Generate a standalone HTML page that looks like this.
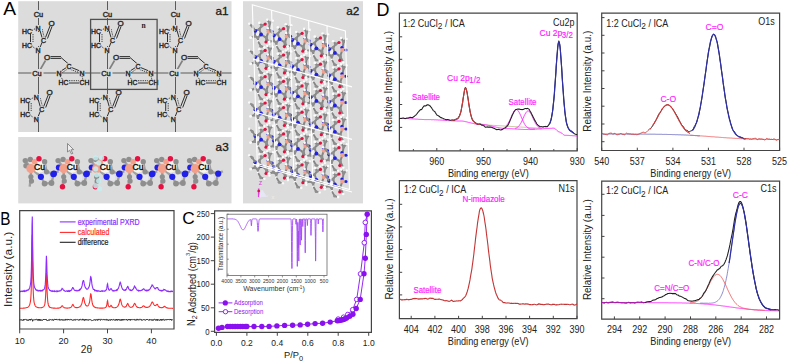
<!DOCTYPE html>
<html><head><meta charset="utf-8"><style>
html,body{margin:0;padding:0;background:#fff;width:788px;height:362px;overflow:hidden}
svg{display:block;font-family:"Liberation Sans",sans-serif}
</style></head><body>
<svg width="788" height="362" viewBox="0 0 788 362">
<defs><clipPath id="cpa3"><rect x="18.2" y="137" width="213.3" height="66.4"/></clipPath><clipPath id="cpa2"><rect x="243" y="1.2" width="120" height="202.2"/></clipPath></defs>
<rect width="788" height="362" fill="#fff"/>
<text x="3.3" y="14.6" font-size="19.2" fill="#000" text-anchor="start" >A</text>
<text transform="translate(0.2,224.9) scale(0.85,1)" font-size="18" fill="#000" text-anchor="start" >B</text>
<text x="182.2" y="224.3" font-size="17.3" fill="#000" text-anchor="start" >C</text>
<text transform="translate(376.4,15.5) scale(0.97,1)" font-size="18.5" fill="#000" text-anchor="start" >D</text>
<rect x="18.2" y="1.2" width="213.3" height="130.8" fill="#dcdcdc"/>
<rect x="18.2" y="137" width="213.3" height="66.4" fill="#dcdcdc"/>
<rect x="243" y="1.2" width="120" height="202.2" fill="#dcdcdc"/>
<g><line x1="18.2" y1="73" x2="231.5" y2="73" stroke="#5a5a5a" stroke-width="1.0"/><line x1="38.5" y1="1.2" x2="38.5" y2="132" stroke="#5a5a5a" stroke-width="1.0"/><line x1="107.5" y1="1.2" x2="107.5" y2="132" stroke="#5a5a5a" stroke-width="1.0"/><line x1="175.5" y1="1.2" x2="175.5" y2="132" stroke="#5a5a5a" stroke-width="1.0"/><rect x="33" y="10" width="11" height="8" fill="#dcdcdc"/><text x="38.5" y="14" font-size="7.4" fill="#2e2e2e" text-anchor="middle" dominant-baseline="central" stroke="#2e2e2e" stroke-width="0.45">Cu</text><rect x="34.5" y="32" width="8" height="14" fill="#dcdcdc"/><line x1="30.5" y1="34" x2="30.5" y2="42" stroke="#2e2e2e" stroke-width="1.0"/><line x1="33" y1="34" x2="33" y2="42" stroke="#2e2e2e" stroke-width="0.9" stroke-dasharray="1.3,1"/><line x1="32" y1="30.5" x2="35.5" y2="28.5" stroke="#2e2e2e" stroke-width="0.9" stroke-dasharray="1.3,1"/><line x1="32" y1="45.5" x2="35.5" y2="49.5" stroke="#2e2e2e" stroke-width="0.9" stroke-dasharray="1.3,1"/><line x1="40" y1="30.5" x2="42" y2="37.5" stroke="#2e2e2e" stroke-width="1.0"/><line x1="42" y1="29" x2="44" y2="36.5" stroke="#2e2e2e" stroke-width="0.9" stroke-dasharray="1.3,1"/><line x1="40" y1="47.5" x2="42" y2="42.5" stroke="#2e2e2e" stroke-width="1.0"/><line x1="45.5" y1="37.5" x2="50" y2="26" stroke="#2e2e2e" stroke-width="1.0"/><line x1="47.5" y1="38.5" x2="52" y2="26.5" stroke="#2e2e2e" stroke-width="1.0"/><rect x="35" y="25" width="7" height="6" fill="#dcdcdc"/><rect x="35" y="47" width="7" height="6" fill="#dcdcdc"/><text x="38" y="28" font-size="7.0" fill="#2e2e2e" text-anchor="middle" dominant-baseline="central" stroke="#2e2e2e" stroke-width="0.45">N</text><text x="27" y="31" font-size="6.8" fill="#2e2e2e" text-anchor="middle" dominant-baseline="central" stroke="#2e2e2e" stroke-width="0.45">HC</text><text x="43.5" y="40" font-size="7.0" fill="#2e2e2e" text-anchor="middle" dominant-baseline="central" stroke="#2e2e2e" stroke-width="0.45">C</text><text x="27" y="45" font-size="6.8" fill="#2e2e2e" text-anchor="middle" dominant-baseline="central" stroke="#2e2e2e" stroke-width="0.45">HC</text><text x="38" y="50" font-size="7.0" fill="#2e2e2e" text-anchor="middle" dominant-baseline="central" stroke="#2e2e2e" stroke-width="0.45">N</text><text x="51.5" y="23" font-size="8" fill="#2e2e2e" text-anchor="middle" dominant-baseline="central" stroke="#2e2e2e" stroke-width="0.45">O</text><rect x="32.7" y="101" width="8" height="14" fill="#dcdcdc"/><line x1="28.7" y1="103" x2="28.7" y2="111" stroke="#2e2e2e" stroke-width="1.0"/><line x1="31.2" y1="103" x2="31.2" y2="111" stroke="#2e2e2e" stroke-width="0.9" stroke-dasharray="1.3,1"/><line x1="30.2" y1="99.5" x2="33.7" y2="97.5" stroke="#2e2e2e" stroke-width="0.9" stroke-dasharray="1.3,1"/><line x1="30.2" y1="114.5" x2="33.7" y2="118.5" stroke="#2e2e2e" stroke-width="0.9" stroke-dasharray="1.3,1"/><line x1="38.2" y1="99.5" x2="40.2" y2="106.5" stroke="#2e2e2e" stroke-width="1.0"/><line x1="40.2" y1="98" x2="42.2" y2="105.5" stroke="#2e2e2e" stroke-width="0.9" stroke-dasharray="1.3,1"/><line x1="38.2" y1="116.5" x2="40.2" y2="111.5" stroke="#2e2e2e" stroke-width="1.0"/><line x1="43.7" y1="106.5" x2="48.2" y2="95" stroke="#2e2e2e" stroke-width="1.0"/><line x1="45.7" y1="107.5" x2="50.2" y2="95.5" stroke="#2e2e2e" stroke-width="1.0"/><rect x="33.2" y="94" width="7" height="6" fill="#dcdcdc"/><rect x="33.2" y="116" width="7" height="6" fill="#dcdcdc"/><text x="36.2" y="97" font-size="7.0" fill="#2e2e2e" text-anchor="middle" dominant-baseline="central" stroke="#2e2e2e" stroke-width="0.45">N</text><text x="25.2" y="100" font-size="6.8" fill="#2e2e2e" text-anchor="middle" dominant-baseline="central" stroke="#2e2e2e" stroke-width="0.45">HC</text><text x="41.7" y="109" font-size="7.0" fill="#2e2e2e" text-anchor="middle" dominant-baseline="central" stroke="#2e2e2e" stroke-width="0.45">C</text><text x="25.2" y="114" font-size="6.8" fill="#2e2e2e" text-anchor="middle" dominant-baseline="central" stroke="#2e2e2e" stroke-width="0.45">HC</text><text x="36.2" y="119" font-size="7.0" fill="#2e2e2e" text-anchor="middle" dominant-baseline="central" stroke="#2e2e2e" stroke-width="0.45">N</text><text x="49.7" y="92" font-size="8" fill="#2e2e2e" text-anchor="middle" dominant-baseline="central" stroke="#2e2e2e" stroke-width="0.45">O</text><line x1="40" y1="70" x2="45.5" y2="60.5" stroke="#808080" stroke-width="1.6"/><line x1="61" y1="71" x2="66.5" y2="67.5" stroke="#2e2e2e" stroke-width="1.0"/><line x1="62.5" y1="72.5" x2="67.5" y2="69" stroke="#2e2e2e" stroke-width="0.9" stroke-dasharray="1.3,1"/><line x1="71.5" y1="67.5" x2="80" y2="71" stroke="#2e2e2e" stroke-width="1.0"/><line x1="70.5" y1="69.5" x2="79" y2="72.5" stroke="#2e2e2e" stroke-width="0.9" stroke-dasharray="1.3,1"/><line x1="60" y1="76" x2="63" y2="80" stroke="#2e2e2e" stroke-width="0.9" stroke-dasharray="1.3,1"/><line x1="69" y1="83" x2="79" y2="83" stroke="#2e2e2e" stroke-width="1.0"/><line x1="69" y1="80.7" x2="79" y2="80.7" stroke="#2e2e2e" stroke-width="0.9" stroke-dasharray="1.3,1"/><line x1="82" y1="76" x2="83" y2="80" stroke="#2e2e2e" stroke-width="0.9" stroke-dasharray="1.3,1"/><line x1="68.5" y1="64" x2="61" y2="57.5" stroke="#2e2e2e" stroke-width="1.0"/><line x1="50.5" y1="56.6" x2="61" y2="56.6" stroke="#2e2e2e" stroke-width="1.0"/><line x1="50.5" y1="58.4" x2="61" y2="58.4" stroke="#2e2e2e" stroke-width="1.0"/><rect x="56.2" y="70" width="5.6" height="6" fill="#dcdcdc"/><text x="59" y="73" font-size="7.0" fill="#2e2e2e" text-anchor="middle" dominant-baseline="central" stroke="#2e2e2e" stroke-width="0.45">N</text><rect x="66.2" y="63.5" width="5.6" height="6" fill="#dcdcdc"/><text x="69" y="66.5" font-size="7.0" fill="#2e2e2e" text-anchor="middle" dominant-baseline="central" stroke="#2e2e2e" stroke-width="0.45">C</text><rect x="79.2" y="70" width="5.6" height="6" fill="#dcdcdc"/><text x="82" y="73" font-size="7.0" fill="#2e2e2e" text-anchor="middle" dominant-baseline="central" stroke="#2e2e2e" stroke-width="0.45">N</text><text x="63.5" y="82.5" font-size="6.8" fill="#2e2e2e" text-anchor="middle" dominant-baseline="central" stroke="#2e2e2e" stroke-width="0.45">HC</text><text x="84.5" y="82.5" font-size="6.8" fill="#2e2e2e" text-anchor="middle" dominant-baseline="central" stroke="#2e2e2e" stroke-width="0.45">CH</text><text x="47" y="57.5" font-size="8" fill="#2e2e2e" text-anchor="middle" dominant-baseline="central" stroke="#2e2e2e" stroke-width="0.45">O</text><rect x="102" y="10" width="11" height="8" fill="#dcdcdc"/><text x="107.5" y="14" font-size="7.4" fill="#2e2e2e" text-anchor="middle" dominant-baseline="central" stroke="#2e2e2e" stroke-width="0.45">Cu</text><rect x="103.5" y="32" width="8" height="14" fill="#dcdcdc"/><line x1="99.5" y1="34" x2="99.5" y2="42" stroke="#2e2e2e" stroke-width="1.0"/><line x1="102" y1="34" x2="102" y2="42" stroke="#2e2e2e" stroke-width="0.9" stroke-dasharray="1.3,1"/><line x1="101" y1="30.5" x2="104.5" y2="28.5" stroke="#2e2e2e" stroke-width="0.9" stroke-dasharray="1.3,1"/><line x1="101" y1="45.5" x2="104.5" y2="49.5" stroke="#2e2e2e" stroke-width="0.9" stroke-dasharray="1.3,1"/><line x1="109" y1="30.5" x2="111" y2="37.5" stroke="#2e2e2e" stroke-width="1.0"/><line x1="111" y1="29" x2="113" y2="36.5" stroke="#2e2e2e" stroke-width="0.9" stroke-dasharray="1.3,1"/><line x1="109" y1="47.5" x2="111" y2="42.5" stroke="#2e2e2e" stroke-width="1.0"/><line x1="114.5" y1="37.5" x2="119" y2="26" stroke="#2e2e2e" stroke-width="1.0"/><line x1="116.5" y1="38.5" x2="121" y2="26.5" stroke="#2e2e2e" stroke-width="1.0"/><rect x="104" y="25" width="7" height="6" fill="#dcdcdc"/><rect x="104" y="47" width="7" height="6" fill="#dcdcdc"/><text x="107" y="28" font-size="7.0" fill="#2e2e2e" text-anchor="middle" dominant-baseline="central" stroke="#2e2e2e" stroke-width="0.45">N</text><text x="96" y="31" font-size="6.8" fill="#2e2e2e" text-anchor="middle" dominant-baseline="central" stroke="#2e2e2e" stroke-width="0.45">HC</text><text x="112.5" y="40" font-size="7.0" fill="#2e2e2e" text-anchor="middle" dominant-baseline="central" stroke="#2e2e2e" stroke-width="0.45">C</text><text x="96" y="45" font-size="6.8" fill="#2e2e2e" text-anchor="middle" dominant-baseline="central" stroke="#2e2e2e" stroke-width="0.45">HC</text><text x="107" y="50" font-size="7.0" fill="#2e2e2e" text-anchor="middle" dominant-baseline="central" stroke="#2e2e2e" stroke-width="0.45">N</text><text x="120.5" y="23" font-size="8" fill="#2e2e2e" text-anchor="middle" dominant-baseline="central" stroke="#2e2e2e" stroke-width="0.45">O</text><rect x="101.7" y="101" width="8" height="14" fill="#dcdcdc"/><line x1="97.7" y1="103" x2="97.7" y2="111" stroke="#2e2e2e" stroke-width="1.0"/><line x1="100.2" y1="103" x2="100.2" y2="111" stroke="#2e2e2e" stroke-width="0.9" stroke-dasharray="1.3,1"/><line x1="99.2" y1="99.5" x2="102.7" y2="97.5" stroke="#2e2e2e" stroke-width="0.9" stroke-dasharray="1.3,1"/><line x1="99.2" y1="114.5" x2="102.7" y2="118.5" stroke="#2e2e2e" stroke-width="0.9" stroke-dasharray="1.3,1"/><line x1="107.2" y1="99.5" x2="109.2" y2="106.5" stroke="#2e2e2e" stroke-width="1.0"/><line x1="109.2" y1="98" x2="111.2" y2="105.5" stroke="#2e2e2e" stroke-width="0.9" stroke-dasharray="1.3,1"/><line x1="107.2" y1="116.5" x2="109.2" y2="111.5" stroke="#2e2e2e" stroke-width="1.0"/><line x1="112.7" y1="106.5" x2="117.2" y2="95" stroke="#2e2e2e" stroke-width="1.0"/><line x1="114.7" y1="107.5" x2="119.2" y2="95.5" stroke="#2e2e2e" stroke-width="1.0"/><rect x="102.2" y="94" width="7" height="6" fill="#dcdcdc"/><rect x="102.2" y="116" width="7" height="6" fill="#dcdcdc"/><text x="105.2" y="97" font-size="7.0" fill="#2e2e2e" text-anchor="middle" dominant-baseline="central" stroke="#2e2e2e" stroke-width="0.45">N</text><text x="94.2" y="100" font-size="6.8" fill="#2e2e2e" text-anchor="middle" dominant-baseline="central" stroke="#2e2e2e" stroke-width="0.45">HC</text><text x="110.7" y="109" font-size="7.0" fill="#2e2e2e" text-anchor="middle" dominant-baseline="central" stroke="#2e2e2e" stroke-width="0.45">C</text><text x="94.2" y="114" font-size="6.8" fill="#2e2e2e" text-anchor="middle" dominant-baseline="central" stroke="#2e2e2e" stroke-width="0.45">HC</text><text x="105.2" y="119" font-size="7.0" fill="#2e2e2e" text-anchor="middle" dominant-baseline="central" stroke="#2e2e2e" stroke-width="0.45">N</text><text x="118.7" y="92" font-size="8" fill="#2e2e2e" text-anchor="middle" dominant-baseline="central" stroke="#2e2e2e" stroke-width="0.45">O</text><line x1="109" y1="70" x2="114.5" y2="60.5" stroke="#808080" stroke-width="1.6"/><line x1="130" y1="71" x2="135.5" y2="67.5" stroke="#2e2e2e" stroke-width="1.0"/><line x1="131.5" y1="72.5" x2="136.5" y2="69" stroke="#2e2e2e" stroke-width="0.9" stroke-dasharray="1.3,1"/><line x1="140.5" y1="67.5" x2="149" y2="71" stroke="#2e2e2e" stroke-width="1.0"/><line x1="139.5" y1="69.5" x2="148" y2="72.5" stroke="#2e2e2e" stroke-width="0.9" stroke-dasharray="1.3,1"/><line x1="129" y1="76" x2="132" y2="80" stroke="#2e2e2e" stroke-width="0.9" stroke-dasharray="1.3,1"/><line x1="138" y1="83" x2="148" y2="83" stroke="#2e2e2e" stroke-width="1.0"/><line x1="138" y1="80.7" x2="148" y2="80.7" stroke="#2e2e2e" stroke-width="0.9" stroke-dasharray="1.3,1"/><line x1="151" y1="76" x2="152" y2="80" stroke="#2e2e2e" stroke-width="0.9" stroke-dasharray="1.3,1"/><line x1="137.5" y1="64" x2="130" y2="57.5" stroke="#2e2e2e" stroke-width="1.0"/><line x1="119.5" y1="56.6" x2="130" y2="56.6" stroke="#2e2e2e" stroke-width="1.0"/><line x1="119.5" y1="58.4" x2="130" y2="58.4" stroke="#2e2e2e" stroke-width="1.0"/><rect x="125.2" y="70" width="5.6" height="6" fill="#dcdcdc"/><text x="128" y="73" font-size="7.0" fill="#2e2e2e" text-anchor="middle" dominant-baseline="central" stroke="#2e2e2e" stroke-width="0.45">N</text><rect x="135.2" y="63.5" width="5.6" height="6" fill="#dcdcdc"/><text x="138" y="66.5" font-size="7.0" fill="#2e2e2e" text-anchor="middle" dominant-baseline="central" stroke="#2e2e2e" stroke-width="0.45">C</text><rect x="148.2" y="70" width="5.6" height="6" fill="#dcdcdc"/><text x="151" y="73" font-size="7.0" fill="#2e2e2e" text-anchor="middle" dominant-baseline="central" stroke="#2e2e2e" stroke-width="0.45">N</text><text x="132.5" y="82.5" font-size="6.8" fill="#2e2e2e" text-anchor="middle" dominant-baseline="central" stroke="#2e2e2e" stroke-width="0.45">HC</text><text x="153.5" y="82.5" font-size="6.8" fill="#2e2e2e" text-anchor="middle" dominant-baseline="central" stroke="#2e2e2e" stroke-width="0.45">CH</text><text x="116" y="57.5" font-size="8" fill="#2e2e2e" text-anchor="middle" dominant-baseline="central" stroke="#2e2e2e" stroke-width="0.45">O</text><rect x="170" y="10" width="11" height="8" fill="#dcdcdc"/><text x="175.5" y="14" font-size="7.4" fill="#2e2e2e" text-anchor="middle" dominant-baseline="central" stroke="#2e2e2e" stroke-width="0.45">Cu</text><rect x="171.5" y="32" width="8" height="14" fill="#dcdcdc"/><line x1="167.5" y1="34" x2="167.5" y2="42" stroke="#2e2e2e" stroke-width="1.0"/><line x1="170" y1="34" x2="170" y2="42" stroke="#2e2e2e" stroke-width="0.9" stroke-dasharray="1.3,1"/><line x1="169" y1="30.5" x2="172.5" y2="28.5" stroke="#2e2e2e" stroke-width="0.9" stroke-dasharray="1.3,1"/><line x1="169" y1="45.5" x2="172.5" y2="49.5" stroke="#2e2e2e" stroke-width="0.9" stroke-dasharray="1.3,1"/><line x1="177" y1="30.5" x2="179" y2="37.5" stroke="#2e2e2e" stroke-width="1.0"/><line x1="179" y1="29" x2="181" y2="36.5" stroke="#2e2e2e" stroke-width="0.9" stroke-dasharray="1.3,1"/><line x1="177" y1="47.5" x2="179" y2="42.5" stroke="#2e2e2e" stroke-width="1.0"/><line x1="182.5" y1="37.5" x2="187" y2="26" stroke="#2e2e2e" stroke-width="1.0"/><line x1="184.5" y1="38.5" x2="189" y2="26.5" stroke="#2e2e2e" stroke-width="1.0"/><rect x="172" y="25" width="7" height="6" fill="#dcdcdc"/><rect x="172" y="47" width="7" height="6" fill="#dcdcdc"/><text x="175" y="28" font-size="7.0" fill="#2e2e2e" text-anchor="middle" dominant-baseline="central" stroke="#2e2e2e" stroke-width="0.45">N</text><text x="164" y="31" font-size="6.8" fill="#2e2e2e" text-anchor="middle" dominant-baseline="central" stroke="#2e2e2e" stroke-width="0.45">HC</text><text x="180.5" y="40" font-size="7.0" fill="#2e2e2e" text-anchor="middle" dominant-baseline="central" stroke="#2e2e2e" stroke-width="0.45">C</text><text x="164" y="45" font-size="6.8" fill="#2e2e2e" text-anchor="middle" dominant-baseline="central" stroke="#2e2e2e" stroke-width="0.45">HC</text><text x="175" y="50" font-size="7.0" fill="#2e2e2e" text-anchor="middle" dominant-baseline="central" stroke="#2e2e2e" stroke-width="0.45">N</text><text x="188.5" y="23" font-size="8" fill="#2e2e2e" text-anchor="middle" dominant-baseline="central" stroke="#2e2e2e" stroke-width="0.45">O</text><rect x="169.7" y="101" width="8" height="14" fill="#dcdcdc"/><line x1="165.7" y1="103" x2="165.7" y2="111" stroke="#2e2e2e" stroke-width="1.0"/><line x1="168.2" y1="103" x2="168.2" y2="111" stroke="#2e2e2e" stroke-width="0.9" stroke-dasharray="1.3,1"/><line x1="167.2" y1="99.5" x2="170.7" y2="97.5" stroke="#2e2e2e" stroke-width="0.9" stroke-dasharray="1.3,1"/><line x1="167.2" y1="114.5" x2="170.7" y2="118.5" stroke="#2e2e2e" stroke-width="0.9" stroke-dasharray="1.3,1"/><line x1="175.2" y1="99.5" x2="177.2" y2="106.5" stroke="#2e2e2e" stroke-width="1.0"/><line x1="177.2" y1="98" x2="179.2" y2="105.5" stroke="#2e2e2e" stroke-width="0.9" stroke-dasharray="1.3,1"/><line x1="175.2" y1="116.5" x2="177.2" y2="111.5" stroke="#2e2e2e" stroke-width="1.0"/><line x1="180.7" y1="106.5" x2="185.2" y2="95" stroke="#2e2e2e" stroke-width="1.0"/><line x1="182.7" y1="107.5" x2="187.2" y2="95.5" stroke="#2e2e2e" stroke-width="1.0"/><rect x="170.2" y="94" width="7" height="6" fill="#dcdcdc"/><rect x="170.2" y="116" width="7" height="6" fill="#dcdcdc"/><text x="173.2" y="97" font-size="7.0" fill="#2e2e2e" text-anchor="middle" dominant-baseline="central" stroke="#2e2e2e" stroke-width="0.45">N</text><text x="162.2" y="100" font-size="6.8" fill="#2e2e2e" text-anchor="middle" dominant-baseline="central" stroke="#2e2e2e" stroke-width="0.45">HC</text><text x="178.7" y="109" font-size="7.0" fill="#2e2e2e" text-anchor="middle" dominant-baseline="central" stroke="#2e2e2e" stroke-width="0.45">C</text><text x="162.2" y="114" font-size="6.8" fill="#2e2e2e" text-anchor="middle" dominant-baseline="central" stroke="#2e2e2e" stroke-width="0.45">HC</text><text x="173.2" y="119" font-size="7.0" fill="#2e2e2e" text-anchor="middle" dominant-baseline="central" stroke="#2e2e2e" stroke-width="0.45">N</text><text x="186.7" y="92" font-size="8" fill="#2e2e2e" text-anchor="middle" dominant-baseline="central" stroke="#2e2e2e" stroke-width="0.45">O</text><line x1="177" y1="70" x2="182.5" y2="60.5" stroke="#808080" stroke-width="1.6"/><line x1="198" y1="71" x2="203.5" y2="67.5" stroke="#2e2e2e" stroke-width="1.0"/><line x1="199.5" y1="72.5" x2="204.5" y2="69" stroke="#2e2e2e" stroke-width="0.9" stroke-dasharray="1.3,1"/><line x1="208.5" y1="67.5" x2="217" y2="71" stroke="#2e2e2e" stroke-width="1.0"/><line x1="207.5" y1="69.5" x2="216" y2="72.5" stroke="#2e2e2e" stroke-width="0.9" stroke-dasharray="1.3,1"/><line x1="197" y1="76" x2="200" y2="80" stroke="#2e2e2e" stroke-width="0.9" stroke-dasharray="1.3,1"/><line x1="206" y1="83" x2="216" y2="83" stroke="#2e2e2e" stroke-width="1.0"/><line x1="206" y1="80.7" x2="216" y2="80.7" stroke="#2e2e2e" stroke-width="0.9" stroke-dasharray="1.3,1"/><line x1="219" y1="76" x2="220" y2="80" stroke="#2e2e2e" stroke-width="0.9" stroke-dasharray="1.3,1"/><line x1="205.5" y1="64" x2="198" y2="57.5" stroke="#2e2e2e" stroke-width="1.0"/><line x1="187.5" y1="56.6" x2="198" y2="56.6" stroke="#2e2e2e" stroke-width="1.0"/><line x1="187.5" y1="58.4" x2="198" y2="58.4" stroke="#2e2e2e" stroke-width="1.0"/><rect x="193.2" y="70" width="5.6" height="6" fill="#dcdcdc"/><text x="196" y="73" font-size="7.0" fill="#2e2e2e" text-anchor="middle" dominant-baseline="central" stroke="#2e2e2e" stroke-width="0.45">N</text><rect x="203.2" y="63.5" width="5.6" height="6" fill="#dcdcdc"/><text x="206" y="66.5" font-size="7.0" fill="#2e2e2e" text-anchor="middle" dominant-baseline="central" stroke="#2e2e2e" stroke-width="0.45">C</text><rect x="216.2" y="70" width="5.6" height="6" fill="#dcdcdc"/><text x="219" y="73" font-size="7.0" fill="#2e2e2e" text-anchor="middle" dominant-baseline="central" stroke="#2e2e2e" stroke-width="0.45">N</text><text x="200.5" y="82.5" font-size="6.8" fill="#2e2e2e" text-anchor="middle" dominant-baseline="central" stroke="#2e2e2e" stroke-width="0.45">HC</text><text x="221.5" y="82.5" font-size="6.8" fill="#2e2e2e" text-anchor="middle" dominant-baseline="central" stroke="#2e2e2e" stroke-width="0.45">CH</text><text x="184" y="57.5" font-size="8" fill="#2e2e2e" text-anchor="middle" dominant-baseline="central" stroke="#2e2e2e" stroke-width="0.45">O</text><rect x="31.5" y="69" width="12" height="8" fill="#dcdcdc"/><text x="37" y="73" font-size="7.4" fill="#2e2e2e" text-anchor="middle" dominant-baseline="central" stroke="#2e2e2e" stroke-width="0.45">Cu</text><rect x="100.5" y="69" width="12" height="8" fill="#dcdcdc"/><text x="106" y="73" font-size="7.4" fill="#2e2e2e" text-anchor="middle" dominant-baseline="central" stroke="#2e2e2e" stroke-width="0.45">Cu</text><rect x="168.5" y="69" width="12" height="8" fill="#dcdcdc"/><text x="174" y="73" font-size="7.4" fill="#2e2e2e" text-anchor="middle" dominant-baseline="central" stroke="#2e2e2e" stroke-width="0.45">Cu</text></g>
<rect x="90.6" y="19.4" width="66.5" height="70" fill="none" stroke="#505050" stroke-width="1.3"/>
<text x="143.6" y="27.8" font-size="7.5" fill="#222" text-anchor="middle" font-family="Liberation Serif" font-weight="bold">n</text>
<text transform="translate(215.4,14.5) scale(1.05,1)" font-size="11.2" fill="#1a1a1a" text-anchor="start" stroke="#1a1a1a" stroke-width="0.3">a1</text>
<text transform="translate(215.6,151) scale(1.05,1)" font-size="11.2" fill="#1a1a1a" text-anchor="start" stroke="#1a1a1a" stroke-width="0.3">a3</text>
<text transform="translate(346.2,15) scale(1.05,1)" font-size="11.2" fill="#1a1a1a" text-anchor="start" stroke="#1a1a1a" stroke-width="0.3">a2</text>
<g clip-path="url(#cpa3)"><path d="M25.3,160.6 L30.9,168.1 L30.9,176.8 L29.7,186.7 M30.9,168.1 L40.9,176.8 L44.6,183.6 L51.5,183 L53.9,173.7 L46.5,171.8 L44.6,161.8 M53.9,173.7 L58.5,171.3" stroke="#a0a0a0" stroke-width="2.4" fill="none"/><circle cx="46.5" cy="177.4" r="3.2" fill="#e6e6ee"/><circle cx="39.3" cy="166.5" r="6.2" fill="#f8f4ea"/><circle cx="25.3" cy="160.6" r="2.7" fill="#8e8e8e"/><circle cx="30.3" cy="159.4" r="2.7" fill="#8e8e8e"/><circle cx="44.6" cy="161.8" r="2.7" fill="#8e8e8e"/><circle cx="46.5" cy="171.8" r="2.6" fill="#8e8e8e"/><circle cx="26" cy="165.8" r="2.7" fill="#8e8e8e"/><circle cx="30.9" cy="168.6" r="4.6" fill="#f2a08c"/><circle cx="34.7" cy="161.8" r="2.8" fill="#f2a08c"/><circle cx="30.9" cy="176.8" r="2.6" fill="#8e8e8e"/><circle cx="31.5" cy="181.1" r="2.6" fill="#8e8e8e"/><circle cx="40.9" cy="176.8" r="3.1" fill="#2020e8"/><circle cx="53.9" cy="173.7" r="3.1" fill="#2020e8"/><circle cx="44.6" cy="183.6" r="2.9" fill="#8e8e8e"/><circle cx="51.5" cy="183" r="2.9" fill="#8e8e8e"/><circle cx="39" cy="158.7" r="2.7" fill="#e81040"/><text x="39.5" y="166.8" font-size="8.6" fill="#111" text-anchor="middle" dominant-baseline="central" stroke="#111" stroke-width="0.4">Cu</text><path d="M58.1,160.6 L63.7,168.1 L63.7,176.8 L62.5,186.7 M63.7,168.1 L73.8,176.8 L77.4,183.6 L84.3,183 L86.8,173.7 L79.3,171.8 L77.4,161.8 M86.8,173.7 L91.3,171.3" stroke="#a0a0a0" stroke-width="2.4" fill="none"/><circle cx="79.3" cy="177.4" r="3.2" fill="#e6e6ee"/><circle cx="72.1" cy="166.5" r="6.2" fill="#f8f4ea"/><circle cx="58.1" cy="160.6" r="2.7" fill="#8e8e8e"/><circle cx="63.1" cy="159.4" r="2.7" fill="#8e8e8e"/><circle cx="77.4" cy="161.8" r="2.7" fill="#8e8e8e"/><circle cx="79.3" cy="171.8" r="2.6" fill="#8e8e8e"/><circle cx="58.8" cy="167.4" r="3" fill="#2020e8"/><circle cx="53.3" cy="174.3" r="3" fill="#2020e8"/><circle cx="63.7" cy="168.6" r="4.6" fill="#f2a08c"/><circle cx="67.5" cy="161.8" r="2.8" fill="#f2a08c"/><circle cx="63.7" cy="176.8" r="2.6" fill="#8e8e8e"/><circle cx="64.3" cy="181.1" r="2.6" fill="#8e8e8e"/><circle cx="62.5" cy="186.7" r="2.7" fill="#e81040"/><circle cx="73.8" cy="176.8" r="3.1" fill="#2020e8"/><circle cx="86.8" cy="173.7" r="3.1" fill="#2020e8"/><circle cx="77.4" cy="183.6" r="2.9" fill="#8e8e8e"/><circle cx="84.3" cy="183" r="2.9" fill="#8e8e8e"/><circle cx="71.8" cy="158.7" r="2.7" fill="#e81040"/><text x="72.3" y="166.8" font-size="8.6" fill="#111" text-anchor="middle" dominant-baseline="central" stroke="#111" stroke-width="0.4">Cu</text><path d="M91,160.6 L96.6,168.1 L96.6,176.8 L95.4,186.7 M96.6,168.1 L106.6,176.8 L110.3,183.6 L117.2,183 L119.6,173.7 L112.2,171.8 L110.3,161.8 M119.6,173.7 L124.2,171.3" stroke="#a0a0a0" stroke-width="2.4" fill="none"/><circle cx="112.2" cy="177.4" r="3.2" fill="#e6e6ee"/><circle cx="105" cy="166.5" r="6.2" fill="#f8f4ea"/><circle cx="91" cy="160.6" r="2.7" fill="#8e8e8e"/><circle cx="96" cy="159.4" r="2.7" fill="#8e8e8e"/><circle cx="110.3" cy="161.8" r="2.7" fill="#8e8e8e"/><circle cx="112.2" cy="171.8" r="2.6" fill="#8e8e8e"/><circle cx="91.7" cy="167.4" r="3" fill="#2020e8"/><circle cx="86.2" cy="174.3" r="3" fill="#2020e8"/><circle cx="96.6" cy="168.6" r="4.6" fill="#f2a08c"/><circle cx="100.4" cy="161.8" r="2.8" fill="#f2a08c"/><circle cx="96.6" cy="176.8" r="2.6" fill="#8e8e8e"/><circle cx="97.2" cy="181.1" r="2.6" fill="#8e8e8e"/><circle cx="95.4" cy="186.7" r="2.7" fill="#e81040"/><circle cx="106.6" cy="176.8" r="3.1" fill="#2020e8"/><circle cx="119.6" cy="173.7" r="3.1" fill="#2020e8"/><circle cx="110.3" cy="183.6" r="2.9" fill="#8e8e8e"/><circle cx="117.2" cy="183" r="2.9" fill="#8e8e8e"/><circle cx="104.7" cy="158.7" r="2.7" fill="#e81040"/><text x="105.2" y="166.8" font-size="8.6" fill="#111" text-anchor="middle" dominant-baseline="central" stroke="#111" stroke-width="0.4">Cu</text><circle cx="95.7" cy="157.8" r="2.6" fill="#c4eef0" opacity="0.85"/><circle cx="98.7" cy="162.8" r="2.6" fill="#c4eef0" opacity="0.85"/><circle cx="95.7" cy="168.8" r="2.6" fill="#c4eef0" opacity="0.85"/><circle cx="96.7" cy="174.8" r="2.6" fill="#c4eef0" opacity="0.85"/><circle cx="98.7" cy="180.8" r="2.6" fill="#c4eef0" opacity="0.85"/><circle cx="95.7" cy="185.8" r="2.6" fill="#c4eef0" opacity="0.85"/><circle cx="99.7" cy="188.8" r="2.6" fill="#c4eef0" opacity="0.85"/><circle cx="101.7" cy="157.8" r="2.6" fill="#c4eef0" opacity="0.85"/><path d="M123.9,160.6 L129.5,168.1 L129.5,176.8 L128.2,186.7 M129.5,168.1 L139.5,176.8 L143.2,183.6 L150.1,183 L152.5,173.7 L145.1,171.8 L143.2,161.8 M152.5,173.7 L157.1,171.3" stroke="#a0a0a0" stroke-width="2.4" fill="none"/><circle cx="145.1" cy="177.4" r="3.2" fill="#e6e6ee"/><circle cx="137.9" cy="166.5" r="6.2" fill="#f8f4ea"/><circle cx="123.9" cy="160.6" r="2.7" fill="#8e8e8e"/><circle cx="128.9" cy="159.4" r="2.7" fill="#8e8e8e"/><circle cx="143.2" cy="161.8" r="2.7" fill="#8e8e8e"/><circle cx="145.1" cy="171.8" r="2.6" fill="#8e8e8e"/><circle cx="124.6" cy="167.4" r="3" fill="#2020e8"/><circle cx="119.1" cy="174.3" r="3" fill="#2020e8"/><circle cx="129.5" cy="168.6" r="4.6" fill="#f2a08c"/><circle cx="133.2" cy="161.8" r="2.8" fill="#f2a08c"/><circle cx="129.5" cy="176.8" r="2.6" fill="#8e8e8e"/><circle cx="130.1" cy="181.1" r="2.6" fill="#8e8e8e"/><circle cx="128.2" cy="186.7" r="2.7" fill="#e81040"/><circle cx="139.5" cy="176.8" r="3.1" fill="#2020e8"/><circle cx="152.5" cy="173.7" r="3.1" fill="#2020e8"/><circle cx="143.2" cy="183.6" r="2.9" fill="#8e8e8e"/><circle cx="150.1" cy="183" r="2.9" fill="#8e8e8e"/><circle cx="137.6" cy="158.7" r="2.7" fill="#e81040"/><text x="138.1" y="166.8" font-size="8.6" fill="#111" text-anchor="middle" dominant-baseline="central" stroke="#111" stroke-width="0.4">Cu</text><path d="M156.7,160.6 L162.3,168.1 L162.3,176.8 L161.1,186.7 M162.3,168.1 L172.3,176.8 L176,183.6 L182.9,183 L185.3,173.7 L177.9,171.8 L176,161.8 M185.3,173.7 L189.9,171.3" stroke="#a0a0a0" stroke-width="2.4" fill="none"/><circle cx="177.9" cy="177.4" r="3.2" fill="#e6e6ee"/><circle cx="170.7" cy="166.5" r="6.2" fill="#f8f4ea"/><circle cx="156.7" cy="160.6" r="2.7" fill="#8e8e8e"/><circle cx="161.7" cy="159.4" r="2.7" fill="#8e8e8e"/><circle cx="176" cy="161.8" r="2.7" fill="#8e8e8e"/><circle cx="177.9" cy="171.8" r="2.6" fill="#8e8e8e"/><circle cx="157.4" cy="167.4" r="3" fill="#2020e8"/><circle cx="151.9" cy="174.3" r="3" fill="#2020e8"/><circle cx="162.3" cy="168.6" r="4.6" fill="#f2a08c"/><circle cx="166.1" cy="161.8" r="2.8" fill="#f2a08c"/><circle cx="162.3" cy="176.8" r="2.6" fill="#8e8e8e"/><circle cx="162.9" cy="181.1" r="2.6" fill="#8e8e8e"/><circle cx="161.1" cy="186.7" r="2.7" fill="#e81040"/><circle cx="172.3" cy="176.8" r="3.1" fill="#2020e8"/><circle cx="185.3" cy="173.7" r="3.1" fill="#2020e8"/><circle cx="176" cy="183.6" r="2.9" fill="#8e8e8e"/><circle cx="182.9" cy="183" r="2.9" fill="#8e8e8e"/><circle cx="170.4" cy="158.7" r="2.7" fill="#e81040"/><text x="170.9" y="166.8" font-size="8.6" fill="#111" text-anchor="middle" dominant-baseline="central" stroke="#111" stroke-width="0.4">Cu</text><path d="M189.6,160.6 L195.2,168.1 L195.2,176.8 L193.9,186.7 M195.2,168.1 L205.2,176.8 L208.8,183.6 L215.8,183 L218.2,173.7 L210.8,171.8 L208.8,161.8 M218.2,173.7 L222.8,171.3" stroke="#a0a0a0" stroke-width="2.4" fill="none"/><circle cx="210.8" cy="177.4" r="3.2" fill="#e6e6ee"/><circle cx="203.6" cy="166.5" r="6.2" fill="#f8f4ea"/><circle cx="189.6" cy="160.6" r="2.7" fill="#8e8e8e"/><circle cx="194.6" cy="159.4" r="2.7" fill="#8e8e8e"/><circle cx="208.8" cy="161.8" r="2.7" fill="#8e8e8e"/><circle cx="210.8" cy="171.8" r="2.6" fill="#8e8e8e"/><circle cx="190.2" cy="167.4" r="3" fill="#2020e8"/><circle cx="184.8" cy="174.3" r="3" fill="#2020e8"/><circle cx="195.2" cy="168.6" r="4.6" fill="#f2a08c"/><circle cx="198.9" cy="161.8" r="2.8" fill="#f2a08c"/><circle cx="195.2" cy="176.8" r="2.6" fill="#8e8e8e"/><circle cx="195.8" cy="181.1" r="2.6" fill="#8e8e8e"/><circle cx="193.9" cy="186.7" r="2.7" fill="#e81040"/><circle cx="205.2" cy="176.8" r="3.1" fill="#2020e8"/><circle cx="218.2" cy="173.7" r="3.1" fill="#2020e8"/><circle cx="208.8" cy="183.6" r="2.9" fill="#8e8e8e"/><circle cx="215.8" cy="183" r="2.9" fill="#8e8e8e"/><circle cx="203.2" cy="158.7" r="2.7" fill="#e81040"/><text x="203.8" y="166.8" font-size="8.6" fill="#111" text-anchor="middle" dominant-baseline="central" stroke="#111" stroke-width="0.4">Cu</text></g>
<path d="M67.5,143.5 L67.5,152 L69.5,150.3 L71.5,154 L72.8,153.4 L70.9,149.8 L73.6,149.6 Z" fill="#eee" stroke="#666" stroke-width="0.7"/>
<g clip-path="url(#cpa2)"><path d="M255.3,30.8 L259.3,29.2 L261.1,34.5 L257.8,37.8 L254.9,36.1 Z" stroke="#858585" stroke-width="2" fill="#f2f2f6"/><path d="M259.3,29.2 L261.9,25.8 L265.2,24.1 M261.9,25.8 L259.4,22.9 M261.1,34.5 L266.4,37.8 L266,42 M266.4,37.8 L268.5,31.6 L269.8,23.3 M268.5,31.6 L272.2,31.6 M254.9,36.1 L250.7,37.4 M257.8,37.8 L258.2,41.5 M266.4,37.8 L269.4,44 M269.8,23.3 L272.8,20.7 M269.8,23.3 L267.3,19.7" stroke="#858585" stroke-width="2" fill="none"/><circle cx="255.3" cy="30.8" r="1.9" fill="#2020e8"/><circle cx="261.1" cy="34.5" r="1.9" fill="#2020e8"/><circle cx="254.9" cy="36.1" r="1.6" fill="#8e8e8e"/><circle cx="257.8" cy="37.8" r="1.6" fill="#8e8e8e"/><circle cx="259.3" cy="29.2" r="1.5" fill="#8e8e8e"/><circle cx="261.9" cy="25.8" r="1.6" fill="#8e8e8e"/><circle cx="266.4" cy="37.8" r="1.6" fill="#8e8e8e"/><circle cx="265.2" cy="24.1" r="1.6" fill="#e81040"/><circle cx="266" cy="42" r="1.6" fill="#e81040"/><circle cx="259.4" cy="22.9" r="1.4" fill="#fafafa"/><circle cx="250.7" cy="37.4" r="1.5" fill="#fafafa"/><circle cx="258.2" cy="41.5" r="1.4" fill="#fafafa"/><circle cx="269.4" cy="44" r="1.3" fill="#fafafa"/><circle cx="272.8" cy="20.7" r="1.3" fill="#fafafa"/><circle cx="267.3" cy="19.7" r="1.3" fill="#fafafa"/><circle cx="269.8" cy="23.3" r="1.5" fill="#8e8e8e"/><circle cx="268.1" cy="29.1" r="1.6" fill="#2020e8"/><circle cx="272.2" cy="31.6" r="1.5" fill="#2020e8"/><circle cx="268.5" cy="31.6" r="2.1" fill="#f2a08c"/><path d="M258.2,41.5 L260.8,46.2 L264.3,47.2 M255.3,30.8 L252.3,26.2 L249.3,23.7" stroke="#858585" stroke-width="1.8" fill="none"/><circle cx="260.8" cy="46.2" r="1.5" fill="#8e8e8e"/><circle cx="264.3" cy="47.2" r="1.3" fill="#fafafa"/><circle cx="252.3" cy="26.2" r="1.5" fill="#8e8e8e"/><circle cx="249.3" cy="23.7" r="1.3" fill="#fafafa"/><path d="M273.8,35.4 L277.8,33.8 L279.6,39.1 L276.2,42.4 L273.4,40.7 Z" stroke="#858585" stroke-width="2" fill="#f2f2f6"/><path d="M277.8,33.8 L280.4,30.4 L283.6,28.7 M280.4,30.4 L277.9,27.5 M279.6,39.1 L284.9,42.4 L284.4,46.6 M284.9,42.4 L286.9,36.2 L288.2,27.9 M286.9,36.2 L290.6,36.2 M273.4,40.7 L269.1,42 M276.2,42.4 L276.6,46.1 M284.9,42.4 L287.9,48.6 M288.2,27.9 L291.2,25.3 M288.2,27.9 L285.8,24.3" stroke="#858585" stroke-width="2" fill="none"/><circle cx="273.8" cy="35.4" r="1.9" fill="#2020e8"/><circle cx="279.6" cy="39.1" r="1.9" fill="#2020e8"/><circle cx="273.4" cy="40.7" r="1.6" fill="#8e8e8e"/><circle cx="276.2" cy="42.4" r="1.6" fill="#8e8e8e"/><circle cx="277.8" cy="33.8" r="1.5" fill="#8e8e8e"/><circle cx="280.4" cy="30.4" r="1.6" fill="#8e8e8e"/><circle cx="284.9" cy="42.4" r="1.6" fill="#8e8e8e"/><circle cx="283.6" cy="28.7" r="1.6" fill="#e81040"/><circle cx="284.4" cy="46.6" r="1.6" fill="#e81040"/><circle cx="277.9" cy="27.5" r="1.4" fill="#fafafa"/><circle cx="269.1" cy="42" r="1.5" fill="#fafafa"/><circle cx="276.6" cy="46.1" r="1.4" fill="#fafafa"/><circle cx="287.9" cy="48.6" r="1.3" fill="#fafafa"/><circle cx="291.2" cy="25.3" r="1.3" fill="#fafafa"/><circle cx="285.8" cy="24.3" r="1.3" fill="#fafafa"/><circle cx="288.2" cy="27.9" r="1.5" fill="#8e8e8e"/><circle cx="286.6" cy="33.7" r="1.6" fill="#2020e8"/><circle cx="290.6" cy="36.2" r="1.5" fill="#2020e8"/><circle cx="286.9" cy="36.2" r="2.1" fill="#f2a08c"/><path d="M276.6,46.1 L279.2,50.8 L282.8,51.8 M273.8,35.4 L270.8,30.8 L267.8,28.3" stroke="#858585" stroke-width="1.8" fill="none"/><circle cx="279.2" cy="50.8" r="1.5" fill="#8e8e8e"/><circle cx="282.8" cy="51.8" r="1.3" fill="#fafafa"/><circle cx="270.8" cy="30.8" r="1.5" fill="#8e8e8e"/><circle cx="267.8" cy="28.3" r="1.3" fill="#fafafa"/><path d="M292.2,40 L296.2,38.4 L298,43.7 L294.7,47 L291.8,45.3 Z" stroke="#858585" stroke-width="2" fill="#f2f2f6"/><path d="M296.2,38.4 L298.8,35 L302.1,33.3 M298.8,35 L296.3,32.1 M298,43.7 L303.3,47 L302.9,51.2 M303.3,47 L305.4,40.8 L306.7,32.5 M305.4,40.8 L309.1,40.8 M291.8,45.3 L287.6,46.6 M294.7,47 L295.1,50.7 M303.3,47 L306.3,53.2 M306.7,32.5 L309.7,29.9 M306.7,32.5 L304.2,28.9" stroke="#858585" stroke-width="2" fill="none"/><circle cx="292.2" cy="40" r="1.9" fill="#2020e8"/><circle cx="298" cy="43.7" r="1.9" fill="#2020e8"/><circle cx="291.8" cy="45.3" r="1.6" fill="#8e8e8e"/><circle cx="294.7" cy="47" r="1.6" fill="#8e8e8e"/><circle cx="296.2" cy="38.4" r="1.5" fill="#8e8e8e"/><circle cx="298.8" cy="35" r="1.6" fill="#8e8e8e"/><circle cx="303.3" cy="47" r="1.6" fill="#8e8e8e"/><circle cx="302.1" cy="33.3" r="1.6" fill="#e81040"/><circle cx="302.9" cy="51.2" r="1.6" fill="#e81040"/><circle cx="296.3" cy="32.1" r="1.4" fill="#fafafa"/><circle cx="287.6" cy="46.6" r="1.5" fill="#fafafa"/><circle cx="295.1" cy="50.7" r="1.4" fill="#fafafa"/><circle cx="306.3" cy="53.2" r="1.3" fill="#fafafa"/><circle cx="309.7" cy="29.9" r="1.3" fill="#fafafa"/><circle cx="304.2" cy="28.9" r="1.3" fill="#fafafa"/><circle cx="306.7" cy="32.5" r="1.5" fill="#8e8e8e"/><circle cx="305" cy="38.3" r="1.6" fill="#2020e8"/><circle cx="309.1" cy="40.8" r="1.5" fill="#2020e8"/><circle cx="305.4" cy="40.8" r="2.1" fill="#f2a08c"/><path d="M295.1,50.7 L297.7,55.4 L301.2,56.4 M292.2,40 L289.2,35.4 L286.2,32.9" stroke="#858585" stroke-width="1.8" fill="none"/><circle cx="297.7" cy="55.4" r="1.5" fill="#8e8e8e"/><circle cx="301.2" cy="56.4" r="1.3" fill="#fafafa"/><circle cx="289.2" cy="35.4" r="1.5" fill="#8e8e8e"/><circle cx="286.2" cy="32.9" r="1.3" fill="#fafafa"/><path d="M310.6,44.6 L314.6,43 L316.4,48.3 L313.1,51.6 L310.2,49.9 Z" stroke="#858585" stroke-width="2" fill="#f2f2f6"/><path d="M314.6,43 L317.2,39.6 L320.5,37.9 M317.2,39.6 L314.8,36.7 M316.4,48.3 L321.8,51.6 L321.3,55.8 M321.8,51.6 L323.8,45.4 L325.1,37.1 M323.8,45.4 L327.5,45.4 M310.2,49.9 L306,51.2 M313.1,51.6 L313.5,55.3 M321.8,51.6 L324.8,57.8 M325.1,37.1 L328.1,34.5 M325.1,37.1 L322.6,33.5" stroke="#858585" stroke-width="2" fill="none"/><circle cx="310.6" cy="44.6" r="1.9" fill="#2020e8"/><circle cx="316.4" cy="48.3" r="1.9" fill="#2020e8"/><circle cx="310.2" cy="49.9" r="1.6" fill="#8e8e8e"/><circle cx="313.1" cy="51.6" r="1.6" fill="#8e8e8e"/><circle cx="314.6" cy="43" r="1.5" fill="#8e8e8e"/><circle cx="317.2" cy="39.6" r="1.6" fill="#8e8e8e"/><circle cx="321.8" cy="51.6" r="1.6" fill="#8e8e8e"/><circle cx="320.5" cy="37.9" r="1.6" fill="#e81040"/><circle cx="321.3" cy="55.8" r="1.6" fill="#e81040"/><circle cx="314.8" cy="36.7" r="1.4" fill="#fafafa"/><circle cx="306" cy="51.2" r="1.5" fill="#fafafa"/><circle cx="313.5" cy="55.3" r="1.4" fill="#fafafa"/><circle cx="324.8" cy="57.8" r="1.3" fill="#fafafa"/><circle cx="328.1" cy="34.5" r="1.3" fill="#fafafa"/><circle cx="322.6" cy="33.5" r="1.3" fill="#fafafa"/><circle cx="325.1" cy="37.1" r="1.5" fill="#8e8e8e"/><circle cx="323.4" cy="42.9" r="1.6" fill="#2020e8"/><circle cx="327.5" cy="45.4" r="1.5" fill="#2020e8"/><circle cx="323.8" cy="45.4" r="2.1" fill="#f2a08c"/><path d="M313.5,55.3 L316.1,60 L319.6,61 M310.6,44.6 L307.6,40 L304.6,37.5" stroke="#858585" stroke-width="1.8" fill="none"/><circle cx="316.1" cy="60" r="1.5" fill="#8e8e8e"/><circle cx="319.6" cy="61" r="1.3" fill="#fafafa"/><circle cx="307.6" cy="40" r="1.5" fill="#8e8e8e"/><circle cx="304.6" cy="37.5" r="1.3" fill="#fafafa"/><path d="M329.1,49.2 L333.1,47.6 L334.9,52.9 L331.6,56.2 L328.7,54.5 Z" stroke="#858585" stroke-width="2" fill="#f2f2f6"/><path d="M333.1,47.6 L335.7,44.2 L339,42.5 M335.7,44.2 L333.2,41.3 M334.9,52.9 L340.2,56.2 L339.8,60.4 M340.2,56.2 L342.3,50 L343.6,41.7 M342.3,50 L346,50 M328.7,54.5 L324.5,55.8 M331.6,56.2 L332,59.9 M340.2,56.2 L343.2,62.4 M343.6,41.7 L346.6,39.1 M343.6,41.7 L341.1,38.1" stroke="#858585" stroke-width="2" fill="none"/><circle cx="329.1" cy="49.2" r="1.9" fill="#2020e8"/><circle cx="334.9" cy="52.9" r="1.9" fill="#2020e8"/><circle cx="328.7" cy="54.5" r="1.6" fill="#8e8e8e"/><circle cx="331.6" cy="56.2" r="1.6" fill="#8e8e8e"/><circle cx="333.1" cy="47.6" r="1.5" fill="#8e8e8e"/><circle cx="335.7" cy="44.2" r="1.6" fill="#8e8e8e"/><circle cx="340.2" cy="56.2" r="1.6" fill="#8e8e8e"/><circle cx="339" cy="42.5" r="1.6" fill="#e81040"/><circle cx="339.8" cy="60.4" r="1.6" fill="#e81040"/><circle cx="333.2" cy="41.3" r="1.4" fill="#fafafa"/><circle cx="324.5" cy="55.8" r="1.5" fill="#fafafa"/><circle cx="332" cy="59.9" r="1.4" fill="#fafafa"/><circle cx="343.2" cy="62.4" r="1.3" fill="#fafafa"/><circle cx="346.6" cy="39.1" r="1.3" fill="#fafafa"/><circle cx="341.1" cy="38.1" r="1.3" fill="#fafafa"/><circle cx="343.6" cy="41.7" r="1.5" fill="#8e8e8e"/><circle cx="341.9" cy="47.5" r="1.6" fill="#2020e8"/><circle cx="346" cy="50" r="1.5" fill="#2020e8"/><circle cx="342.3" cy="50" r="2.1" fill="#f2a08c"/><path d="M332,59.9 L334.6,64.6 L338.1,65.6 M329.1,49.2 L326.1,44.6 L323.1,42.1" stroke="#858585" stroke-width="1.8" fill="none"/><circle cx="334.6" cy="64.6" r="1.5" fill="#8e8e8e"/><circle cx="338.1" cy="65.6" r="1.3" fill="#fafafa"/><circle cx="326.1" cy="44.6" r="1.5" fill="#8e8e8e"/><circle cx="323.1" cy="42.1" r="1.3" fill="#fafafa"/><path d="M255.3,57.1 L259.3,55.5 L261.1,60.8 L257.8,64.1 L254.9,62.4 Z" stroke="#858585" stroke-width="2" fill="#f2f2f6"/><path d="M259.3,55.5 L261.9,52.1 L265.2,50.4 M261.9,52.1 L259.4,49.2 M261.1,60.8 L266.4,64.1 L266,68.3 M266.4,64.1 L268.5,57.9 L269.8,49.6 M268.5,57.9 L272.2,57.9 M254.9,62.4 L250.7,63.7 M257.8,64.1 L258.2,67.8 M266.4,64.1 L269.4,70.3 M269.8,49.6 L272.8,47 M269.8,49.6 L267.3,46" stroke="#858585" stroke-width="2" fill="none"/><circle cx="255.3" cy="57.1" r="1.9" fill="#2020e8"/><circle cx="261.1" cy="60.8" r="1.9" fill="#2020e8"/><circle cx="254.9" cy="62.4" r="1.6" fill="#8e8e8e"/><circle cx="257.8" cy="64.1" r="1.6" fill="#8e8e8e"/><circle cx="259.3" cy="55.5" r="1.5" fill="#8e8e8e"/><circle cx="261.9" cy="52.1" r="1.6" fill="#8e8e8e"/><circle cx="266.4" cy="64.1" r="1.6" fill="#8e8e8e"/><circle cx="265.2" cy="50.4" r="1.6" fill="#e81040"/><circle cx="266" cy="68.3" r="1.6" fill="#e81040"/><circle cx="259.4" cy="49.2" r="1.4" fill="#fafafa"/><circle cx="250.7" cy="63.7" r="1.5" fill="#fafafa"/><circle cx="258.2" cy="67.8" r="1.4" fill="#fafafa"/><circle cx="269.4" cy="70.3" r="1.3" fill="#fafafa"/><circle cx="272.8" cy="47" r="1.3" fill="#fafafa"/><circle cx="267.3" cy="46" r="1.3" fill="#fafafa"/><circle cx="269.8" cy="49.6" r="1.5" fill="#8e8e8e"/><circle cx="268.1" cy="55.4" r="1.6" fill="#2020e8"/><circle cx="272.2" cy="57.9" r="1.5" fill="#2020e8"/><circle cx="268.5" cy="57.9" r="2.1" fill="#f2a08c"/><path d="M258.2,67.8 L260.8,72.5 L264.3,73.5 M255.3,57.1 L252.3,52.5 L249.3,50" stroke="#858585" stroke-width="1.8" fill="none"/><circle cx="260.8" cy="72.5" r="1.5" fill="#8e8e8e"/><circle cx="264.3" cy="73.5" r="1.3" fill="#fafafa"/><circle cx="252.3" cy="52.5" r="1.5" fill="#8e8e8e"/><circle cx="249.3" cy="50" r="1.3" fill="#fafafa"/><path d="M273.8,61.7 L277.8,60.1 L279.6,65.4 L276.2,68.7 L273.4,67 Z" stroke="#858585" stroke-width="2" fill="#f2f2f6"/><path d="M277.8,60.1 L280.4,56.7 L283.6,55 M280.4,56.7 L277.9,53.8 M279.6,65.4 L284.9,68.7 L284.4,72.9 M284.9,68.7 L286.9,62.5 L288.2,54.2 M286.9,62.5 L290.6,62.5 M273.4,67 L269.1,68.3 M276.2,68.7 L276.6,72.4 M284.9,68.7 L287.9,74.9 M288.2,54.2 L291.2,51.6 M288.2,54.2 L285.8,50.6" stroke="#858585" stroke-width="2" fill="none"/><circle cx="273.8" cy="61.7" r="1.9" fill="#2020e8"/><circle cx="279.6" cy="65.4" r="1.9" fill="#2020e8"/><circle cx="273.4" cy="67" r="1.6" fill="#8e8e8e"/><circle cx="276.2" cy="68.7" r="1.6" fill="#8e8e8e"/><circle cx="277.8" cy="60.1" r="1.5" fill="#8e8e8e"/><circle cx="280.4" cy="56.7" r="1.6" fill="#8e8e8e"/><circle cx="284.9" cy="68.7" r="1.6" fill="#8e8e8e"/><circle cx="283.6" cy="55" r="1.6" fill="#e81040"/><circle cx="284.4" cy="72.9" r="1.6" fill="#e81040"/><circle cx="277.9" cy="53.8" r="1.4" fill="#fafafa"/><circle cx="269.1" cy="68.3" r="1.5" fill="#fafafa"/><circle cx="276.6" cy="72.4" r="1.4" fill="#fafafa"/><circle cx="287.9" cy="74.9" r="1.3" fill="#fafafa"/><circle cx="291.2" cy="51.6" r="1.3" fill="#fafafa"/><circle cx="285.8" cy="50.6" r="1.3" fill="#fafafa"/><circle cx="288.2" cy="54.2" r="1.5" fill="#8e8e8e"/><circle cx="286.6" cy="60" r="1.6" fill="#2020e8"/><circle cx="290.6" cy="62.5" r="1.5" fill="#2020e8"/><circle cx="286.9" cy="62.5" r="2.1" fill="#f2a08c"/><path d="M276.6,72.4 L279.2,77.1 L282.8,78.1 M273.8,61.7 L270.8,57.1 L267.8,54.6" stroke="#858585" stroke-width="1.8" fill="none"/><circle cx="279.2" cy="77.1" r="1.5" fill="#8e8e8e"/><circle cx="282.8" cy="78.1" r="1.3" fill="#fafafa"/><circle cx="270.8" cy="57.1" r="1.5" fill="#8e8e8e"/><circle cx="267.8" cy="54.6" r="1.3" fill="#fafafa"/><path d="M292.2,66.3 L296.2,64.7 L298,70 L294.7,73.3 L291.8,71.6 Z" stroke="#858585" stroke-width="2" fill="#f2f2f6"/><path d="M296.2,64.7 L298.8,61.3 L302.1,59.6 M298.8,61.3 L296.3,58.4 M298,70 L303.3,73.3 L302.9,77.5 M303.3,73.3 L305.4,67.1 L306.7,58.8 M305.4,67.1 L309.1,67.1 M291.8,71.6 L287.6,72.9 M294.7,73.3 L295.1,77 M303.3,73.3 L306.3,79.5 M306.7,58.8 L309.7,56.2 M306.7,58.8 L304.2,55.2" stroke="#858585" stroke-width="2" fill="none"/><circle cx="292.2" cy="66.3" r="1.9" fill="#2020e8"/><circle cx="298" cy="70" r="1.9" fill="#2020e8"/><circle cx="291.8" cy="71.6" r="1.6" fill="#8e8e8e"/><circle cx="294.7" cy="73.3" r="1.6" fill="#8e8e8e"/><circle cx="296.2" cy="64.7" r="1.5" fill="#8e8e8e"/><circle cx="298.8" cy="61.3" r="1.6" fill="#8e8e8e"/><circle cx="303.3" cy="73.3" r="1.6" fill="#8e8e8e"/><circle cx="302.1" cy="59.6" r="1.6" fill="#e81040"/><circle cx="302.9" cy="77.5" r="1.6" fill="#e81040"/><circle cx="296.3" cy="58.4" r="1.4" fill="#fafafa"/><circle cx="287.6" cy="72.9" r="1.5" fill="#fafafa"/><circle cx="295.1" cy="77" r="1.4" fill="#fafafa"/><circle cx="306.3" cy="79.5" r="1.3" fill="#fafafa"/><circle cx="309.7" cy="56.2" r="1.3" fill="#fafafa"/><circle cx="304.2" cy="55.2" r="1.3" fill="#fafafa"/><circle cx="306.7" cy="58.8" r="1.5" fill="#8e8e8e"/><circle cx="305" cy="64.6" r="1.6" fill="#2020e8"/><circle cx="309.1" cy="67.1" r="1.5" fill="#2020e8"/><circle cx="305.4" cy="67.1" r="2.1" fill="#f2a08c"/><path d="M295.1,77 L297.7,81.7 L301.2,82.7 M292.2,66.3 L289.2,61.7 L286.2,59.2" stroke="#858585" stroke-width="1.8" fill="none"/><circle cx="297.7" cy="81.7" r="1.5" fill="#8e8e8e"/><circle cx="301.2" cy="82.7" r="1.3" fill="#fafafa"/><circle cx="289.2" cy="61.7" r="1.5" fill="#8e8e8e"/><circle cx="286.2" cy="59.2" r="1.3" fill="#fafafa"/><path d="M310.6,70.9 L314.6,69.3 L316.4,74.6 L313.1,77.9 L310.2,76.2 Z" stroke="#858585" stroke-width="2" fill="#f2f2f6"/><path d="M314.6,69.3 L317.2,65.9 L320.5,64.2 M317.2,65.9 L314.8,63 M316.4,74.6 L321.8,77.9 L321.3,82.1 M321.8,77.9 L323.8,71.7 L325.1,63.4 M323.8,71.7 L327.5,71.7 M310.2,76.2 L306,77.5 M313.1,77.9 L313.5,81.6 M321.8,77.9 L324.8,84.1 M325.1,63.4 L328.1,60.8 M325.1,63.4 L322.6,59.8" stroke="#858585" stroke-width="2" fill="none"/><circle cx="310.6" cy="70.9" r="1.9" fill="#2020e8"/><circle cx="316.4" cy="74.6" r="1.9" fill="#2020e8"/><circle cx="310.2" cy="76.2" r="1.6" fill="#8e8e8e"/><circle cx="313.1" cy="77.9" r="1.6" fill="#8e8e8e"/><circle cx="314.6" cy="69.3" r="1.5" fill="#8e8e8e"/><circle cx="317.2" cy="65.9" r="1.6" fill="#8e8e8e"/><circle cx="321.8" cy="77.9" r="1.6" fill="#8e8e8e"/><circle cx="320.5" cy="64.2" r="1.6" fill="#e81040"/><circle cx="321.3" cy="82.1" r="1.6" fill="#e81040"/><circle cx="314.8" cy="63" r="1.4" fill="#fafafa"/><circle cx="306" cy="77.5" r="1.5" fill="#fafafa"/><circle cx="313.5" cy="81.6" r="1.4" fill="#fafafa"/><circle cx="324.8" cy="84.1" r="1.3" fill="#fafafa"/><circle cx="328.1" cy="60.8" r="1.3" fill="#fafafa"/><circle cx="322.6" cy="59.8" r="1.3" fill="#fafafa"/><circle cx="325.1" cy="63.4" r="1.5" fill="#8e8e8e"/><circle cx="323.4" cy="69.2" r="1.6" fill="#2020e8"/><circle cx="327.5" cy="71.7" r="1.5" fill="#2020e8"/><circle cx="323.8" cy="71.7" r="2.1" fill="#f2a08c"/><path d="M313.5,81.6 L316.1,86.3 L319.6,87.3 M310.6,70.9 L307.6,66.3 L304.6,63.8" stroke="#858585" stroke-width="1.8" fill="none"/><circle cx="316.1" cy="86.3" r="1.5" fill="#8e8e8e"/><circle cx="319.6" cy="87.3" r="1.3" fill="#fafafa"/><circle cx="307.6" cy="66.3" r="1.5" fill="#8e8e8e"/><circle cx="304.6" cy="63.8" r="1.3" fill="#fafafa"/><path d="M329.1,75.5 L333.1,73.9 L334.9,79.2 L331.6,82.5 L328.7,80.8 Z" stroke="#858585" stroke-width="2" fill="#f2f2f6"/><path d="M333.1,73.9 L335.7,70.5 L339,68.8 M335.7,70.5 L333.2,67.6 M334.9,79.2 L340.2,82.5 L339.8,86.7 M340.2,82.5 L342.3,76.3 L343.6,68 M342.3,76.3 L346,76.3 M328.7,80.8 L324.5,82.1 M331.6,82.5 L332,86.2 M340.2,82.5 L343.2,88.7 M343.6,68 L346.6,65.4 M343.6,68 L341.1,64.4" stroke="#858585" stroke-width="2" fill="none"/><circle cx="329.1" cy="75.5" r="1.9" fill="#2020e8"/><circle cx="334.9" cy="79.2" r="1.9" fill="#2020e8"/><circle cx="328.7" cy="80.8" r="1.6" fill="#8e8e8e"/><circle cx="331.6" cy="82.5" r="1.6" fill="#8e8e8e"/><circle cx="333.1" cy="73.9" r="1.5" fill="#8e8e8e"/><circle cx="335.7" cy="70.5" r="1.6" fill="#8e8e8e"/><circle cx="340.2" cy="82.5" r="1.6" fill="#8e8e8e"/><circle cx="339" cy="68.8" r="1.6" fill="#e81040"/><circle cx="339.8" cy="86.7" r="1.6" fill="#e81040"/><circle cx="333.2" cy="67.6" r="1.4" fill="#fafafa"/><circle cx="324.5" cy="82.1" r="1.5" fill="#fafafa"/><circle cx="332" cy="86.2" r="1.4" fill="#fafafa"/><circle cx="343.2" cy="88.7" r="1.3" fill="#fafafa"/><circle cx="346.6" cy="65.4" r="1.3" fill="#fafafa"/><circle cx="341.1" cy="64.4" r="1.3" fill="#fafafa"/><circle cx="343.6" cy="68" r="1.5" fill="#8e8e8e"/><circle cx="341.9" cy="73.8" r="1.6" fill="#2020e8"/><circle cx="346" cy="76.3" r="1.5" fill="#2020e8"/><circle cx="342.3" cy="76.3" r="2.1" fill="#f2a08c"/><path d="M332,86.2 L334.6,90.9 L338.1,91.9 M329.1,75.5 L326.1,70.9 L323.1,68.4" stroke="#858585" stroke-width="1.8" fill="none"/><circle cx="334.6" cy="90.9" r="1.5" fill="#8e8e8e"/><circle cx="338.1" cy="91.9" r="1.3" fill="#fafafa"/><circle cx="326.1" cy="70.9" r="1.5" fill="#8e8e8e"/><circle cx="323.1" cy="68.4" r="1.3" fill="#fafafa"/><path d="M255.3,83.4 L259.3,81.8 L261.1,87.1 L257.8,90.4 L254.9,88.7 Z" stroke="#858585" stroke-width="2" fill="#f2f2f6"/><path d="M259.3,81.8 L261.9,78.4 L265.2,76.7 M261.9,78.4 L259.4,75.5 M261.1,87.1 L266.4,90.4 L266,94.6 M266.4,90.4 L268.5,84.2 L269.8,75.9 M268.5,84.2 L272.2,84.2 M254.9,88.7 L250.7,90 M257.8,90.4 L258.2,94.1 M266.4,90.4 L269.4,96.6 M269.8,75.9 L272.8,73.3 M269.8,75.9 L267.3,72.3" stroke="#858585" stroke-width="2" fill="none"/><circle cx="255.3" cy="83.4" r="1.9" fill="#2020e8"/><circle cx="261.1" cy="87.1" r="1.9" fill="#2020e8"/><circle cx="254.9" cy="88.7" r="1.6" fill="#8e8e8e"/><circle cx="257.8" cy="90.4" r="1.6" fill="#8e8e8e"/><circle cx="259.3" cy="81.8" r="1.5" fill="#8e8e8e"/><circle cx="261.9" cy="78.4" r="1.6" fill="#8e8e8e"/><circle cx="266.4" cy="90.4" r="1.6" fill="#8e8e8e"/><circle cx="265.2" cy="76.7" r="1.6" fill="#e81040"/><circle cx="266" cy="94.6" r="1.6" fill="#e81040"/><circle cx="259.4" cy="75.5" r="1.4" fill="#fafafa"/><circle cx="250.7" cy="90" r="1.5" fill="#fafafa"/><circle cx="258.2" cy="94.1" r="1.4" fill="#fafafa"/><circle cx="269.4" cy="96.6" r="1.3" fill="#fafafa"/><circle cx="272.8" cy="73.3" r="1.3" fill="#fafafa"/><circle cx="267.3" cy="72.3" r="1.3" fill="#fafafa"/><circle cx="269.8" cy="75.9" r="1.5" fill="#8e8e8e"/><circle cx="268.1" cy="81.7" r="1.6" fill="#2020e8"/><circle cx="272.2" cy="84.2" r="1.5" fill="#2020e8"/><circle cx="268.5" cy="84.2" r="2.1" fill="#f2a08c"/><path d="M258.2,94.1 L260.8,98.8 L264.3,99.8 M255.3,83.4 L252.3,78.8 L249.3,76.3" stroke="#858585" stroke-width="1.8" fill="none"/><circle cx="260.8" cy="98.8" r="1.5" fill="#8e8e8e"/><circle cx="264.3" cy="99.8" r="1.3" fill="#fafafa"/><circle cx="252.3" cy="78.8" r="1.5" fill="#8e8e8e"/><circle cx="249.3" cy="76.3" r="1.3" fill="#fafafa"/><path d="M273.8,88 L277.8,86.4 L279.6,91.7 L276.2,95 L273.4,93.3 Z" stroke="#858585" stroke-width="2" fill="#f2f2f6"/><path d="M277.8,86.4 L280.4,83 L283.6,81.3 M280.4,83 L277.9,80.1 M279.6,91.7 L284.9,95 L284.4,99.2 M284.9,95 L286.9,88.8 L288.2,80.5 M286.9,88.8 L290.6,88.8 M273.4,93.3 L269.1,94.6 M276.2,95 L276.6,98.7 M284.9,95 L287.9,101.2 M288.2,80.5 L291.2,77.9 M288.2,80.5 L285.8,76.9" stroke="#858585" stroke-width="2" fill="none"/><circle cx="273.8" cy="88" r="1.9" fill="#2020e8"/><circle cx="279.6" cy="91.7" r="1.9" fill="#2020e8"/><circle cx="273.4" cy="93.3" r="1.6" fill="#8e8e8e"/><circle cx="276.2" cy="95" r="1.6" fill="#8e8e8e"/><circle cx="277.8" cy="86.4" r="1.5" fill="#8e8e8e"/><circle cx="280.4" cy="83" r="1.6" fill="#8e8e8e"/><circle cx="284.9" cy="95" r="1.6" fill="#8e8e8e"/><circle cx="283.6" cy="81.3" r="1.6" fill="#e81040"/><circle cx="284.4" cy="99.2" r="1.6" fill="#e81040"/><circle cx="277.9" cy="80.1" r="1.4" fill="#fafafa"/><circle cx="269.1" cy="94.6" r="1.5" fill="#fafafa"/><circle cx="276.6" cy="98.7" r="1.4" fill="#fafafa"/><circle cx="287.9" cy="101.2" r="1.3" fill="#fafafa"/><circle cx="291.2" cy="77.9" r="1.3" fill="#fafafa"/><circle cx="285.8" cy="76.9" r="1.3" fill="#fafafa"/><circle cx="288.2" cy="80.5" r="1.5" fill="#8e8e8e"/><circle cx="286.6" cy="86.3" r="1.6" fill="#2020e8"/><circle cx="290.6" cy="88.8" r="1.5" fill="#2020e8"/><circle cx="286.9" cy="88.8" r="2.1" fill="#f2a08c"/><path d="M276.6,98.7 L279.2,103.4 L282.8,104.4 M273.8,88 L270.8,83.4 L267.8,80.9" stroke="#858585" stroke-width="1.8" fill="none"/><circle cx="279.2" cy="103.4" r="1.5" fill="#8e8e8e"/><circle cx="282.8" cy="104.4" r="1.3" fill="#fafafa"/><circle cx="270.8" cy="83.4" r="1.5" fill="#8e8e8e"/><circle cx="267.8" cy="80.9" r="1.3" fill="#fafafa"/><path d="M292.2,92.6 L296.2,91 L298,96.3 L294.7,99.6 L291.8,97.9 Z" stroke="#858585" stroke-width="2" fill="#f2f2f6"/><path d="M296.2,91 L298.8,87.6 L302.1,85.9 M298.8,87.6 L296.3,84.7 M298,96.3 L303.3,99.6 L302.9,103.8 M303.3,99.6 L305.4,93.4 L306.7,85.1 M305.4,93.4 L309.1,93.4 M291.8,97.9 L287.6,99.2 M294.7,99.6 L295.1,103.3 M303.3,99.6 L306.3,105.8 M306.7,85.1 L309.7,82.5 M306.7,85.1 L304.2,81.5" stroke="#858585" stroke-width="2" fill="none"/><circle cx="292.2" cy="92.6" r="1.9" fill="#2020e8"/><circle cx="298" cy="96.3" r="1.9" fill="#2020e8"/><circle cx="291.8" cy="97.9" r="1.6" fill="#8e8e8e"/><circle cx="294.7" cy="99.6" r="1.6" fill="#8e8e8e"/><circle cx="296.2" cy="91" r="1.5" fill="#8e8e8e"/><circle cx="298.8" cy="87.6" r="1.6" fill="#8e8e8e"/><circle cx="303.3" cy="99.6" r="1.6" fill="#8e8e8e"/><circle cx="302.1" cy="85.9" r="1.6" fill="#e81040"/><circle cx="302.9" cy="103.8" r="1.6" fill="#e81040"/><circle cx="296.3" cy="84.7" r="1.4" fill="#fafafa"/><circle cx="287.6" cy="99.2" r="1.5" fill="#fafafa"/><circle cx="295.1" cy="103.3" r="1.4" fill="#fafafa"/><circle cx="306.3" cy="105.8" r="1.3" fill="#fafafa"/><circle cx="309.7" cy="82.5" r="1.3" fill="#fafafa"/><circle cx="304.2" cy="81.5" r="1.3" fill="#fafafa"/><circle cx="306.7" cy="85.1" r="1.5" fill="#8e8e8e"/><circle cx="305" cy="90.9" r="1.6" fill="#2020e8"/><circle cx="309.1" cy="93.4" r="1.5" fill="#2020e8"/><circle cx="305.4" cy="93.4" r="2.1" fill="#f2a08c"/><path d="M295.1,103.3 L297.7,108 L301.2,109 M292.2,92.6 L289.2,88 L286.2,85.5" stroke="#858585" stroke-width="1.8" fill="none"/><circle cx="297.7" cy="108" r="1.5" fill="#8e8e8e"/><circle cx="301.2" cy="109" r="1.3" fill="#fafafa"/><circle cx="289.2" cy="88" r="1.5" fill="#8e8e8e"/><circle cx="286.2" cy="85.5" r="1.3" fill="#fafafa"/><path d="M310.6,97.2 L314.6,95.6 L316.4,100.9 L313.1,104.2 L310.2,102.5 Z" stroke="#858585" stroke-width="2" fill="#f2f2f6"/><path d="M314.6,95.6 L317.2,92.2 L320.5,90.5 M317.2,92.2 L314.8,89.3 M316.4,100.9 L321.8,104.2 L321.3,108.4 M321.8,104.2 L323.8,98 L325.1,89.7 M323.8,98 L327.5,98 M310.2,102.5 L306,103.8 M313.1,104.2 L313.5,107.9 M321.8,104.2 L324.8,110.4 M325.1,89.7 L328.1,87.1 M325.1,89.7 L322.6,86.1" stroke="#858585" stroke-width="2" fill="none"/><circle cx="310.6" cy="97.2" r="1.9" fill="#2020e8"/><circle cx="316.4" cy="100.9" r="1.9" fill="#2020e8"/><circle cx="310.2" cy="102.5" r="1.6" fill="#8e8e8e"/><circle cx="313.1" cy="104.2" r="1.6" fill="#8e8e8e"/><circle cx="314.6" cy="95.6" r="1.5" fill="#8e8e8e"/><circle cx="317.2" cy="92.2" r="1.6" fill="#8e8e8e"/><circle cx="321.8" cy="104.2" r="1.6" fill="#8e8e8e"/><circle cx="320.5" cy="90.5" r="1.6" fill="#e81040"/><circle cx="321.3" cy="108.4" r="1.6" fill="#e81040"/><circle cx="314.8" cy="89.3" r="1.4" fill="#fafafa"/><circle cx="306" cy="103.8" r="1.5" fill="#fafafa"/><circle cx="313.5" cy="107.9" r="1.4" fill="#fafafa"/><circle cx="324.8" cy="110.4" r="1.3" fill="#fafafa"/><circle cx="328.1" cy="87.1" r="1.3" fill="#fafafa"/><circle cx="322.6" cy="86.1" r="1.3" fill="#fafafa"/><circle cx="325.1" cy="89.7" r="1.5" fill="#8e8e8e"/><circle cx="323.4" cy="95.5" r="1.6" fill="#2020e8"/><circle cx="327.5" cy="98" r="1.5" fill="#2020e8"/><circle cx="323.8" cy="98" r="2.1" fill="#f2a08c"/><path d="M313.5,107.9 L316.1,112.6 L319.6,113.6 M310.6,97.2 L307.6,92.6 L304.6,90.1" stroke="#858585" stroke-width="1.8" fill="none"/><circle cx="316.1" cy="112.6" r="1.5" fill="#8e8e8e"/><circle cx="319.6" cy="113.6" r="1.3" fill="#fafafa"/><circle cx="307.6" cy="92.6" r="1.5" fill="#8e8e8e"/><circle cx="304.6" cy="90.1" r="1.3" fill="#fafafa"/><path d="M329.1,101.8 L333.1,100.2 L334.9,105.5 L331.6,108.8 L328.7,107.1 Z" stroke="#858585" stroke-width="2" fill="#f2f2f6"/><path d="M333.1,100.2 L335.7,96.8 L339,95.1 M335.7,96.8 L333.2,93.9 M334.9,105.5 L340.2,108.8 L339.8,113 M340.2,108.8 L342.3,102.6 L343.6,94.3 M342.3,102.6 L346,102.6 M328.7,107.1 L324.5,108.4 M331.6,108.8 L332,112.5 M340.2,108.8 L343.2,115 M343.6,94.3 L346.6,91.7 M343.6,94.3 L341.1,90.7" stroke="#858585" stroke-width="2" fill="none"/><circle cx="329.1" cy="101.8" r="1.9" fill="#2020e8"/><circle cx="334.9" cy="105.5" r="1.9" fill="#2020e8"/><circle cx="328.7" cy="107.1" r="1.6" fill="#8e8e8e"/><circle cx="331.6" cy="108.8" r="1.6" fill="#8e8e8e"/><circle cx="333.1" cy="100.2" r="1.5" fill="#8e8e8e"/><circle cx="335.7" cy="96.8" r="1.6" fill="#8e8e8e"/><circle cx="340.2" cy="108.8" r="1.6" fill="#8e8e8e"/><circle cx="339" cy="95.1" r="1.6" fill="#e81040"/><circle cx="339.8" cy="113" r="1.6" fill="#e81040"/><circle cx="333.2" cy="93.9" r="1.4" fill="#fafafa"/><circle cx="324.5" cy="108.4" r="1.5" fill="#fafafa"/><circle cx="332" cy="112.5" r="1.4" fill="#fafafa"/><circle cx="343.2" cy="115" r="1.3" fill="#fafafa"/><circle cx="346.6" cy="91.7" r="1.3" fill="#fafafa"/><circle cx="341.1" cy="90.7" r="1.3" fill="#fafafa"/><circle cx="343.6" cy="94.3" r="1.5" fill="#8e8e8e"/><circle cx="341.9" cy="100.1" r="1.6" fill="#2020e8"/><circle cx="346" cy="102.6" r="1.5" fill="#2020e8"/><circle cx="342.3" cy="102.6" r="2.1" fill="#f2a08c"/><path d="M332,112.5 L334.6,117.2 L338.1,118.2 M329.1,101.8 L326.1,97.2 L323.1,94.7" stroke="#858585" stroke-width="1.8" fill="none"/><circle cx="334.6" cy="117.2" r="1.5" fill="#8e8e8e"/><circle cx="338.1" cy="118.2" r="1.3" fill="#fafafa"/><circle cx="326.1" cy="97.2" r="1.5" fill="#8e8e8e"/><circle cx="323.1" cy="94.7" r="1.3" fill="#fafafa"/><path d="M255.3,109.7 L259.3,108.1 L261.1,113.4 L257.8,116.7 L254.9,115 Z" stroke="#858585" stroke-width="2" fill="#f2f2f6"/><path d="M259.3,108.1 L261.9,104.7 L265.2,103 M261.9,104.7 L259.4,101.8 M261.1,113.4 L266.4,116.7 L266,120.9 M266.4,116.7 L268.5,110.5 L269.8,102.2 M268.5,110.5 L272.2,110.5 M254.9,115 L250.7,116.3 M257.8,116.7 L258.2,120.4 M266.4,116.7 L269.4,122.9 M269.8,102.2 L272.8,99.6 M269.8,102.2 L267.3,98.6" stroke="#858585" stroke-width="2" fill="none"/><circle cx="255.3" cy="109.7" r="1.9" fill="#2020e8"/><circle cx="261.1" cy="113.4" r="1.9" fill="#2020e8"/><circle cx="254.9" cy="115" r="1.6" fill="#8e8e8e"/><circle cx="257.8" cy="116.7" r="1.6" fill="#8e8e8e"/><circle cx="259.3" cy="108.1" r="1.5" fill="#8e8e8e"/><circle cx="261.9" cy="104.7" r="1.6" fill="#8e8e8e"/><circle cx="266.4" cy="116.7" r="1.6" fill="#8e8e8e"/><circle cx="265.2" cy="103" r="1.6" fill="#e81040"/><circle cx="266" cy="120.9" r="1.6" fill="#e81040"/><circle cx="259.4" cy="101.8" r="1.4" fill="#fafafa"/><circle cx="250.7" cy="116.3" r="1.5" fill="#fafafa"/><circle cx="258.2" cy="120.4" r="1.4" fill="#fafafa"/><circle cx="269.4" cy="122.9" r="1.3" fill="#fafafa"/><circle cx="272.8" cy="99.6" r="1.3" fill="#fafafa"/><circle cx="267.3" cy="98.6" r="1.3" fill="#fafafa"/><circle cx="269.8" cy="102.2" r="1.5" fill="#8e8e8e"/><circle cx="268.1" cy="108" r="1.6" fill="#2020e8"/><circle cx="272.2" cy="110.5" r="1.5" fill="#2020e8"/><circle cx="268.5" cy="110.5" r="2.1" fill="#f2a08c"/><path d="M258.2,120.4 L260.8,125.1 L264.3,126.1 M255.3,109.7 L252.3,105.1 L249.3,102.6" stroke="#858585" stroke-width="1.8" fill="none"/><circle cx="260.8" cy="125.1" r="1.5" fill="#8e8e8e"/><circle cx="264.3" cy="126.1" r="1.3" fill="#fafafa"/><circle cx="252.3" cy="105.1" r="1.5" fill="#8e8e8e"/><circle cx="249.3" cy="102.6" r="1.3" fill="#fafafa"/><path d="M273.8,114.3 L277.8,112.7 L279.6,118 L276.2,121.3 L273.4,119.6 Z" stroke="#858585" stroke-width="2" fill="#f2f2f6"/><path d="M277.8,112.7 L280.4,109.3 L283.6,107.6 M280.4,109.3 L277.9,106.4 M279.6,118 L284.9,121.3 L284.4,125.5 M284.9,121.3 L286.9,115.1 L288.2,106.8 M286.9,115.1 L290.6,115.1 M273.4,119.6 L269.1,120.9 M276.2,121.3 L276.6,125 M284.9,121.3 L287.9,127.5 M288.2,106.8 L291.2,104.2 M288.2,106.8 L285.8,103.2" stroke="#858585" stroke-width="2" fill="none"/><circle cx="273.8" cy="114.3" r="1.9" fill="#2020e8"/><circle cx="279.6" cy="118" r="1.9" fill="#2020e8"/><circle cx="273.4" cy="119.6" r="1.6" fill="#8e8e8e"/><circle cx="276.2" cy="121.3" r="1.6" fill="#8e8e8e"/><circle cx="277.8" cy="112.7" r="1.5" fill="#8e8e8e"/><circle cx="280.4" cy="109.3" r="1.6" fill="#8e8e8e"/><circle cx="284.9" cy="121.3" r="1.6" fill="#8e8e8e"/><circle cx="283.6" cy="107.6" r="1.6" fill="#e81040"/><circle cx="284.4" cy="125.5" r="1.6" fill="#e81040"/><circle cx="277.9" cy="106.4" r="1.4" fill="#fafafa"/><circle cx="269.1" cy="120.9" r="1.5" fill="#fafafa"/><circle cx="276.6" cy="125" r="1.4" fill="#fafafa"/><circle cx="287.9" cy="127.5" r="1.3" fill="#fafafa"/><circle cx="291.2" cy="104.2" r="1.3" fill="#fafafa"/><circle cx="285.8" cy="103.2" r="1.3" fill="#fafafa"/><circle cx="288.2" cy="106.8" r="1.5" fill="#8e8e8e"/><circle cx="286.6" cy="112.6" r="1.6" fill="#2020e8"/><circle cx="290.6" cy="115.1" r="1.5" fill="#2020e8"/><circle cx="286.9" cy="115.1" r="2.1" fill="#f2a08c"/><path d="M276.6,125 L279.2,129.7 L282.8,130.7 M273.8,114.3 L270.8,109.7 L267.8,107.2" stroke="#858585" stroke-width="1.8" fill="none"/><circle cx="279.2" cy="129.7" r="1.5" fill="#8e8e8e"/><circle cx="282.8" cy="130.7" r="1.3" fill="#fafafa"/><circle cx="270.8" cy="109.7" r="1.5" fill="#8e8e8e"/><circle cx="267.8" cy="107.2" r="1.3" fill="#fafafa"/><path d="M292.2,118.9 L296.2,117.3 L298,122.6 L294.7,125.9 L291.8,124.2 Z" stroke="#858585" stroke-width="2" fill="#f2f2f6"/><path d="M296.2,117.3 L298.8,113.9 L302.1,112.2 M298.8,113.9 L296.3,111 M298,122.6 L303.3,125.9 L302.9,130.1 M303.3,125.9 L305.4,119.7 L306.7,111.4 M305.4,119.7 L309.1,119.7 M291.8,124.2 L287.6,125.5 M294.7,125.9 L295.1,129.6 M303.3,125.9 L306.3,132.1 M306.7,111.4 L309.7,108.8 M306.7,111.4 L304.2,107.8" stroke="#858585" stroke-width="2" fill="none"/><circle cx="292.2" cy="118.9" r="1.9" fill="#2020e8"/><circle cx="298" cy="122.6" r="1.9" fill="#2020e8"/><circle cx="291.8" cy="124.2" r="1.6" fill="#8e8e8e"/><circle cx="294.7" cy="125.9" r="1.6" fill="#8e8e8e"/><circle cx="296.2" cy="117.3" r="1.5" fill="#8e8e8e"/><circle cx="298.8" cy="113.9" r="1.6" fill="#8e8e8e"/><circle cx="303.3" cy="125.9" r="1.6" fill="#8e8e8e"/><circle cx="302.1" cy="112.2" r="1.6" fill="#e81040"/><circle cx="302.9" cy="130.1" r="1.6" fill="#e81040"/><circle cx="296.3" cy="111" r="1.4" fill="#fafafa"/><circle cx="287.6" cy="125.5" r="1.5" fill="#fafafa"/><circle cx="295.1" cy="129.6" r="1.4" fill="#fafafa"/><circle cx="306.3" cy="132.1" r="1.3" fill="#fafafa"/><circle cx="309.7" cy="108.8" r="1.3" fill="#fafafa"/><circle cx="304.2" cy="107.8" r="1.3" fill="#fafafa"/><circle cx="306.7" cy="111.4" r="1.5" fill="#8e8e8e"/><circle cx="305" cy="117.2" r="1.6" fill="#2020e8"/><circle cx="309.1" cy="119.7" r="1.5" fill="#2020e8"/><circle cx="305.4" cy="119.7" r="2.1" fill="#f2a08c"/><path d="M295.1,129.6 L297.7,134.3 L301.2,135.3 M292.2,118.9 L289.2,114.3 L286.2,111.8" stroke="#858585" stroke-width="1.8" fill="none"/><circle cx="297.7" cy="134.3" r="1.5" fill="#8e8e8e"/><circle cx="301.2" cy="135.3" r="1.3" fill="#fafafa"/><circle cx="289.2" cy="114.3" r="1.5" fill="#8e8e8e"/><circle cx="286.2" cy="111.8" r="1.3" fill="#fafafa"/><path d="M310.6,123.5 L314.6,121.9 L316.4,127.2 L313.1,130.5 L310.2,128.8 Z" stroke="#858585" stroke-width="2" fill="#f2f2f6"/><path d="M314.6,121.9 L317.2,118.5 L320.5,116.8 M317.2,118.5 L314.8,115.6 M316.4,127.2 L321.8,130.5 L321.3,134.7 M321.8,130.5 L323.8,124.3 L325.1,116 M323.8,124.3 L327.5,124.3 M310.2,128.8 L306,130.1 M313.1,130.5 L313.5,134.2 M321.8,130.5 L324.8,136.7 M325.1,116 L328.1,113.4 M325.1,116 L322.6,112.4" stroke="#858585" stroke-width="2" fill="none"/><circle cx="310.6" cy="123.5" r="1.9" fill="#2020e8"/><circle cx="316.4" cy="127.2" r="1.9" fill="#2020e8"/><circle cx="310.2" cy="128.8" r="1.6" fill="#8e8e8e"/><circle cx="313.1" cy="130.5" r="1.6" fill="#8e8e8e"/><circle cx="314.6" cy="121.9" r="1.5" fill="#8e8e8e"/><circle cx="317.2" cy="118.5" r="1.6" fill="#8e8e8e"/><circle cx="321.8" cy="130.5" r="1.6" fill="#8e8e8e"/><circle cx="320.5" cy="116.8" r="1.6" fill="#e81040"/><circle cx="321.3" cy="134.7" r="1.6" fill="#e81040"/><circle cx="314.8" cy="115.6" r="1.4" fill="#fafafa"/><circle cx="306" cy="130.1" r="1.5" fill="#fafafa"/><circle cx="313.5" cy="134.2" r="1.4" fill="#fafafa"/><circle cx="324.8" cy="136.7" r="1.3" fill="#fafafa"/><circle cx="328.1" cy="113.4" r="1.3" fill="#fafafa"/><circle cx="322.6" cy="112.4" r="1.3" fill="#fafafa"/><circle cx="325.1" cy="116" r="1.5" fill="#8e8e8e"/><circle cx="323.4" cy="121.8" r="1.6" fill="#2020e8"/><circle cx="327.5" cy="124.3" r="1.5" fill="#2020e8"/><circle cx="323.8" cy="124.3" r="2.1" fill="#f2a08c"/><path d="M313.5,134.2 L316.1,138.9 L319.6,139.9 M310.6,123.5 L307.6,118.9 L304.6,116.4" stroke="#858585" stroke-width="1.8" fill="none"/><circle cx="316.1" cy="138.9" r="1.5" fill="#8e8e8e"/><circle cx="319.6" cy="139.9" r="1.3" fill="#fafafa"/><circle cx="307.6" cy="118.9" r="1.5" fill="#8e8e8e"/><circle cx="304.6" cy="116.4" r="1.3" fill="#fafafa"/><path d="M329.1,128.1 L333.1,126.5 L334.9,131.8 L331.6,135.1 L328.7,133.4 Z" stroke="#858585" stroke-width="2" fill="#f2f2f6"/><path d="M333.1,126.5 L335.7,123.1 L339,121.4 M335.7,123.1 L333.2,120.2 M334.9,131.8 L340.2,135.1 L339.8,139.3 M340.2,135.1 L342.3,128.9 L343.6,120.6 M342.3,128.9 L346,128.9 M328.7,133.4 L324.5,134.7 M331.6,135.1 L332,138.8 M340.2,135.1 L343.2,141.3 M343.6,120.6 L346.6,118 M343.6,120.6 L341.1,117" stroke="#858585" stroke-width="2" fill="none"/><circle cx="329.1" cy="128.1" r="1.9" fill="#2020e8"/><circle cx="334.9" cy="131.8" r="1.9" fill="#2020e8"/><circle cx="328.7" cy="133.4" r="1.6" fill="#8e8e8e"/><circle cx="331.6" cy="135.1" r="1.6" fill="#8e8e8e"/><circle cx="333.1" cy="126.5" r="1.5" fill="#8e8e8e"/><circle cx="335.7" cy="123.1" r="1.6" fill="#8e8e8e"/><circle cx="340.2" cy="135.1" r="1.6" fill="#8e8e8e"/><circle cx="339" cy="121.4" r="1.6" fill="#e81040"/><circle cx="339.8" cy="139.3" r="1.6" fill="#e81040"/><circle cx="333.2" cy="120.2" r="1.4" fill="#fafafa"/><circle cx="324.5" cy="134.7" r="1.5" fill="#fafafa"/><circle cx="332" cy="138.8" r="1.4" fill="#fafafa"/><circle cx="343.2" cy="141.3" r="1.3" fill="#fafafa"/><circle cx="346.6" cy="118" r="1.3" fill="#fafafa"/><circle cx="341.1" cy="117" r="1.3" fill="#fafafa"/><circle cx="343.6" cy="120.6" r="1.5" fill="#8e8e8e"/><circle cx="341.9" cy="126.4" r="1.6" fill="#2020e8"/><circle cx="346" cy="128.9" r="1.5" fill="#2020e8"/><circle cx="342.3" cy="128.9" r="2.1" fill="#f2a08c"/><path d="M332,138.8 L334.6,143.5 L338.1,144.5 M329.1,128.1 L326.1,123.5 L323.1,121" stroke="#858585" stroke-width="1.8" fill="none"/><circle cx="334.6" cy="143.5" r="1.5" fill="#8e8e8e"/><circle cx="338.1" cy="144.5" r="1.3" fill="#fafafa"/><circle cx="326.1" cy="123.5" r="1.5" fill="#8e8e8e"/><circle cx="323.1" cy="121" r="1.3" fill="#fafafa"/><path d="M255.3,136 L259.3,134.4 L261.1,139.7 L257.8,143 L254.9,141.3 Z" stroke="#858585" stroke-width="2" fill="#f2f2f6"/><path d="M259.3,134.4 L261.9,131 L265.2,129.3 M261.9,131 L259.4,128.1 M261.1,139.7 L266.4,143 L266,147.2 M266.4,143 L268.5,136.8 L269.8,128.5 M268.5,136.8 L272.2,136.8 M254.9,141.3 L250.7,142.6 M257.8,143 L258.2,146.7 M266.4,143 L269.4,149.2 M269.8,128.5 L272.8,125.9 M269.8,128.5 L267.3,124.9" stroke="#858585" stroke-width="2" fill="none"/><circle cx="255.3" cy="136" r="1.9" fill="#2020e8"/><circle cx="261.1" cy="139.7" r="1.9" fill="#2020e8"/><circle cx="254.9" cy="141.3" r="1.6" fill="#8e8e8e"/><circle cx="257.8" cy="143" r="1.6" fill="#8e8e8e"/><circle cx="259.3" cy="134.4" r="1.5" fill="#8e8e8e"/><circle cx="261.9" cy="131" r="1.6" fill="#8e8e8e"/><circle cx="266.4" cy="143" r="1.6" fill="#8e8e8e"/><circle cx="265.2" cy="129.3" r="1.6" fill="#e81040"/><circle cx="266" cy="147.2" r="1.6" fill="#e81040"/><circle cx="259.4" cy="128.1" r="1.4" fill="#fafafa"/><circle cx="250.7" cy="142.6" r="1.5" fill="#fafafa"/><circle cx="258.2" cy="146.7" r="1.4" fill="#fafafa"/><circle cx="269.4" cy="149.2" r="1.3" fill="#fafafa"/><circle cx="272.8" cy="125.9" r="1.3" fill="#fafafa"/><circle cx="267.3" cy="124.9" r="1.3" fill="#fafafa"/><circle cx="269.8" cy="128.5" r="1.5" fill="#8e8e8e"/><circle cx="268.1" cy="134.3" r="1.6" fill="#2020e8"/><circle cx="272.2" cy="136.8" r="1.5" fill="#2020e8"/><circle cx="268.5" cy="136.8" r="2.1" fill="#f2a08c"/><path d="M258.2,146.7 L260.8,151.4 L264.3,152.4 M255.3,136 L252.3,131.4 L249.3,128.9" stroke="#858585" stroke-width="1.8" fill="none"/><circle cx="260.8" cy="151.4" r="1.5" fill="#8e8e8e"/><circle cx="264.3" cy="152.4" r="1.3" fill="#fafafa"/><circle cx="252.3" cy="131.4" r="1.5" fill="#8e8e8e"/><circle cx="249.3" cy="128.9" r="1.3" fill="#fafafa"/><path d="M273.8,140.6 L277.8,139 L279.6,144.3 L276.2,147.6 L273.4,145.9 Z" stroke="#858585" stroke-width="2" fill="#f2f2f6"/><path d="M277.8,139 L280.4,135.6 L283.6,133.9 M280.4,135.6 L277.9,132.7 M279.6,144.3 L284.9,147.6 L284.4,151.8 M284.9,147.6 L286.9,141.4 L288.2,133.1 M286.9,141.4 L290.6,141.4 M273.4,145.9 L269.1,147.2 M276.2,147.6 L276.6,151.3 M284.9,147.6 L287.9,153.8 M288.2,133.1 L291.2,130.5 M288.2,133.1 L285.8,129.5" stroke="#858585" stroke-width="2" fill="none"/><circle cx="273.8" cy="140.6" r="1.9" fill="#2020e8"/><circle cx="279.6" cy="144.3" r="1.9" fill="#2020e8"/><circle cx="273.4" cy="145.9" r="1.6" fill="#8e8e8e"/><circle cx="276.2" cy="147.6" r="1.6" fill="#8e8e8e"/><circle cx="277.8" cy="139" r="1.5" fill="#8e8e8e"/><circle cx="280.4" cy="135.6" r="1.6" fill="#8e8e8e"/><circle cx="284.9" cy="147.6" r="1.6" fill="#8e8e8e"/><circle cx="283.6" cy="133.9" r="1.6" fill="#e81040"/><circle cx="284.4" cy="151.8" r="1.6" fill="#e81040"/><circle cx="277.9" cy="132.7" r="1.4" fill="#fafafa"/><circle cx="269.1" cy="147.2" r="1.5" fill="#fafafa"/><circle cx="276.6" cy="151.3" r="1.4" fill="#fafafa"/><circle cx="287.9" cy="153.8" r="1.3" fill="#fafafa"/><circle cx="291.2" cy="130.5" r="1.3" fill="#fafafa"/><circle cx="285.8" cy="129.5" r="1.3" fill="#fafafa"/><circle cx="288.2" cy="133.1" r="1.5" fill="#8e8e8e"/><circle cx="286.6" cy="138.9" r="1.6" fill="#2020e8"/><circle cx="290.6" cy="141.4" r="1.5" fill="#2020e8"/><circle cx="286.9" cy="141.4" r="2.1" fill="#f2a08c"/><path d="M276.6,151.3 L279.2,156 L282.8,157 M273.8,140.6 L270.8,136 L267.8,133.5" stroke="#858585" stroke-width="1.8" fill="none"/><circle cx="279.2" cy="156" r="1.5" fill="#8e8e8e"/><circle cx="282.8" cy="157" r="1.3" fill="#fafafa"/><circle cx="270.8" cy="136" r="1.5" fill="#8e8e8e"/><circle cx="267.8" cy="133.5" r="1.3" fill="#fafafa"/><path d="M292.2,145.2 L296.2,143.6 L298,148.9 L294.7,152.2 L291.8,150.5 Z" stroke="#858585" stroke-width="2" fill="#f2f2f6"/><path d="M296.2,143.6 L298.8,140.2 L302.1,138.5 M298.8,140.2 L296.3,137.3 M298,148.9 L303.3,152.2 L302.9,156.4 M303.3,152.2 L305.4,146 L306.7,137.7 M305.4,146 L309.1,146 M291.8,150.5 L287.6,151.8 M294.7,152.2 L295.1,155.9 M303.3,152.2 L306.3,158.4 M306.7,137.7 L309.7,135.1 M306.7,137.7 L304.2,134.1" stroke="#858585" stroke-width="2" fill="none"/><circle cx="292.2" cy="145.2" r="1.9" fill="#2020e8"/><circle cx="298" cy="148.9" r="1.9" fill="#2020e8"/><circle cx="291.8" cy="150.5" r="1.6" fill="#8e8e8e"/><circle cx="294.7" cy="152.2" r="1.6" fill="#8e8e8e"/><circle cx="296.2" cy="143.6" r="1.5" fill="#8e8e8e"/><circle cx="298.8" cy="140.2" r="1.6" fill="#8e8e8e"/><circle cx="303.3" cy="152.2" r="1.6" fill="#8e8e8e"/><circle cx="302.1" cy="138.5" r="1.6" fill="#e81040"/><circle cx="302.9" cy="156.4" r="1.6" fill="#e81040"/><circle cx="296.3" cy="137.3" r="1.4" fill="#fafafa"/><circle cx="287.6" cy="151.8" r="1.5" fill="#fafafa"/><circle cx="295.1" cy="155.9" r="1.4" fill="#fafafa"/><circle cx="306.3" cy="158.4" r="1.3" fill="#fafafa"/><circle cx="309.7" cy="135.1" r="1.3" fill="#fafafa"/><circle cx="304.2" cy="134.1" r="1.3" fill="#fafafa"/><circle cx="306.7" cy="137.7" r="1.5" fill="#8e8e8e"/><circle cx="305" cy="143.5" r="1.6" fill="#2020e8"/><circle cx="309.1" cy="146" r="1.5" fill="#2020e8"/><circle cx="305.4" cy="146" r="2.1" fill="#f2a08c"/><path d="M295.1,155.9 L297.7,160.6 L301.2,161.6 M292.2,145.2 L289.2,140.6 L286.2,138.1" stroke="#858585" stroke-width="1.8" fill="none"/><circle cx="297.7" cy="160.6" r="1.5" fill="#8e8e8e"/><circle cx="301.2" cy="161.6" r="1.3" fill="#fafafa"/><circle cx="289.2" cy="140.6" r="1.5" fill="#8e8e8e"/><circle cx="286.2" cy="138.1" r="1.3" fill="#fafafa"/><path d="M310.6,149.8 L314.6,148.2 L316.4,153.5 L313.1,156.8 L310.2,155.1 Z" stroke="#858585" stroke-width="2" fill="#f2f2f6"/><path d="M314.6,148.2 L317.2,144.8 L320.5,143.1 M317.2,144.8 L314.8,141.9 M316.4,153.5 L321.8,156.8 L321.3,161 M321.8,156.8 L323.8,150.6 L325.1,142.3 M323.8,150.6 L327.5,150.6 M310.2,155.1 L306,156.4 M313.1,156.8 L313.5,160.5 M321.8,156.8 L324.8,163 M325.1,142.3 L328.1,139.7 M325.1,142.3 L322.6,138.7" stroke="#858585" stroke-width="2" fill="none"/><circle cx="310.6" cy="149.8" r="1.9" fill="#2020e8"/><circle cx="316.4" cy="153.5" r="1.9" fill="#2020e8"/><circle cx="310.2" cy="155.1" r="1.6" fill="#8e8e8e"/><circle cx="313.1" cy="156.8" r="1.6" fill="#8e8e8e"/><circle cx="314.6" cy="148.2" r="1.5" fill="#8e8e8e"/><circle cx="317.2" cy="144.8" r="1.6" fill="#8e8e8e"/><circle cx="321.8" cy="156.8" r="1.6" fill="#8e8e8e"/><circle cx="320.5" cy="143.1" r="1.6" fill="#e81040"/><circle cx="321.3" cy="161" r="1.6" fill="#e81040"/><circle cx="314.8" cy="141.9" r="1.4" fill="#fafafa"/><circle cx="306" cy="156.4" r="1.5" fill="#fafafa"/><circle cx="313.5" cy="160.5" r="1.4" fill="#fafafa"/><circle cx="324.8" cy="163" r="1.3" fill="#fafafa"/><circle cx="328.1" cy="139.7" r="1.3" fill="#fafafa"/><circle cx="322.6" cy="138.7" r="1.3" fill="#fafafa"/><circle cx="325.1" cy="142.3" r="1.5" fill="#8e8e8e"/><circle cx="323.4" cy="148.1" r="1.6" fill="#2020e8"/><circle cx="327.5" cy="150.6" r="1.5" fill="#2020e8"/><circle cx="323.8" cy="150.6" r="2.1" fill="#f2a08c"/><path d="M313.5,160.5 L316.1,165.2 L319.6,166.2 M310.6,149.8 L307.6,145.2 L304.6,142.7" stroke="#858585" stroke-width="1.8" fill="none"/><circle cx="316.1" cy="165.2" r="1.5" fill="#8e8e8e"/><circle cx="319.6" cy="166.2" r="1.3" fill="#fafafa"/><circle cx="307.6" cy="145.2" r="1.5" fill="#8e8e8e"/><circle cx="304.6" cy="142.7" r="1.3" fill="#fafafa"/><path d="M329.1,154.4 L333.1,152.8 L334.9,158.1 L331.6,161.4 L328.7,159.7 Z" stroke="#858585" stroke-width="2" fill="#f2f2f6"/><path d="M333.1,152.8 L335.7,149.4 L339,147.7 M335.7,149.4 L333.2,146.5 M334.9,158.1 L340.2,161.4 L339.8,165.6 M340.2,161.4 L342.3,155.2 L343.6,146.9 M342.3,155.2 L346,155.2 M328.7,159.7 L324.5,161 M331.6,161.4 L332,165.1 M340.2,161.4 L343.2,167.6 M343.6,146.9 L346.6,144.3 M343.6,146.9 L341.1,143.3" stroke="#858585" stroke-width="2" fill="none"/><circle cx="329.1" cy="154.4" r="1.9" fill="#2020e8"/><circle cx="334.9" cy="158.1" r="1.9" fill="#2020e8"/><circle cx="328.7" cy="159.7" r="1.6" fill="#8e8e8e"/><circle cx="331.6" cy="161.4" r="1.6" fill="#8e8e8e"/><circle cx="333.1" cy="152.8" r="1.5" fill="#8e8e8e"/><circle cx="335.7" cy="149.4" r="1.6" fill="#8e8e8e"/><circle cx="340.2" cy="161.4" r="1.6" fill="#8e8e8e"/><circle cx="339" cy="147.7" r="1.6" fill="#e81040"/><circle cx="339.8" cy="165.6" r="1.6" fill="#e81040"/><circle cx="333.2" cy="146.5" r="1.4" fill="#fafafa"/><circle cx="324.5" cy="161" r="1.5" fill="#fafafa"/><circle cx="332" cy="165.1" r="1.4" fill="#fafafa"/><circle cx="343.2" cy="167.6" r="1.3" fill="#fafafa"/><circle cx="346.6" cy="144.3" r="1.3" fill="#fafafa"/><circle cx="341.1" cy="143.3" r="1.3" fill="#fafafa"/><circle cx="343.6" cy="146.9" r="1.5" fill="#8e8e8e"/><circle cx="341.9" cy="152.7" r="1.6" fill="#2020e8"/><circle cx="346" cy="155.2" r="1.5" fill="#2020e8"/><circle cx="342.3" cy="155.2" r="2.1" fill="#f2a08c"/><path d="M332,165.1 L334.6,169.8 L338.1,170.8 M329.1,154.4 L326.1,149.8 L323.1,147.3" stroke="#858585" stroke-width="1.8" fill="none"/><circle cx="334.6" cy="169.8" r="1.5" fill="#8e8e8e"/><circle cx="338.1" cy="170.8" r="1.3" fill="#fafafa"/><circle cx="326.1" cy="149.8" r="1.5" fill="#8e8e8e"/><circle cx="323.1" cy="147.3" r="1.3" fill="#fafafa"/><path d="M255.3,162.3 L259.3,160.7 L261.1,166 L257.8,169.3 L254.9,167.6 Z" stroke="#858585" stroke-width="2" fill="#f2f2f6"/><path d="M259.3,160.7 L261.9,157.3 L265.2,155.6 M261.9,157.3 L259.4,154.4 M261.1,166 L266.4,169.3 L266,173.5 M266.4,169.3 L268.5,163.1 L269.8,154.8 M268.5,163.1 L272.2,163.1 M254.9,167.6 L250.7,168.9 M257.8,169.3 L258.2,173 M266.4,169.3 L269.4,175.5 M269.8,154.8 L272.8,152.2 M269.8,154.8 L267.3,151.2" stroke="#858585" stroke-width="2" fill="none"/><circle cx="255.3" cy="162.3" r="1.9" fill="#2020e8"/><circle cx="261.1" cy="166" r="1.9" fill="#2020e8"/><circle cx="254.9" cy="167.6" r="1.6" fill="#8e8e8e"/><circle cx="257.8" cy="169.3" r="1.6" fill="#8e8e8e"/><circle cx="259.3" cy="160.7" r="1.5" fill="#8e8e8e"/><circle cx="261.9" cy="157.3" r="1.6" fill="#8e8e8e"/><circle cx="266.4" cy="169.3" r="1.6" fill="#8e8e8e"/><circle cx="265.2" cy="155.6" r="1.6" fill="#e81040"/><circle cx="266" cy="173.5" r="1.6" fill="#e81040"/><circle cx="259.4" cy="154.4" r="1.4" fill="#fafafa"/><circle cx="250.7" cy="168.9" r="1.5" fill="#fafafa"/><circle cx="258.2" cy="173" r="1.4" fill="#fafafa"/><circle cx="269.4" cy="175.5" r="1.3" fill="#fafafa"/><circle cx="272.8" cy="152.2" r="1.3" fill="#fafafa"/><circle cx="267.3" cy="151.2" r="1.3" fill="#fafafa"/><circle cx="269.8" cy="154.8" r="1.5" fill="#8e8e8e"/><circle cx="268.1" cy="160.6" r="1.6" fill="#2020e8"/><circle cx="272.2" cy="163.1" r="1.5" fill="#2020e8"/><circle cx="268.5" cy="163.1" r="2.1" fill="#f2a08c"/><path d="M258.2,173 L260.8,177.7 L264.3,178.7 M255.3,162.3 L252.3,157.7 L249.3,155.2" stroke="#858585" stroke-width="1.8" fill="none"/><circle cx="260.8" cy="177.7" r="1.5" fill="#8e8e8e"/><circle cx="264.3" cy="178.7" r="1.3" fill="#fafafa"/><circle cx="252.3" cy="157.7" r="1.5" fill="#8e8e8e"/><circle cx="249.3" cy="155.2" r="1.3" fill="#fafafa"/><path d="M273.8,166.9 L277.8,165.3 L279.6,170.6 L276.2,173.9 L273.4,172.2 Z" stroke="#858585" stroke-width="2" fill="#f2f2f6"/><path d="M277.8,165.3 L280.4,161.9 L283.6,160.2 M280.4,161.9 L277.9,159 M279.6,170.6 L284.9,173.9 L284.4,178.1 M284.9,173.9 L286.9,167.7 L288.2,159.4 M286.9,167.7 L290.6,167.7 M273.4,172.2 L269.1,173.5 M276.2,173.9 L276.6,177.6 M284.9,173.9 L287.9,180.1 M288.2,159.4 L291.2,156.8 M288.2,159.4 L285.8,155.8" stroke="#858585" stroke-width="2" fill="none"/><circle cx="273.8" cy="166.9" r="1.9" fill="#2020e8"/><circle cx="279.6" cy="170.6" r="1.9" fill="#2020e8"/><circle cx="273.4" cy="172.2" r="1.6" fill="#8e8e8e"/><circle cx="276.2" cy="173.9" r="1.6" fill="#8e8e8e"/><circle cx="277.8" cy="165.3" r="1.5" fill="#8e8e8e"/><circle cx="280.4" cy="161.9" r="1.6" fill="#8e8e8e"/><circle cx="284.9" cy="173.9" r="1.6" fill="#8e8e8e"/><circle cx="283.6" cy="160.2" r="1.6" fill="#e81040"/><circle cx="284.4" cy="178.1" r="1.6" fill="#e81040"/><circle cx="277.9" cy="159" r="1.4" fill="#fafafa"/><circle cx="269.1" cy="173.5" r="1.5" fill="#fafafa"/><circle cx="276.6" cy="177.6" r="1.4" fill="#fafafa"/><circle cx="287.9" cy="180.1" r="1.3" fill="#fafafa"/><circle cx="291.2" cy="156.8" r="1.3" fill="#fafafa"/><circle cx="285.8" cy="155.8" r="1.3" fill="#fafafa"/><circle cx="288.2" cy="159.4" r="1.5" fill="#8e8e8e"/><circle cx="286.6" cy="165.2" r="1.6" fill="#2020e8"/><circle cx="290.6" cy="167.7" r="1.5" fill="#2020e8"/><circle cx="286.9" cy="167.7" r="2.1" fill="#f2a08c"/><path d="M276.6,177.6 L279.2,182.3 L282.8,183.3 M273.8,166.9 L270.8,162.3 L267.8,159.8" stroke="#858585" stroke-width="1.8" fill="none"/><circle cx="279.2" cy="182.3" r="1.5" fill="#8e8e8e"/><circle cx="282.8" cy="183.3" r="1.3" fill="#fafafa"/><circle cx="270.8" cy="162.3" r="1.5" fill="#8e8e8e"/><circle cx="267.8" cy="159.8" r="1.3" fill="#fafafa"/><path d="M292.2,171.5 L296.2,169.9 L298,175.2 L294.7,178.5 L291.8,176.8 Z" stroke="#858585" stroke-width="2" fill="#f2f2f6"/><path d="M296.2,169.9 L298.8,166.5 L302.1,164.8 M298.8,166.5 L296.3,163.6 M298,175.2 L303.3,178.5 L302.9,182.7 M303.3,178.5 L305.4,172.3 L306.7,164 M305.4,172.3 L309.1,172.3 M291.8,176.8 L287.6,178.1 M294.7,178.5 L295.1,182.2 M303.3,178.5 L306.3,184.7 M306.7,164 L309.7,161.4 M306.7,164 L304.2,160.4" stroke="#858585" stroke-width="2" fill="none"/><circle cx="292.2" cy="171.5" r="1.9" fill="#2020e8"/><circle cx="298" cy="175.2" r="1.9" fill="#2020e8"/><circle cx="291.8" cy="176.8" r="1.6" fill="#8e8e8e"/><circle cx="294.7" cy="178.5" r="1.6" fill="#8e8e8e"/><circle cx="296.2" cy="169.9" r="1.5" fill="#8e8e8e"/><circle cx="298.8" cy="166.5" r="1.6" fill="#8e8e8e"/><circle cx="303.3" cy="178.5" r="1.6" fill="#8e8e8e"/><circle cx="302.1" cy="164.8" r="1.6" fill="#e81040"/><circle cx="302.9" cy="182.7" r="1.6" fill="#e81040"/><circle cx="296.3" cy="163.6" r="1.4" fill="#fafafa"/><circle cx="287.6" cy="178.1" r="1.5" fill="#fafafa"/><circle cx="295.1" cy="182.2" r="1.4" fill="#fafafa"/><circle cx="306.3" cy="184.7" r="1.3" fill="#fafafa"/><circle cx="309.7" cy="161.4" r="1.3" fill="#fafafa"/><circle cx="304.2" cy="160.4" r="1.3" fill="#fafafa"/><circle cx="306.7" cy="164" r="1.5" fill="#8e8e8e"/><circle cx="305" cy="169.8" r="1.6" fill="#2020e8"/><circle cx="309.1" cy="172.3" r="1.5" fill="#2020e8"/><circle cx="305.4" cy="172.3" r="2.1" fill="#f2a08c"/><path d="M295.1,182.2 L297.7,186.9 L301.2,187.9 M292.2,171.5 L289.2,166.9 L286.2,164.4" stroke="#858585" stroke-width="1.8" fill="none"/><circle cx="297.7" cy="186.9" r="1.5" fill="#8e8e8e"/><circle cx="301.2" cy="187.9" r="1.3" fill="#fafafa"/><circle cx="289.2" cy="166.9" r="1.5" fill="#8e8e8e"/><circle cx="286.2" cy="164.4" r="1.3" fill="#fafafa"/><path d="M310.6,176.1 L314.6,174.5 L316.4,179.8 L313.1,183.1 L310.2,181.4 Z" stroke="#858585" stroke-width="2" fill="#f2f2f6"/><path d="M314.6,174.5 L317.2,171.1 L320.5,169.4 M317.2,171.1 L314.8,168.2 M316.4,179.8 L321.8,183.1 L321.3,187.3 M321.8,183.1 L323.8,176.9 L325.1,168.6 M323.8,176.9 L327.5,176.9 M310.2,181.4 L306,182.7 M313.1,183.1 L313.5,186.8 M321.8,183.1 L324.8,189.3 M325.1,168.6 L328.1,166 M325.1,168.6 L322.6,165" stroke="#858585" stroke-width="2" fill="none"/><circle cx="310.6" cy="176.1" r="1.9" fill="#2020e8"/><circle cx="316.4" cy="179.8" r="1.9" fill="#2020e8"/><circle cx="310.2" cy="181.4" r="1.6" fill="#8e8e8e"/><circle cx="313.1" cy="183.1" r="1.6" fill="#8e8e8e"/><circle cx="314.6" cy="174.5" r="1.5" fill="#8e8e8e"/><circle cx="317.2" cy="171.1" r="1.6" fill="#8e8e8e"/><circle cx="321.8" cy="183.1" r="1.6" fill="#8e8e8e"/><circle cx="320.5" cy="169.4" r="1.6" fill="#e81040"/><circle cx="321.3" cy="187.3" r="1.6" fill="#e81040"/><circle cx="314.8" cy="168.2" r="1.4" fill="#fafafa"/><circle cx="306" cy="182.7" r="1.5" fill="#fafafa"/><circle cx="313.5" cy="186.8" r="1.4" fill="#fafafa"/><circle cx="324.8" cy="189.3" r="1.3" fill="#fafafa"/><circle cx="328.1" cy="166" r="1.3" fill="#fafafa"/><circle cx="322.6" cy="165" r="1.3" fill="#fafafa"/><circle cx="325.1" cy="168.6" r="1.5" fill="#8e8e8e"/><circle cx="323.4" cy="174.4" r="1.6" fill="#2020e8"/><circle cx="327.5" cy="176.9" r="1.5" fill="#2020e8"/><circle cx="323.8" cy="176.9" r="2.1" fill="#f2a08c"/><path d="M313.5,186.8 L316.1,191.5 L319.6,192.5 M310.6,176.1 L307.6,171.5 L304.6,169" stroke="#858585" stroke-width="1.8" fill="none"/><circle cx="316.1" cy="191.5" r="1.5" fill="#8e8e8e"/><circle cx="319.6" cy="192.5" r="1.3" fill="#fafafa"/><circle cx="307.6" cy="171.5" r="1.5" fill="#8e8e8e"/><circle cx="304.6" cy="169" r="1.3" fill="#fafafa"/><path d="M329.1,180.7 L333.1,179.1 L334.9,184.4 L331.6,187.7 L328.7,186 Z" stroke="#858585" stroke-width="2" fill="#f2f2f6"/><path d="M333.1,179.1 L335.7,175.7 L339,174 M335.7,175.7 L333.2,172.8 M334.9,184.4 L340.2,187.7 L339.8,191.9 M340.2,187.7 L342.3,181.5 L343.6,173.2 M342.3,181.5 L346,181.5 M328.7,186 L324.5,187.3 M331.6,187.7 L332,191.4 M340.2,187.7 L343.2,193.9 M343.6,173.2 L346.6,170.6 M343.6,173.2 L341.1,169.6" stroke="#858585" stroke-width="2" fill="none"/><circle cx="329.1" cy="180.7" r="1.9" fill="#2020e8"/><circle cx="334.9" cy="184.4" r="1.9" fill="#2020e8"/><circle cx="328.7" cy="186" r="1.6" fill="#8e8e8e"/><circle cx="331.6" cy="187.7" r="1.6" fill="#8e8e8e"/><circle cx="333.1" cy="179.1" r="1.5" fill="#8e8e8e"/><circle cx="335.7" cy="175.7" r="1.6" fill="#8e8e8e"/><circle cx="340.2" cy="187.7" r="1.6" fill="#8e8e8e"/><circle cx="339" cy="174" r="1.6" fill="#e81040"/><circle cx="339.8" cy="191.9" r="1.6" fill="#e81040"/><circle cx="333.2" cy="172.8" r="1.4" fill="#fafafa"/><circle cx="324.5" cy="187.3" r="1.5" fill="#fafafa"/><circle cx="332" cy="191.4" r="1.4" fill="#fafafa"/><circle cx="343.2" cy="193.9" r="1.3" fill="#fafafa"/><circle cx="346.6" cy="170.6" r="1.3" fill="#fafafa"/><circle cx="341.1" cy="169.6" r="1.3" fill="#fafafa"/><circle cx="343.6" cy="173.2" r="1.5" fill="#8e8e8e"/><circle cx="341.9" cy="179" r="1.6" fill="#2020e8"/><circle cx="346" cy="181.5" r="1.5" fill="#2020e8"/><circle cx="342.3" cy="181.5" r="2.1" fill="#f2a08c"/><path d="M332,191.4 L334.6,196.1 L338.1,197.1 M329.1,180.7 L326.1,176.1 L323.1,173.6" stroke="#858585" stroke-width="1.8" fill="none"/><circle cx="334.6" cy="196.1" r="1.5" fill="#8e8e8e"/><circle cx="338.1" cy="197.1" r="1.3" fill="#fafafa"/><circle cx="326.1" cy="176.1" r="1.5" fill="#8e8e8e"/><circle cx="323.1" cy="173.6" r="1.3" fill="#fafafa"/><line x1="253" y1="59" x2="352" y2="86.8" stroke="#fff" stroke-width="1.2"/><line x1="253" y1="111.6" x2="352" y2="139.4" stroke="#fff" stroke-width="1.2"/><line x1="253" y1="164.2" x2="352" y2="192" stroke="#fff" stroke-width="1.2"/></g>
<path d="M252.3,4.8 L345.4,30.9 L349.5,189.6 L257.3,163.5 Z M271.6,10.1 L275.2,168.9 M289.9,15.4 L293.8,174 M308.6,20.6 L312.6,179.3 M327,25.7 L331,184.5" stroke="#fff" stroke-width="1.1" fill="none"/>
<text x="258.7" y="184.5" font-size="7" fill="#e040e0" text-anchor="start" >z</text>
<line x1="258.7" y1="188.5" x2="258.7" y2="197.2" stroke="#e040e0" stroke-width="1.6"/>
<circle cx="258.7" cy="191" r="1.3" fill="#d01040"/>
<path d="M259.5,197 L268,196 M262,190 L266,196 L259.5,196.5 Z" stroke="#e6e6f4" stroke-width="1" fill="#e6e6f4"/>
<text x="271.5" y="198.5" font-size="6" fill="#eeeeee" text-anchor="start" >x</text>
<path d="M19.7,319.4 20,320.4 20.3,320 20.6,319.6 20.9,320 21.2,319.9 21.5,319.8 21.9,319.6 22.2,320.5 22.5,320 22.8,320.1 23.1,320.2 23.4,320.5 23.7,319.1 24,320 24.3,320.1 24.6,319.5 24.9,319.7 25.2,319.2 25.5,319.4 25.8,319.6 26.2,319.2 26.5,319.4 26.8,320.4 27.1,319.9 27.4,319.8 27.7,320.4 28,319.9 28.3,320.5 28.6,320 28.9,320.2 29.2,319.2 29.5,319.9 29.8,320.1 30.1,319.1 30.5,320.3 30.8,319.2 31.1,319.6 31.4,319 31.7,319 32,319 32.3,319.7 32.6,321.3 32.9,320.2 33.2,320.1 33.5,320.1 33.8,319.7 34.1,319.6 34.5,320.1 34.8,319.9 35.1,319.5 35.4,320.1 35.7,319.5 36,319.1 36.3,319.4 36.6,319.2 36.9,319.3 37.2,320.2 37.5,319.6 37.8,320.4 38.1,320.1 38.4,319.2 38.8,320.5 39.1,320.4 39.4,319.2 39.7,320.4 40,319.7 40.3,319.8 40.6,320.5 40.9,319.4 41.2,319.8 41.5,320.4 41.8,320.1 42.1,319.8 42.4,320.5 42.7,320.2 43.1,319.9 43.4,319.2 43.7,320 44,319.7 44.3,319.4 44.6,319.1 44.9,319.8 45.2,319.1 45.5,319.5 45.8,319.6 46.1,319.1 46.4,319.3 46.7,320.5 47,320.2 47.4,320.5 47.7,320 48,320.6 48.3,320.5 48.6,320.2 48.9,319.5 49.2,319.3 49.5,320.4 49.8,320.2 50.1,320 50.4,319.6 50.7,319.5 51,320.1 51.4,319.9 51.7,319.9 52,320 52.3,320.2 52.6,319.4 52.9,319.4 53.2,320.5 53.5,320.4 53.8,320.3 54.1,319.2 54.4,319.2 54.7,319.5 55,319.7 55.3,320 55.7,319.2 56,319.9 56.3,319.2 56.6,319.2 56.9,320 57.2,319.9 57.5,320 57.8,319.6 58.1,319.8 58.4,319.4 58.7,319.6 59,320.1 59.3,320.3 59.6,319.2 60,319.3 60.3,320.2 60.6,320 60.9,320.2 61.2,319.4 61.5,319.7 61.8,319.5 62.1,320.2 62.4,319.6 62.7,320 63,320.5 63.3,319.6 63.6,319.9 64,320.1 64.3,320.4 64.6,319.7 64.9,319.6 65.2,319.2 65.5,320.3 65.8,319.2 66.1,319.2 66.4,319.9 66.7,319.8 67,320.1 67.3,319.5 67.6,320.2 67.9,319.2 68.3,319.4 68.6,320 68.9,319.2 69.2,319.5 69.5,320.1 69.8,320.1 70.1,319.5 70.4,319.3 70.7,319.6 71,320.1 71.3,319.6 71.6,319.3 71.9,320.1 72.2,319.9 72.6,320.4 72.9,320.4 73.2,320.4 73.5,319.7 73.8,320.2 74.1,319.5 74.4,319.5 74.7,319.7 75,320.4 75.3,320.3 75.6,319.4 75.9,319.6 76.2,319.6 76.6,319.6 76.9,319.6 77.2,319.6 77.5,319.4 77.8,319.9 78.1,320.2 78.4,319.8 78.7,320.3 79,319.9 79.3,319.3 79.6,320.1 79.9,320.3 80.2,319.4 80.5,319.1 80.9,319.7 81.2,319.7 81.5,319.7 81.8,320.2 82.1,319.8 82.4,319.9 82.7,318.9 83,319.6 83.3,320.2 83.6,319.4 83.9,319.5 84.2,320.4 84.5,320.6 84.8,319.4 85.2,320.1 85.5,319.4 85.8,320.2 86.1,320.1 86.4,319.5 86.7,319.4 87,320.2 87.3,319.8 87.6,320.2 87.9,319.6 88.2,319.5 88.5,320.4 88.8,319.9 89.1,319.6 89.5,319.6 89.8,319.8 90.1,319.7 90.4,320 90.7,319.5 91,320.4 91.3,320.4 91.6,320.7 91.9,320.5 92.2,320.5 92.5,320.5 92.8,320.6 93.1,320.1 93.5,319.9 93.8,320.1 94.1,320.3 94.4,319.7 94.7,319.7 95,319.3 95.3,320.2 95.6,320.5 95.9,319.6 96.2,319.3 96.5,319.4 96.8,319.7 97.1,319.5 97.4,320.5 97.8,319.2 98.1,319.5 98.4,319.3 98.7,320 99,320.2 99.3,319.4 99.6,319.2 99.9,319.7 100.2,319.9 100.5,320.4 100.8,319.2 101.1,319.3 101.4,319.4 101.7,319.4 102.1,319.4 102.4,320.1 102.7,319.9 103,319.4 103.3,319.4 103.6,319.5 103.9,319.3 104.2,320.1 104.5,319.5 104.8,319.8 105.1,320.2 105.4,319.7 105.7,319.4 106.1,320.2 106.4,320.2 106.7,319.2 107,319.1 107.3,319.5 107.6,320.2 107.9,320.3 108.2,319.7 108.5,320.7 108.8,320.4 109.1,319.7 109.4,319.9 109.7,319.9 110,319.5 110.4,320.5 110.7,320 111,319.4 111.3,319.1 111.6,319.8 111.9,319.6 112.2,320.2 112.5,320.1 112.8,320 113.1,319.3 113.4,319.3 113.7,319.6 114,319.5 114.3,320.3 114.7,319.8 115,320 115.3,320.5 115.6,319.5 115.9,319.8 116.2,319.3 116.5,320.2 116.8,319.1 117.1,320.3 117.4,320.3 117.7,320.3 118,319.2 118.3,319.5 118.7,320.1 119,319.2 119.3,319.8 119.6,319.8 119.9,320.4 120.2,319.9 120.5,320.3 120.8,319.5 121.1,320.2 121.4,319.7 121.7,320.4 122,319.2 122.3,320.3 122.6,319.4 123,319.9 123.3,319.8 123.6,319.3 123.9,320.3 124.2,319.5 124.5,319.5 124.8,319.2 125.1,319.5 125.4,319.8 125.7,320.1 126,319.6 126.3,320.1 126.6,319.2 126.9,319.7 127.3,319.7 127.6,320.5 127.9,320.3 128.2,320 128.5,319.1 128.8,319.6 129.1,320.1 129.4,319.4 129.7,319.9 130,319.7 130.3,319.1 130.6,320.5 130.9,320.2 131.2,319.4 131.6,320 131.9,319.5 132.2,319.6 132.5,319.9 132.8,319.5 133.1,319.6 133.4,319.6 133.7,320 134,319.5 134.3,319.4 134.6,320.1 134.9,319.6 135.2,320.4 135.6,319.9 135.9,320.1 136.2,319.6 136.5,320.3 136.8,319.2 137.1,319.3 137.4,319.2 137.7,320 138,320.1 138.3,319.4 138.6,319.7 138.9,320.3 139.2,319.9 139.5,319.2 139.9,319.4 140.2,319.3 140.5,319.3 140.8,319.7 141.1,319.2 141.4,320.4 141.7,319.7 142,319.8 142.3,320 142.6,320.2 142.9,320.2 143.2,319.6 143.5,319.6 143.8,319.7 144.2,319.1 144.5,319.7 144.8,320.1 145.1,320.5 145.4,320.2 145.7,320 146,320 146.3,319.1 146.6,319.6 146.9,319.6 147.2,320 147.5,319.2 147.8,319.6 148.2,319.8 148.5,320.2 148.8,320.3 149.1,320 149.4,319.3 149.7,320.2 150,320.4 150.3,319.9 150.6,319.6 150.9,319.8 151.2,319.3 151.5,320.1 151.8,320.5 152.1,319.8 152.5,320.1 152.8,320.3 153.1,319.4 153.4,320.4 153.7,320 154,319.4 154.3,319.2 154.6,319.4 154.9,319.9 155.2,320.1 155.5,319.6 155.8,320.4 156.1,319.6 156.4,319.7 156.8,319.3 157.1,320.5 157.4,319.3 157.7,320.4 158,319.9 158.3,319.9 158.6,319.9 158.9,319.5 159.2,320.4 159.5,320.5 159.8,320.2 160.1,319.9 160.4,319.3 160.8,320.3 161.1,319.5 161.4,320.4 161.7,319.4 162,319.9 162.3,320.3 162.6,319.4 162.9,319.9 163.2,319.2 163.5,319.1 163.8,319.4 164.1,320.5 164.4,320.4 164.7,320 165.1,319.5 165.4,320 165.7,320.1 166,319.6 166.3,319.9 166.6,320.2 166.9,319.1 167.2,319.4 167.5,319.8 167.8,319.3 168.1,319.6 168.4,319.9 168.7,319.3 169,319.8 169.4,319.5 169.7,319.9 170,319.6 170.3,320 170.6,319.2 170.9,320 171.2,319.3 171.5,320.4 171.8,319.9 172.1,319.8 172.4,319.7 172.7,320 173,320.1" stroke="#222" stroke-width="0.9" fill="none"/>
<path d="M19.7,308.3 20,308.3 20.3,308.3 20.6,308.3 20.9,308.3 21.2,308.3 21.5,308.2 21.9,308.2 22.2,308.2 22.5,308.2 22.8,308.2 23.1,308.2 23.4,308.1 23.7,308.1 24,308.1 24.3,308.1 24.6,308 24.9,308 25.2,308 25.5,307.9 25.8,307.8 26.2,307.8 26.5,307.7 26.8,307.6 27.1,307.5 27.4,307.4 27.7,307.3 28,307.1 28.3,306.9 28.6,306.6 28.9,306.2 29.2,305.8 29.5,305.2 29.8,304.3 30.1,303.1 30.5,301.2 30.8,298.3 31.1,293.4 31.4,284.4 31.7,267.8 32,242.8 32.3,234.8 32.6,257.5 32.9,278.5 33.2,290.2 33.5,296.5 33.8,300.1 34.1,302.3 34.5,303.8 34.8,304.8 35.1,305.5 35.4,306 35.7,306.4 36,306.7 36.3,306.9 36.6,307.1 36.9,307.2 37.2,307.3 37.5,307.4 37.8,307.5 38.1,307.6 38.4,307.6 38.8,307.7 39.1,307.7 39.4,307.7 39.7,307.7 40,307.7 40.3,307.7 40.6,307.7 40.9,307.7 41.2,307.7 41.5,307.6 41.8,307.6 42.1,307.5 42.4,307.4 42.7,307.3 43.1,307.1 43.4,306.9 43.7,306.7 44,306.3 44.3,305.7 44.6,304.9 44.9,303.7 45.2,301.6 45.5,298.1 45.8,291.8 46.1,281.6 46.4,273.1 46.7,278.4 47,289.3 47.4,296.7 47.7,300.8 48,303.2 48.3,304.7 48.6,305.6 48.9,306.2 49.2,306.6 49.5,307 49.8,307.2 50.1,307.4 50.4,307.5 50.7,307.6 51,307.7 51.4,307.8 51.7,307.9 52,307.9 52.3,308 52.6,308 52.9,308 53.2,308.1 53.5,308.1 53.8,308.1 54.1,308.1 54.4,308.1 54.7,308.1 55,308.1 55.3,308.2 55.7,308.2 56,308.2 56.3,308.2 56.6,308.2 56.9,308.2 57.2,308.2 57.5,308.1 57.8,308.1 58.1,308.1 58.4,308.1 58.7,308.1 59,308 59.3,308 59.6,307.9 60,307.8 60.3,307.7 60.6,307.5 60.9,307.3 61.2,307 61.5,306.6 61.8,306.1 62.1,305.7 62.4,305.7 62.7,306 63,306.5 63.3,306.9 63.6,307.2 64,307.5 64.3,307.7 64.6,307.8 64.9,307.9 65.2,307.9 65.5,308 65.8,308 66.1,308 66.4,308 66.7,308.1 67,308.1 67.3,308.1 67.6,308.1 67.9,308 68.3,308 68.6,308 68.9,308 69.2,307.9 69.5,307.9 69.8,307.8 70.1,307.7 70.4,307.6 70.7,307.4 71,307.2 71.3,306.9 71.6,306.5 71.9,305.9 72.2,305.2 72.6,304.6 72.9,304.4 73.2,304.8 73.5,305.4 73.8,306 74.1,306.5 74.4,306.9 74.7,307.1 75,307.3 75.3,307.4 75.6,307.5 75.9,307.6 76.2,307.6 76.6,307.6 76.9,307.6 77.2,307.6 77.5,307.6 77.8,307.5 78.1,307.5 78.4,307.4 78.7,307.3 79,307.2 79.3,307.1 79.6,306.9 79.9,306.7 80.2,306.4 80.5,306.1 80.9,305.7 81.2,305.1 81.5,304.4 81.8,303.5 82.1,302.4 82.4,301 82.7,299.5 83,298.2 83.3,297.6 83.6,297.9 83.9,299 84.2,300.4 84.5,301.8 84.8,303 85.2,303.9 85.5,304.6 85.8,305.1 86.1,305.5 86.4,305.7 86.7,305.9 87,306 87.3,306 87.6,305.9 87.9,305.7 88.2,305.4 88.5,305 88.8,304.4 89.1,303.5 89.5,302.3 89.8,300.5 90.1,298.2 90.4,295.7 90.7,293.9 91,294.1 91.3,296.1 91.6,298.7 91.9,301 92.2,302.7 92.5,304 92.8,304.9 93.1,305.6 93.5,306.1 93.8,306.5 94.1,306.8 94.4,307 94.7,307.2 95,307.3 95.3,307.4 95.6,307.6 95.9,307.6 96.2,307.7 96.5,307.8 96.8,307.8 97.1,307.9 97.4,307.9 97.8,307.9 98.1,308 98.4,308 98.7,308 99,308 99.3,308 99.6,308.1 99.9,308.1 100.2,308.1 100.5,308.1 100.8,308.1 101.1,308.1 101.4,308.1 101.7,308.1 102.1,308.1 102.4,308.1 102.7,308.1 103,308.1 103.3,308 103.6,308 103.9,308 104.2,308 104.5,307.9 104.8,307.8 105.1,307.7 105.4,307.6 105.7,307.4 106.1,307 106.4,306.5 106.7,305.5 107,303.8 107.3,301.4 107.6,300.7 107.9,302.7 108.2,304.7 108.5,305.9 108.8,306.5 109.1,306.8 109.4,306.9 109.7,306.8 110,306.6 110.4,306.2 110.7,305.7 111,305.3 111.3,305.6 111.6,306.1 111.9,306.7 112.2,307.1 112.5,307.3 112.8,307.5 113.1,307.6 113.4,307.7 113.7,307.7 114,307.7 114.3,307.7 114.7,307.7 115,307.7 115.3,307.6 115.6,307.6 115.9,307.5 116.2,307.4 116.5,307.3 116.8,307.1 117.1,306.9 117.4,306.6 117.7,306.3 118,305.9 118.3,305.3 118.7,304.6 119,303.6 119.3,302.4 119.6,301 119.9,299.8 120.2,299.2 120.5,299.6 120.8,300.6 121.1,302 121.4,303.2 121.7,304.2 122,305 122.3,305.6 122.6,306.1 123,306.4 123.3,306.6 123.6,306.8 123.9,306.9 124.2,307 124.5,307.1 124.8,307.1 125.1,307 125.4,306.9 125.7,306.7 126,306.5 126.3,306.1 126.6,305.6 126.9,304.8 127.3,304.1 127.6,303.5 127.9,303.6 128.2,304.2 128.5,305 128.8,305.7 129.1,306.2 129.4,306.6 129.7,306.9 130,307.1 130.3,307.2 130.6,307.2 130.9,307.3 131.2,307.2 131.6,307.2 131.9,307.1 132.2,307 132.5,306.8 132.8,306.5 133.1,306.2 133.4,305.7 133.7,305 134,304.3 134.3,303.7 134.6,303.3 134.9,303.4 135.2,304 135.6,304.7 135.9,305.4 136.2,306 136.5,306.4 136.8,306.8 137.1,307 137.4,307.2 137.7,307.4 138,307.5 138.3,307.5 138.6,307.6 138.9,307.7 139.2,307.7 139.5,307.7 139.9,307.7 140.2,307.7 140.5,307.6 140.8,307.6 141.1,307.5 141.4,307.4 141.7,307.3 142,307.1 142.3,306.8 142.6,306.5 142.9,306.2 143.2,305.9 143.5,305.8 143.8,305.9 144.2,306.2 144.5,306.5 144.8,306.8 145.1,307 145.4,307.2 145.7,307.3 146,307.4 146.3,307.4 146.6,307.5 146.9,307.4 147.2,307.4 147.5,307.4 147.8,307.3 148.2,307.2 148.5,307.1 148.8,307 149.1,306.8 149.4,306.6 149.7,306.3 150,306 150.3,305.5 150.6,305 150.9,304.4 151.2,303.8 151.5,303.1 151.8,302.5 152.1,302.1 152.5,302.1 152.8,302.5 153.1,303 153.4,303.7 153.7,304.3 154,304.8 154.3,305.2 154.6,305.5 154.9,305.6 155.2,305.7 155.5,305.6 155.8,305.4 156.1,305.1 156.4,304.8 156.8,304.4 157.1,304.3 157.4,304.5 157.7,304.9 158,305.5 158.3,306 158.6,306.4 158.9,306.8 159.2,307 159.5,307.2 159.8,307.4 160.1,307.5 160.4,307.5 160.8,307.6 161.1,307.6 161.4,307.7 161.7,307.7 162,307.6 162.3,307.6 162.6,307.5 162.9,307.4 163.2,307.2 163.5,307 163.8,306.8 164.1,306.5 164.4,306.4 164.7,306.4 165.1,306.6 165.4,306.9 165.7,307.2 166,307.4 166.3,307.6 166.6,307.7 166.9,307.9 167.2,307.9 167.5,308 167.8,308.1 168.1,308.1 168.4,308.2 168.7,308.2 169,308.2 169.4,308.2 169.7,308.3 170,308.3 170.3,308.3 170.6,308.3 170.9,308.3 171.2,308.3 171.5,308.3 171.8,308.3 172.1,308.3 172.4,308.3 172.7,308.4 173,308.4" stroke="#ff2a2a" stroke-width="1.1" fill="none"/>
<path d="M19.7,291.4 20,291.4 20.3,291.7 20.6,291.4 20.9,291.4 21.2,291.4 21.5,291.1 21.9,291.3 22.2,291.4 22.5,291.5 22.8,291 23.1,291.1 23.4,290.9 23.7,291.4 24,291.3 24.3,290.8 24.6,291.5 24.9,291.4 25.2,291.1 25.5,291.1 25.8,290.7 26.2,290.5 26.5,290.8 26.8,290.4 27.1,290.4 27.4,290.3 27.7,290 28,290.1 28.3,289.9 28.6,289.9 28.9,289.3 29.2,288.9 29.5,288.2 29.8,287.4 30.1,286.1 30.5,284 30.8,281.6 31.1,276.5 31.4,267.3 31.7,250.3 32,224.7 32.3,216.5 32.6,239.6 32.9,260.7 33.2,273.1 33.5,279.3 33.8,283.3 34.1,285.3 34.5,287.1 34.8,288.1 35.1,288.2 35.4,288.8 35.7,289.7 36,289.7 36.3,290.3 36.6,290.1 36.9,290 37.2,290.5 37.5,290.7 37.8,290.4 38.1,290.4 38.4,290.6 38.8,291.1 39.1,291 39.4,290.5 39.7,290.6 40,290.6 40.3,290.5 40.6,291 40.9,290.6 41.2,290.8 41.5,290.7 41.8,290.5 42.1,290.8 42.4,290.2 42.7,290.5 43.1,290 43.4,290 43.7,289.5 44,289.2 44.3,289.1 44.6,288.2 44.9,286.5 45.2,284.9 45.5,280.8 45.8,274.6 46.1,264.5 46.4,255.7 46.7,260.7 47,272.4 47.4,279.4 47.7,283.6 48,286.4 48.3,287.6 48.6,288.5 48.9,289 49.2,289.4 49.5,290.1 49.8,290.1 50.1,290.5 50.4,290.5 50.7,290.7 51,291.1 51.4,290.9 51.7,291 52,291.3 52.3,290.8 52.6,290.8 52.9,291.4 53.2,291.4 53.5,291 53.8,291 54.1,291.4 54.4,291.5 54.7,291 55,291.6 55.3,291.5 55.7,291.3 56,291.2 56.3,291 56.6,290.9 56.9,291.6 57.2,291.1 57.5,291.4 57.8,291.1 58.1,291.4 58.4,291.3 58.7,291 59,290.9 59.3,291.2 59.6,290.7 60,290.7 60.3,290.8 60.6,290.9 60.9,290.5 61.2,289.9 61.5,289.9 61.8,288.9 62.1,288.4 62.4,288.6 62.7,289 63,289.2 63.3,289.8 63.6,290.2 64,290.6 64.3,290.5 64.6,290.8 64.9,291.2 65.2,291.4 65.5,291.2 65.8,291.2 66.1,291.2 66.4,290.9 66.7,290.8 67,290.8 67.3,291.4 67.6,291.3 67.9,291.5 68.3,290.8 68.6,291.2 68.9,291 69.2,291.2 69.5,290.8 69.8,291.2 70.1,290.5 70.4,290.7 70.7,290.7 71,290.6 71.3,290.1 71.6,289.7 71.9,289.2 72.2,288.6 72.6,287.6 72.9,287.6 73.2,288.1 73.5,288.7 73.8,289 74.1,289.8 74.4,290.2 74.7,290.3 75,290.5 75.3,290.4 75.6,290.7 75.9,290.7 76.2,290.4 76.6,290.8 76.9,291 77.2,291 77.5,290.8 77.8,290.5 78.1,290.7 78.4,290.5 78.7,290.4 79,290.5 79.3,289.9 79.6,290.1 79.9,289.4 80.2,289.6 80.5,289.1 80.9,288.5 81.2,288.3 81.5,287.5 81.8,286.6 82.1,285.7 82.4,283.8 82.7,282.1 83,281 83.3,280.6 83.6,280.6 83.9,281.7 84.2,283.7 84.5,284.9 84.8,286 85.2,287.2 85.5,287.5 85.8,288.3 86.1,288.3 86.4,288.7 86.7,289.2 87,289.3 87.3,289.3 87.6,288.9 87.9,288.8 88.2,288.4 88.5,287.8 88.8,287.4 89.1,286.8 89.5,285.5 89.8,283.6 90.1,281.4 90.4,278.4 90.7,276.6 91,276.9 91.3,278.8 91.6,281.4 91.9,283.9 92.2,285.8 92.5,287 92.8,287.8 93.1,288.9 93.5,289.5 93.8,289.5 94.1,289.5 94.4,289.7 94.7,290.5 95,290.1 95.3,290.7 95.6,290.7 95.9,290.6 96.2,291 96.5,290.5 96.8,290.7 97.1,290.9 97.4,290.7 97.8,291.3 98.1,290.9 98.4,290.8 98.7,290.8 99,291.2 99.3,291.1 99.6,291.2 99.9,291.3 100.2,291.4 100.5,291.5 100.8,291.3 101.1,291 101.4,291.2 101.7,291 102.1,290.8 102.4,291.2 102.7,291.3 103,290.9 103.3,291 103.6,291 103.9,291.2 104.2,291.1 104.5,291.1 104.8,291.1 105.1,290.7 105.4,290.9 105.7,290.7 106.1,289.8 106.4,289.8 106.7,288.7 107,286.6 107.3,284.4 107.6,283.8 107.9,286 108.2,287.7 108.5,289 108.8,289.9 109.1,290.1 109.4,290.3 109.7,289.9 110,289.8 110.4,289 110.7,288.9 111,288.6 111.3,288.7 111.6,289.4 111.9,289.6 112.2,290.4 112.5,290.7 112.8,290.9 113.1,290.7 113.4,290.9 113.7,290.6 114,291.1 114.3,291 114.7,290.7 115,290.4 115.3,290.7 115.6,290.7 115.9,290.7 116.2,290.4 116.5,290 116.8,290.4 117.1,289.7 117.4,289.9 117.7,289.1 118,288.8 118.3,288.6 118.7,287.3 119,286.4 119.3,285.4 119.6,284.2 119.9,283 120.2,282.3 120.5,282.8 120.8,283.6 121.1,285.3 121.4,285.9 121.7,287.1 122,288.1 122.3,288.5 122.6,289.3 123,289.6 123.3,289.7 123.6,290.1 123.9,290.1 124.2,290 124.5,290.1 124.8,290.4 125.1,290.4 125.4,289.8 125.7,290.1 126,289.9 126.3,289.2 126.6,288.7 126.9,287.7 127.3,287.1 127.6,286.5 127.9,286.6 128.2,286.9 128.5,288.4 128.8,288.8 129.1,289.2 129.4,289.9 129.7,290 130,290.1 130.3,290.4 130.6,290 130.9,290.4 131.2,290.3 131.6,290.6 131.9,290.5 132.2,289.9 132.5,289.8 132.8,289.3 133.1,289.2 133.4,288.9 133.7,288.4 134,287.3 134.3,286.6 134.6,286.1 134.9,286.5 135.2,287.3 135.6,287.5 135.9,288.6 136.2,288.7 136.5,289.3 136.8,289.6 137.1,290.2 137.4,290.2 137.7,290.3 138,290.6 138.3,290.4 138.6,290.9 138.9,290.5 139.2,290.8 139.5,290.6 139.9,290.6 140.2,290.8 140.5,290.7 140.8,290.6 141.1,290.5 141.4,290.5 141.7,290.1 142,289.9 142.3,290 142.6,289.7 142.9,289.2 143.2,289.2 143.5,288.9 143.8,289.2 144.2,289.1 144.5,289.8 144.8,290.1 145.1,290.4 145.4,290.2 145.7,290.3 146,290.8 146.3,290.3 146.6,290.9 146.9,290.8 147.2,290.2 147.5,290.3 147.8,290.6 148.2,290.1 148.5,289.9 148.8,290.3 149.1,289.8 149.4,289.8 149.7,289.1 150,289 150.3,288.7 150.6,287.7 150.9,287.2 151.2,286.9 151.5,286.4 151.8,285.8 152.1,284.9 152.5,285.1 152.8,285.7 153.1,286 153.4,286.8 153.7,287.1 154,287.5 154.3,287.9 154.6,288.2 154.9,288.7 155.2,288.8 155.5,288.7 155.8,288.2 156.1,288 156.4,287.6 156.8,287.7 157.1,287.6 157.4,287.8 157.7,287.7 158,288.2 158.3,289.4 158.6,289.5 158.9,290 159.2,290 159.5,290.3 159.8,290.4 160.1,290.5 160.4,290.7 160.8,290.4 161.1,290.9 161.4,291 161.7,290.5 162,290.7 162.3,290.8 162.6,290.5 162.9,290.3 163.2,290.1 163.5,290.1 163.8,289.5 164.1,289.9 164.4,289.6 164.7,289.6 165.1,289.9 165.4,290 165.7,290.2 166,290.6 166.3,290.7 166.6,291.2 166.9,291.2 167.2,290.9 167.5,291.4 167.8,291.3 168.1,291.4 168.4,291.5 168.7,291.2 169,291.6 169.4,291.6 169.7,291.5 170,291.6 170.3,291.6 170.6,291.3 170.9,291.6 171.2,291.1 171.5,291.3 171.8,291.4 172.1,291.1 172.4,291.3 172.7,291.6 173,291.5" stroke="#8e2cff" stroke-width="1.1" fill="none"/>
<path d="M19.7,210.6 L174,210.6 L174,329 L19.7,329 Z" fill="none" stroke="#444" stroke-width="1.2"/>
<line x1="19.7" y1="329" x2="19.7" y2="333.3" stroke="#444" stroke-width="1"/>
<text transform="translate(19.7,343.5) scale(0.95,1)" font-size="9.6" fill="#222" text-anchor="middle" >10</text>
<line x1="63.6" y1="329" x2="63.6" y2="333.3" stroke="#444" stroke-width="1"/>
<text transform="translate(63.6,343.5) scale(0.95,1)" font-size="9.6" fill="#222" text-anchor="middle" >20</text>
<line x1="107.5" y1="329" x2="107.5" y2="333.3" stroke="#444" stroke-width="1"/>
<text transform="translate(107.5,343.5) scale(0.95,1)" font-size="9.6" fill="#222" text-anchor="middle" >30</text>
<line x1="151.4" y1="329" x2="151.4" y2="333.3" stroke="#444" stroke-width="1"/>
<text transform="translate(151.4,343.5) scale(0.95,1)" font-size="9.6" fill="#222" text-anchor="middle" >40</text>
<text x="86.4" y="353" font-size="10.2" fill="#222" text-anchor="middle" >2θ</text>
<text transform="translate(8.5,269.3) rotate(-90) scale(1.08,1)" font-size="11" fill="#222" text-anchor="middle" dominant-baseline="central" >Intensity (a.u.)</text>
<line x1="59.8" y1="221.9" x2="75.6" y2="221.9" stroke="#8e2cff" stroke-width="1.1"/>
<text transform="translate(77.7,224.9) scale(0.84,1)" font-size="8.4" fill="#8e2cff" text-anchor="start" stroke="#8e2cff" stroke-width="0.2">experimental PXRD</text>
<line x1="59.8" y1="232.4" x2="75.6" y2="232.4" stroke="#ff2a2a" stroke-width="1.1"/>
<text transform="translate(77.7,235.4) scale(0.84,1)" font-size="8.4" fill="#ff2a2a" text-anchor="start" stroke="#ff2a2a" stroke-width="0.2">calculated</text>
<line x1="59.8" y1="242.3" x2="75.6" y2="242.3" stroke="#222" stroke-width="1.1"/>
<text transform="translate(77.7,245.3) scale(0.84,1)" font-size="8.4" fill="#222" text-anchor="start" stroke="#222" stroke-width="0.2">difference</text>
<path d="M218.5,328.2 222,327.4 227.5,326.5 230.1,326.5 232.7,326.5 235.1,326.5 237.7,326.5 240.3,326.5 242.7,326.5 245.3,326.5 246.9,326.5 254,326.5 261.8,326.5 269.1,326.4 276.9,325.9 284.6,325.4 292.6,325.2 300.2,324.9 307.6,324.3 315.1,323.6 322.6,323.2 330.2,322.1 337.3,320.8 339,320.5 340.5,320.2 342,319.9 343.6,319.4 345.1,318.8 346.6,318 349.7,316.2 352.9,314.3 356.2,308.5 360.2,299.4 364,273.7 365.3,258.2 366.3,234.4 367.2,214.3" stroke="#8a10f0" stroke-width="0.9" fill="none"/>
<path d="M367.2,214.3 365.3,222.4 364.3,242.7 360.5,273.9 356.7,299.4 352.7,309.7 347.8,314.5 343.6,317.2 338.2,319.1 337.3,320.8" stroke="#8a10f0" stroke-width="0.9" fill="none"/>
<circle cx="365.3" cy="222.4" r="2.3" fill="#fff" stroke="#8a10f0" stroke-width="0.9"/>
<circle cx="364.3" cy="242.7" r="2.3" fill="#fff" stroke="#8a10f0" stroke-width="0.9"/>
<circle cx="360.5" cy="273.9" r="2.3" fill="#fff" stroke="#8a10f0" stroke-width="0.9"/>
<circle cx="356.7" cy="299.4" r="2.3" fill="#fff" stroke="#8a10f0" stroke-width="0.9"/>
<circle cx="352.7" cy="309.7" r="2.3" fill="#fff" stroke="#8a10f0" stroke-width="0.9"/>
<circle cx="347.8" cy="314.5" r="2.3" fill="#fff" stroke="#8a10f0" stroke-width="0.9"/>
<circle cx="343.6" cy="317.2" r="2.3" fill="#fff" stroke="#8a10f0" stroke-width="0.9"/>
<circle cx="338.2" cy="319.1" r="2.3" fill="#fff" stroke="#8a10f0" stroke-width="0.9"/>
<circle cx="218.5" cy="328.2" r="2.7" fill="#8a10f0"/>
<circle cx="222" cy="327.4" r="2.7" fill="#8a10f0"/>
<circle cx="227.5" cy="326.5" r="2.7" fill="#8a10f0"/>
<circle cx="230.1" cy="326.5" r="2.7" fill="#8a10f0"/>
<circle cx="232.7" cy="326.5" r="2.7" fill="#8a10f0"/>
<circle cx="235.1" cy="326.5" r="2.7" fill="#8a10f0"/>
<circle cx="237.7" cy="326.5" r="2.7" fill="#8a10f0"/>
<circle cx="240.3" cy="326.5" r="2.7" fill="#8a10f0"/>
<circle cx="242.7" cy="326.5" r="2.7" fill="#8a10f0"/>
<circle cx="245.3" cy="326.5" r="2.7" fill="#8a10f0"/>
<circle cx="246.9" cy="326.5" r="2.7" fill="#8a10f0"/>
<circle cx="254" cy="326.5" r="2.7" fill="#8a10f0"/>
<circle cx="261.8" cy="326.5" r="2.7" fill="#8a10f0"/>
<circle cx="269.1" cy="326.4" r="2.7" fill="#8a10f0"/>
<circle cx="276.9" cy="325.9" r="2.7" fill="#8a10f0"/>
<circle cx="284.6" cy="325.4" r="2.7" fill="#8a10f0"/>
<circle cx="292.6" cy="325.2" r="2.7" fill="#8a10f0"/>
<circle cx="300.2" cy="324.9" r="2.7" fill="#8a10f0"/>
<circle cx="307.6" cy="324.3" r="2.7" fill="#8a10f0"/>
<circle cx="315.1" cy="323.6" r="2.7" fill="#8a10f0"/>
<circle cx="322.6" cy="323.2" r="2.7" fill="#8a10f0"/>
<circle cx="330.2" cy="322.1" r="2.7" fill="#8a10f0"/>
<circle cx="337.3" cy="320.8" r="2.7" fill="#8a10f0"/>
<circle cx="339" cy="320.5" r="2.7" fill="#8a10f0"/>
<circle cx="340.5" cy="320.2" r="2.7" fill="#8a10f0"/>
<circle cx="342" cy="319.9" r="2.7" fill="#8a10f0"/>
<circle cx="343.6" cy="319.4" r="2.7" fill="#8a10f0"/>
<circle cx="345.1" cy="318.8" r="2.7" fill="#8a10f0"/>
<circle cx="346.6" cy="318" r="2.7" fill="#8a10f0"/>
<circle cx="349.7" cy="316.2" r="2.7" fill="#8a10f0"/>
<circle cx="352.9" cy="314.3" r="2.7" fill="#8a10f0"/>
<circle cx="356.2" cy="308.5" r="2.7" fill="#8a10f0"/>
<circle cx="360.2" cy="299.4" r="2.7" fill="#8a10f0"/>
<circle cx="364" cy="273.7" r="2.7" fill="#8a10f0"/>
<circle cx="365.3" cy="258.2" r="2.7" fill="#8a10f0"/>
<circle cx="366.3" cy="234.4" r="2.7" fill="#8a10f0"/>
<circle cx="367.2" cy="214.3" r="2.7" fill="#8a10f0"/>
<path d="M214.6,210.8 L371.4,210.8 L371.4,332.4 L214.6,332.4 Z" fill="none" stroke="#444" stroke-width="1.2"/>
<line x1="214.6" y1="331.3" x2="210.8" y2="331.3" stroke="#444" stroke-width="1"/>
<text transform="translate(209.6,334.5) scale(0.83,1)" font-size="9.4" fill="#222" text-anchor="end" >0</text>
<line x1="214.6" y1="307.8" x2="210.8" y2="307.8" stroke="#444" stroke-width="1"/>
<text transform="translate(209.6,310.9) scale(0.83,1)" font-size="9.4" fill="#222" text-anchor="end" >50</text>
<line x1="214.6" y1="284.2" x2="210.8" y2="284.2" stroke="#444" stroke-width="1"/>
<text transform="translate(209.6,287.4) scale(0.83,1)" font-size="9.4" fill="#222" text-anchor="end" >100</text>
<line x1="214.6" y1="260.7" x2="210.8" y2="260.7" stroke="#444" stroke-width="1"/>
<text transform="translate(209.6,263.9) scale(0.83,1)" font-size="9.4" fill="#222" text-anchor="end" >150</text>
<line x1="214.6" y1="237.1" x2="210.8" y2="237.1" stroke="#444" stroke-width="1"/>
<text transform="translate(209.6,240.3) scale(0.83,1)" font-size="9.4" fill="#222" text-anchor="end" >200</text>
<line x1="214.6" y1="213.6" x2="210.8" y2="213.6" stroke="#444" stroke-width="1"/>
<text transform="translate(209.6,216.8) scale(0.83,1)" font-size="9.4" fill="#222" text-anchor="end" >250</text>
<line x1="216.4" y1="332.4" x2="216.4" y2="335.8" stroke="#444" stroke-width="1"/>
<text transform="translate(216.4,345.6) scale(0.88,1)" font-size="9.7" fill="#222" text-anchor="middle" >0.0</text>
<line x1="246.9" y1="332.4" x2="246.9" y2="335.8" stroke="#444" stroke-width="1"/>
<text transform="translate(246.9,345.6) scale(0.88,1)" font-size="9.7" fill="#222" text-anchor="middle" >0.2</text>
<line x1="277.3" y1="332.4" x2="277.3" y2="335.8" stroke="#444" stroke-width="1"/>
<text transform="translate(277.3,345.6) scale(0.88,1)" font-size="9.7" fill="#222" text-anchor="middle" >0.4</text>
<line x1="307.8" y1="332.4" x2="307.8" y2="335.8" stroke="#444" stroke-width="1"/>
<text transform="translate(307.8,345.6) scale(0.88,1)" font-size="9.7" fill="#222" text-anchor="middle" >0.6</text>
<line x1="338.2" y1="332.4" x2="338.2" y2="335.8" stroke="#444" stroke-width="1"/>
<text transform="translate(338.2,345.6) scale(0.88,1)" font-size="9.7" fill="#222" text-anchor="middle" >0.8</text>
<line x1="368.7" y1="332.4" x2="368.7" y2="335.8" stroke="#444" stroke-width="1"/>
<text transform="translate(368.7,345.6) scale(0.88,1)" font-size="9.7" fill="#222" text-anchor="middle" >1.0</text>
<text transform="translate(284,357.6) scale(0.95,1)" font-size="9.8" fill="#222" text-anchor="start" >P/P<tspan font-size="7.8" dy="3">0</tspan></text>
<text transform="translate(191.6,284) rotate(-90) scale(0.92,1)" font-size="10" fill="#222" text-anchor="middle" dominant-baseline="central" >N<tspan font-size="7.8" dy="2.5">2</tspan><tspan dy="-2.5"> Adsorbed (cm</tspan><tspan font-size="6.2" dy="-3.2">3</tspan><tspan dy="3.2">/g)</tspan></text>
<line x1="218.6" y1="302.9" x2="232.4" y2="302.9" stroke="#8a10f0" stroke-width="0.9"/><circle cx="225.3" cy="302.9" r="2.6" fill="#8a10f0"/>
<line x1="218.7" y1="311.7" x2="232.3" y2="311.7" stroke="#8a10f0" stroke-width="0.9"/><circle cx="225.5" cy="311.7" r="2.2" fill="#fff" stroke="#8a10f0" stroke-width="0.9"/>
<text transform="translate(234,305.3) scale(0.82,1)" font-size="7.4" fill="#8a10f0" text-anchor="start" >Adsorption</text>
<text transform="translate(234,314.4) scale(0.82,1)" font-size="7.4" fill="#8a10f0" text-anchor="start" >Desorption</text>
<rect x="227" y="214.2" width="100" height="61.19999999999999" fill="#fff" stroke="#666" stroke-width="0.8"/>
<path d="M227,218.9 227.1,218.9 227.2,218.9 227.3,218.9 227.4,218.9 227.6,218.9 227.7,218.9 227.8,218.9 227.9,218.9 228,218.9 228.1,218.9 228.2,218.9 228.3,218.9 228.4,218.9 228.6,218.9 228.7,218.9 228.8,218.9 228.9,218.9 229,218.9 229.1,218.9 229.2,218.9 229.3,218.9 229.4,218.9 229.5,218.9 229.7,218.9 229.8,218.9 229.9,218.9 230,218.9 230.1,218.9 230.2,218.9 230.3,218.9 230.4,218.9 230.5,218.9 230.7,218.9 230.8,218.9 230.9,218.9 231,218.9 231.1,218.9 231.2,218.9 231.3,218.9 231.4,218.9 231.5,218.9 231.7,218.9 231.8,218.9 231.9,218.9 232,218.9 232.1,218.9 232.2,218.9 232.3,218.9 232.4,218.9 232.5,218.9 232.7,218.9 232.8,218.9 232.9,218.9 233,218.9 233.1,219 233.2,219 233.3,219 233.4,219 233.5,219 233.7,219 233.8,219 233.9,219 234,219 234.1,219 234.2,219.1 234.3,219.1 234.4,219.1 234.5,219.1 234.6,219.1 234.8,219.2 234.9,219.2 235,219.2 235.1,219.3 235.2,219.3 235.3,219.3 235.4,219.4 235.5,219.4 235.6,219.5 235.8,219.5 235.9,219.6 236,219.6 236.1,219.7 236.2,219.8 236.3,219.8 236.4,219.9 236.5,220 236.6,220.1 236.8,220.2 236.9,220.3 237,220.4 237.1,220.5 237.2,220.6 237.3,220.7 237.4,220.9 237.5,221 237.6,221.1 237.8,221.3 237.9,221.4 238,221.6 238.1,221.8 238.2,221.9 238.3,222.1 238.4,222.3 238.5,222.5 238.6,222.7 238.8,222.9 238.9,223.1 239,223.3 239.1,223.5 239.2,223.8 239.3,224 239.4,224.2 239.5,224.4 239.6,224.7 239.7,224.9 239.9,225.2 240,225.4 240.1,225.6 240.2,225.9 240.3,226.1 240.4,226.4 240.5,226.6 240.6,226.8 240.7,227.1 240.9,227.3 241,227.5 241.1,227.7 241.2,227.9 241.3,228.1 241.4,228.3 241.5,228.5 241.6,228.7 241.7,228.8 241.9,229 242,229.1 242.1,229.3 242.2,229.4 242.3,229.5 242.4,229.6 242.5,229.6 242.6,229.7 242.7,229.8 242.9,229.8 243,229.8 243.1,229.8 243.2,229.8 243.3,229.8 243.4,229.8 243.5,229.7 243.6,229.6 243.7,229.6 243.9,229.5 244,229.4 244.1,229.3 244.2,229.1 244.3,229 244.4,228.8 244.5,228.7 244.6,228.5 244.7,228.3 244.8,228.1 245,227.9 245.1,227.7 245.2,227.5 245.3,227.3 245.4,227.1 245.5,226.8 245.6,226.6 245.7,226.4 245.8,226.1 246,225.9 246.1,225.6 246.2,225.4 246.3,225.2 246.4,224.9 246.5,224.7 246.6,224.4 246.7,224.2 246.8,224 247,223.8 247.1,223.5 247.2,223.3 247.3,223.1 247.4,222.9 247.5,222.7 247.6,222.5 247.7,222.3 247.8,222.1 248,221.9 248.1,221.8 248.2,221.6 248.3,221.4 248.4,221.3 248.5,221.1 248.6,221 248.7,220.9 248.8,220.7 248.9,220.6 249.1,220.5 249.2,220.4 249.3,220.3 249.4,220.2 249.5,220.1 249.6,220 249.7,219.9 249.8,219.8 249.9,219.8 250.1,219.7 250.2,219.6 250.3,219.6 250.4,219.5 250.5,219.5 250.6,219.5 250.7,219.7 250.8,220.2 250.9,221.2 251.1,222.5 251.2,224.1 251.3,225.4 251.4,225.9 251.5,225.4 251.6,224 251.7,222.4 251.8,221 251.9,220 252.1,219.4 252.2,219.2 252.3,219.1 252.4,219 252.5,219 252.6,219 252.7,219 252.8,219 252.9,219 253.1,219 253.2,218.9 253.3,218.9 253.4,218.9 253.5,218.9 253.6,218.9 253.7,218.9 253.8,218.9 253.9,218.9 254,218.9 254.2,218.9 254.3,218.9 254.4,218.9 254.5,218.9 254.6,218.9 254.7,218.9 254.8,218.9 254.9,218.9 255,218.9 255.2,218.9 255.3,218.9 255.4,218.9 255.5,218.9 255.6,218.9 255.7,218.9 255.8,218.9 255.9,218.9 256,218.9 256.2,218.9 256.3,218.9 256.4,218.9 256.5,219 256.6,219.1 256.7,219.3 256.8,219.5 256.9,220 257,220.6 257.2,221.5 257.3,222.6 257.4,224 257.5,225.6 257.6,227.3 257.7,228.9 257.8,230.2 257.9,231.1 258,231.4 258.2,231.1 258.3,230.2 258.4,228.9 258.5,227.3 258.6,225.6 258.7,224 258.8,222.6 258.9,221.5 259,220.6 259.1,220 259.3,219.5 259.4,219.3 259.5,219.1 259.6,219 259.7,218.9 259.8,218.9 259.9,218.9 260,218.9 260.1,218.9 260.3,218.9 260.4,218.9 260.5,218.9 260.6,218.9 260.7,218.9 260.8,218.9 260.9,218.9 261,218.9 261.1,218.9 261.3,218.9 261.4,218.9 261.5,218.9 261.6,218.9 261.7,218.9 261.8,218.9 261.9,218.9 262,218.9 262.1,218.9 262.3,218.9 262.4,218.9 262.5,218.9 262.6,218.9 262.7,218.9 262.8,218.9 262.9,218.9 263,218.9 263.1,218.9 263.3,218.9 263.4,218.9 263.5,218.9 263.6,218.9 263.7,218.9 263.8,218.9 263.9,218.9 264,218.9 264.1,218.9 264.2,218.9 264.4,218.9 264.5,218.9 264.6,218.9 264.7,218.9 264.8,218.9 264.9,218.9 265,218.9 265.1,218.9 265.2,218.9 265.4,218.9 265.5,218.9 265.6,218.9 265.7,218.9 265.8,218.9 265.9,218.9 266,218.9 266.1,218.9 266.2,218.9 266.4,218.9 266.5,218.9 266.6,218.9 266.7,218.9 266.8,218.9 266.9,218.9 267,218.9 267.1,218.9 267.2,218.9 267.4,218.9 267.5,218.9 267.6,218.9 267.7,218.9 267.8,218.9 267.9,218.9 268,218.9 268.1,218.9 268.2,218.9 268.3,218.9 268.5,218.9 268.6,218.9 268.7,218.9 268.8,218.9 268.9,218.9 269,218.9 269.1,218.9 269.2,218.9 269.3,218.9 269.5,218.9 269.6,218.9 269.7,218.9 269.8,218.9 269.9,218.9 270,218.9 270.1,218.9 270.2,218.9 270.3,218.9 270.5,218.9 270.6,218.9 270.7,218.9 270.8,218.9 270.9,218.9 271,218.9 271.1,218.9 271.2,218.9 271.3,218.9 271.5,218.9 271.6,218.9 271.7,218.9 271.8,218.9 271.9,218.9 272,218.9 272.1,218.9 272.2,218.9 272.3,218.9 272.5,218.9 272.6,218.9 272.7,218.9 272.8,218.9 272.9,218.9 273,218.9 273.1,218.9 273.2,218.9 273.3,218.9 273.4,218.9 273.6,218.9 273.7,218.9 273.8,218.9 273.9,218.9 274,218.9 274.1,218.9 274.2,218.9 274.3,218.9 274.4,218.9 274.6,218.9 274.7,218.9 274.8,218.9 274.9,218.9 275,218.9 275.1,218.9 275.2,218.9 275.3,218.9 275.4,218.9 275.6,218.9 275.7,218.9 275.8,218.9 275.9,218.9 276,218.9 276.1,218.9 276.2,218.9 276.3,218.9 276.4,218.9 276.6,218.9 276.7,218.9 276.8,218.9 276.9,218.9 277,218.9 277.1,218.9 277.2,218.9 277.3,218.9 277.4,218.9 277.6,218.9 277.7,218.9 277.8,218.9 277.9,218.9 278,218.9 278.1,218.9 278.2,218.9 278.3,218.9 278.4,218.9 278.5,218.9 278.7,218.9 278.8,218.9 278.9,218.9 279,218.9 279.1,218.9 279.2,218.9 279.3,218.9 279.4,218.9 279.5,218.9 279.7,218.9 279.8,218.9 279.9,218.9 280,218.9 280.1,218.9 280.2,218.9 280.3,218.9 280.4,218.9 280.5,218.9 280.7,218.9 280.8,218.9 280.9,218.9 281,218.9 281.1,218.9 281.2,218.9 281.3,218.9 281.4,218.9 281.5,218.9 281.7,218.9 281.8,218.9 281.9,218.9 282,218.9 282.1,218.9 282.2,218.9 282.3,218.9 282.4,218.9 282.5,218.9 282.7,218.9 282.8,218.9 282.9,218.9 283,218.9 283.1,218.9 283.2,218.9 283.3,218.9 283.4,218.9 283.5,218.9 283.6,218.9 283.8,218.9 283.9,218.9 284,218.9 284.1,218.9 284.2,218.9 284.3,218.9 284.4,218.9 284.5,218.9 284.6,218.9 284.8,218.9 284.9,218.9 285,218.9 285.1,218.9 285.2,218.9 285.3,218.9 285.4,218.9 285.5,218.9 285.6,218.9 285.8,218.9 285.9,218.9 286,218.9 286.1,218.9 286.2,218.9 286.3,218.9 286.4,218.9 286.5,218.9 286.6,218.9 286.8,218.9 286.9,218.9 287,218.9 287.1,218.9 287.2,218.9 287.3,218.9 287.4,218.9 287.5,218.9 287.6,218.9 287.7,218.9 287.9,218.9 288,218.9 288.1,218.9 288.2,218.9 288.3,218.9 288.4,218.9 288.5,218.9 288.6,218.9 288.7,218.9 288.9,218.9 289,218.9 289.1,218.9 289.2,218.9 289.3,218.9 289.4,218.9 289.5,218.9 289.6,218.9 289.7,218.9 289.9,218.9 290,218.9 290.1,218.9 290.2,218.9 290.3,218.9 290.4,218.9 290.5,218.9 290.6,218.9 290.7,218.9 290.9,219 291,219.3 291.1,220.1 291.2,222 291.3,225.7 291.4,232.1 291.5,241.3 291.6,252.3 291.7,262.4 291.9,268.5 292,268.5 292.1,262.4 292.2,252.3 292.3,241.3 292.4,232.1 292.5,225.7 292.6,222 292.7,220.1 292.8,219.3 293,219 293.1,218.9 293.2,218.9 293.3,218.9 293.4,218.9 293.5,218.9 293.6,218.9 293.7,218.9 293.8,218.9 294,218.9 294.1,218.9 294.2,218.9 294.3,218.9 294.4,218.9 294.5,218.9 294.6,218.9 294.7,218.9 294.8,218.9 295,218.9 295.1,218.9 295.2,218.9 295.3,218.9 295.4,218.9 295.5,219 295.6,219.3 295.7,220.3 295.8,222.4 296,224.3 296.1,224.3 296.2,222.4 296.3,220.3 296.4,219.3 296.5,219 296.6,219.3 296.7,220.4 296.8,223.9 297,231.7 297.1,244.3 297.2,258.3 297.3,266.4 297.4,263.5 297.5,251.5 297.6,237.5 297.7,227.2 297.8,222.4 297.9,223.9 298.1,234.2 298.2,247.8 298.3,248 298.4,236 298.5,231.1 298.6,241.1 298.7,256.6 298.8,261 298.9,249 299.1,232.7 299.2,223 299.3,219.7 299.4,219 299.5,218.9 299.6,219.2 299.7,220.7 299.8,225.8 299.9,235.6 300.1,245 300.2,245 300.3,235.6 300.4,225.8 300.5,220.7 300.6,219.2 300.7,218.9 300.8,218.9 300.9,219 301.1,219.5 301.2,221.8 301.3,227.7 301.4,236 301.5,240.2 301.6,236 301.7,227.7 301.8,221.8 301.9,219.5 302.1,219 302.2,218.9 302.3,218.9 302.4,219 302.5,219.6 302.6,221.8 302.7,225.4 302.8,226.5 302.9,223.6 303,220.4 303.2,219.2 303.3,218.9 303.4,218.9 303.5,218.9 303.6,218.9 303.7,218.9 303.8,218.9 303.9,218.9 304,218.9 304.2,218.9 304.3,218.9 304.4,218.9 304.5,218.9 304.6,218.9 304.7,219.3 304.8,221.3 304.9,227.8 305,240.7 305.2,252.8 305.3,252.8 305.4,240.7 305.5,227.8 305.6,221.3 305.7,219.3 305.8,218.9 305.9,218.9 306,218.9 306.2,218.9 306.3,218.9 306.4,218.9 306.5,218.9 306.6,218.9 306.7,218.9 306.8,218.9 306.9,218.9 307,219.1 307.1,220.2 307.3,223 307.4,225.5 307.5,224.5 307.6,221.4 307.7,219.5 307.8,219 307.9,218.9 308,218.9 308.1,218.9 308.3,218.9 308.4,218.9 308.5,218.9 308.6,218.9 308.7,218.9 308.8,218.9 308.9,218.9 309,218.9 309.1,218.9 309.3,218.9 309.4,218.9 309.5,218.9 309.6,218.9 309.7,218.9 309.8,218.9 309.9,218.9 310,218.9 310.1,218.9 310.3,218.9 310.4,219 310.5,219.3 310.6,220.6 310.7,223.7 310.8,229 310.9,234.1 311,235.4 311.1,231.8 311.3,226.2 311.4,221.9 311.5,219.8 311.6,219.1 311.7,218.9 311.8,218.9 311.9,218.9 312,218.9 312.1,218.9 312.2,218.9 312.4,218.9 312.5,218.9 312.6,218.9 312.7,218.9 312.8,218.9 312.9,218.9 313,218.9 313.1,218.9 313.2,218.9 313.4,218.9 313.5,218.9 313.6,218.9 313.7,218.9 313.8,218.9 313.9,218.9 314,218.9 314.1,218.9 314.2,218.9 314.4,218.9 314.5,218.9 314.6,218.9 314.7,218.9 314.8,218.9 314.9,219 315,219.4 315.1,221.1 315.2,226.5 315.4,237.6 315.5,251.9 315.6,261.1 315.7,257.8 315.8,244.8 315.9,231.3 316,223.2 316.1,220 316.2,219.1 316.4,218.9 316.5,218.9 316.6,218.9 316.7,218.9 316.8,218.9 316.9,218.9 317,218.9 317.1,218.9 317.2,218.9 317.3,218.9 317.5,218.9 317.6,218.9 317.7,218.9 317.8,219 317.9,219.4 318,220.6 318.1,222.6 318.2,224 318.3,223.5 318.5,221.5 318.6,219.9 318.7,219.1 318.8,218.9 318.9,218.9 319,218.9 319.1,218.9 319.2,218.9 319.3,218.9 319.5,218.9 319.6,218.9 319.7,218.9 319.8,218.9 319.9,218.9 320,218.9 320.1,218.9 320.2,218.9 320.3,218.9 320.5,218.9 320.6,218.9 320.7,218.9 320.8,218.9 320.9,218.9 321,218.9 321.1,218.9 321.2,218.9 321.3,218.9 321.5,218.9 321.6,218.9 321.7,218.9 321.8,218.9 321.9,218.9 322,218.9 322.1,218.9 322.2,218.9 322.3,219.1 322.4,219.9 322.6,221.9 322.7,225.7 322.8,229.9 322.9,231.9 323,229.9 323.1,225.7 323.2,221.9 323.3,219.9 323.4,219.1 323.6,218.9 323.7,218.9 323.8,218.9 323.9,218.9 324,218.9" stroke="#a448f4" stroke-width="0.9" fill="none"/>
<line x1="227" y1="275.4" x2="227" y2="277.4" stroke="#666" stroke-width="0.7"/>
<text transform="translate(227,283.4) scale(0.85,1)" font-size="6" fill="#333" text-anchor="middle" >4000</text>
<line x1="240.9" y1="275.4" x2="240.9" y2="277.4" stroke="#666" stroke-width="0.7"/>
<text transform="translate(240.9,283.4) scale(0.85,1)" font-size="6" fill="#333" text-anchor="middle" >3500</text>
<line x1="254.7" y1="275.4" x2="254.7" y2="277.4" stroke="#666" stroke-width="0.7"/>
<text transform="translate(254.7,283.4) scale(0.85,1)" font-size="6" fill="#333" text-anchor="middle" >3000</text>
<line x1="268.6" y1="275.4" x2="268.6" y2="277.4" stroke="#666" stroke-width="0.7"/>
<text transform="translate(268.6,283.4) scale(0.85,1)" font-size="6" fill="#333" text-anchor="middle" >2500</text>
<line x1="282.4" y1="275.4" x2="282.4" y2="277.4" stroke="#666" stroke-width="0.7"/>
<text transform="translate(282.4,283.4) scale(0.85,1)" font-size="6" fill="#333" text-anchor="middle" >2000</text>
<line x1="296.3" y1="275.4" x2="296.3" y2="277.4" stroke="#666" stroke-width="0.7"/>
<text transform="translate(296.3,283.4) scale(0.85,1)" font-size="6" fill="#333" text-anchor="middle" >1500</text>
<line x1="310.1" y1="275.4" x2="310.1" y2="277.4" stroke="#666" stroke-width="0.7"/>
<text transform="translate(310.1,283.4) scale(0.85,1)" font-size="6" fill="#333" text-anchor="middle" >1000</text>
<line x1="324" y1="275.4" x2="324" y2="277.4" stroke="#666" stroke-width="0.7"/>
<text transform="translate(324,283.4) scale(0.85,1)" font-size="6" fill="#333" text-anchor="middle" >500</text>
<line x1="227" y1="214.2" x2="228.8" y2="214.2" stroke="#666" stroke-width="0.7"/>
<line x1="227" y1="229.2" x2="228.8" y2="229.2" stroke="#666" stroke-width="0.7"/>
<line x1="227" y1="244.2" x2="228.8" y2="244.2" stroke="#666" stroke-width="0.7"/>
<line x1="227" y1="259.2" x2="228.8" y2="259.2" stroke="#666" stroke-width="0.7"/>
<line x1="227" y1="274.2" x2="228.8" y2="274.2" stroke="#666" stroke-width="0.7"/>
<text transform="translate(274,291.3) scale(0.95,1)" font-size="7.4" fill="#333" text-anchor="middle" >Wavenumber (cm<tspan font-size="4.8" dy="-2.5">-1</tspan><tspan dy="2.5">)</tspan></text>
<text transform="translate(220.3,244) rotate(-90) scale(0.95,1)" font-size="6.4" fill="#333" text-anchor="middle" dominant-baseline="central" >Transmittance (a.u.)</text>
<path d="M399.4,13.2 L577.2,13.2 L577.2,150.8 L399.4,150.8 Z" fill="none" stroke="#444" stroke-width="1.2"/>
<line x1="399.4" y1="36.8" x2="402.2" y2="36.8" stroke="#444" stroke-width="1"/>
<line x1="399.4" y1="59.3" x2="402.2" y2="59.3" stroke="#444" stroke-width="1"/>
<line x1="399.4" y1="82.1" x2="402.2" y2="82.1" stroke="#444" stroke-width="1"/>
<line x1="399.4" y1="104.5" x2="402.2" y2="104.5" stroke="#444" stroke-width="1"/>
<line x1="399.4" y1="127.4" x2="402.2" y2="127.4" stroke="#444" stroke-width="1"/>
<line x1="436.8" y1="150.8" x2="436.8" y2="148.0" stroke="#444" stroke-width="1"/>
<text transform="translate(436.8,164.6) scale(0.9,1)" font-size="10" fill="#222" text-anchor="middle" >960</text>
<line x1="483.6" y1="150.8" x2="483.6" y2="148.0" stroke="#444" stroke-width="1"/>
<text transform="translate(483.6,164.6) scale(0.9,1)" font-size="10" fill="#222" text-anchor="middle" >950</text>
<line x1="530.4" y1="150.8" x2="530.4" y2="148.0" stroke="#444" stroke-width="1"/>
<text transform="translate(530.4,164.6) scale(0.9,1)" font-size="10" fill="#222" text-anchor="middle" >940</text>
<line x1="577.2" y1="150.8" x2="577.2" y2="148.0" stroke="#444" stroke-width="1"/>
<text transform="translate(577.2,164.6) scale(0.9,1)" font-size="10" fill="#222" text-anchor="middle" >930</text>
<text transform="translate(488.3,176.8) scale(0.88,1)" font-size="10.4" fill="#222" text-anchor="middle" >Binding energy (eV)</text>
<text transform="translate(388.3,81.4) rotate(-90) scale(0.97,1)" font-size="10.2" fill="#222" text-anchor="middle" dominant-baseline="central" >Relative Intensity (a.u.)</text>
<line x1="413.4" y1="150.8" x2="413.4" y2="149" stroke="#444" stroke-width="0.9"/>
<line x1="460.2" y1="150.8" x2="460.2" y2="149" stroke="#444" stroke-width="0.9"/>
<line x1="507" y1="150.8" x2="507" y2="149" stroke="#444" stroke-width="0.9"/>
<line x1="553.8" y1="150.8" x2="553.8" y2="149" stroke="#444" stroke-width="0.9"/>
<path d="M476,124.3 L540,128.2" stroke="#c8c49a" stroke-width="0.9" fill="none"/>
<path d="M399.4,118.3 399.8,118.3 400.1,118.3 400.5,118.3 400.9,118.3 401.3,118.3 401.6,118.3 402,118.3 402.4,118.3 402.8,118.4 403.1,118.4 403.5,118.4 403.9,118.4 404.3,118.4 404.6,118.4 405,118.4 405.4,118.5 405.8,118.5 406.1,118.5 406.5,118.5 406.9,118.5 407.3,118.5 407.6,118.6 408,118.6 408.4,118.6 408.8,118.6 409.1,118.7 409.5,118.7 409.9,118.7 410.3,118.7 410.6,118.8 411,118.8 411.4,118.8 411.8,118.8 412.1,118.9 412.5,118.9 412.9,118.9 413.2,118.9 413.6,119 414,119 414.4,119 414.7,119 415.1,119.1 415.5,119.1 415.9,119.1 416.2,119.1 416.6,119.2 417,119.2 417.4,119.2 417.7,119.2 418.1,119.3 418.5,119.3 418.9,119.3 419.2,119.3 419.6,119.4 420,119.4 420.4,119.4 420.7,119.4 421.1,119.4 421.5,119.4 421.9,119.5 422.2,119.5 422.6,119.5 423,119.5 423.4,119.5 423.7,119.5 424.1,119.5 424.5,119.6 424.9,119.6 425.2,119.6 425.6,119.6 426,119.6 426.4,119.6 426.7,119.6 427.1,119.6 427.5,119.6 427.8,119.6 428.2,119.6 428.6,119.6 429,119.6 429.3,119.6 429.7,119.6 430.1,119.6 430.5,119.6 430.8,119.6 431.2,119.7 431.6,119.7 432,119.7 432.3,119.7 432.7,119.7 433.1,119.7 433.5,119.7 433.8,119.7 434.2,119.8 434.6,119.8 435,119.8 435.3,119.8 435.7,119.8 436.1,119.8 436.5,119.9 436.8,119.9 437.2,119.9 437.6,119.9 438,119.9 438.3,120 438.7,120 439.1,120 439.5,120 439.8,120 440.2,120.1 440.6,120.1 440.9,120.1 441.3,120.1 441.7,120.2 442.1,120.2 442.4,120.2 442.8,120.2 443.2,120.3 443.6,120.3 443.9,120.3 444.3,120.3 444.7,120.4 445.1,120.4 445.4,120.4 445.8,120.4 446.2,120.4 446.6,120.5 446.9,120.5 447.3,120.5 447.7,120.5 448.1,120.6 448.4,120.6 448.8,120.6 449.2,120.6 449.6,120.7 449.9,120.7 450.3,120.7 450.7,120.7 451.1,120.7 451.4,120.8 451.8,120.8 452.2,120.8 452.6,120.8 452.9,120.8 453.3,120.8 453.7,120.9 454.1,120.9 454.4,120.9 454.8,120.9 455.2,120.9 455.5,120.9 455.9,120.9 456.3,120.9 456.7,121 457,121 457.4,121 457.8,121 458.2,121 458.5,121 458.9,121 459.3,121 459.7,121 460,121 460.4,121 460.8,121 461.2,121 461.5,121 461.9,121.1 462.3,121.1 462.7,121.1 463,121.2 463.4,121.2 463.8,121.3 464.2,121.4 464.5,121.4 464.9,121.5 465.3,121.6 465.7,121.7 466,121.7 466.4,121.8 466.8,121.9 467.2,122 467.5,122.1 467.9,122.2 468.3,122.3 468.6,122.4 469,122.5 469.4,122.6 469.8,122.6 470.1,122.7 470.5,122.8 470.9,122.9 471.3,123 471.6,123.1 472,123.2 472.4,123.3 472.8,123.4 473.1,123.5 473.5,123.5 473.9,123.6 474.3,123.7 474.6,123.8 475,123.8 475.4,123.9 475.8,124 476.1,124 476.5,124.1 476.9,124.1 477.3,124.1 477.6,124.2 478,124.2 478.4,124.2 478.8,124.2 479.1,124.2 479.5,124.2 479.9,124.2 480.3,124.2 480.6,124.2 481,124.3 481.4,124.3 481.8,124.3 482.1,124.4 482.5,124.4 482.9,124.4 483.2,124.5 483.6,124.5 484,124.6 484.4,124.6 484.7,124.7 485.1,124.7 485.5,124.8 485.9,124.9 486.2,124.9 486.6,125 487,125.1 487.4,125.2 487.7,125.2 488.1,125.3 488.5,125.4 488.9,125.5 489.2,125.5 489.6,125.6 490,125.7 490.4,125.8 490.7,125.9 491.1,126 491.5,126 491.9,126.1 492.2,126.2 492.6,126.3 493,126.4 493.4,126.5 493.7,126.6 494.1,126.7 494.5,126.8 494.9,126.8 495.2,126.9 495.6,127 496,127.1 496.3,127.2 496.7,127.3 497.1,127.3 497.5,127.4 497.8,127.5 498.2,127.6 498.6,127.6 499,127.7 499.3,127.8 499.7,127.9 500.1,127.9 500.5,128 500.8,128.1 501.2,128.1 501.6,128.2 502,128.2 502.3,128.3 502.7,128.3 503.1,128.4 503.5,128.4 503.8,128.4 504.2,128.5 504.6,128.5 505,128.5 505.3,128.6 505.7,128.6 506.1,128.6 506.5,128.6 506.8,128.6 507.2,128.6 507.6,128.6 508,128.6 508.3,128.6 508.7,128.6 509.1,128.6 509.5,128.6 509.8,128.7 510.2,128.7 510.6,128.7 510.9,128.7 511.3,128.7 511.7,128.7 512.1,128.8 512.4,128.8 512.8,128.8 513.2,128.8 513.6,128.9 513.9,128.9 514.3,128.9 514.7,128.9 515.1,129 515.4,129 515.8,129 516.2,129 516.6,129.1 516.9,129.1 517.3,129.1 517.7,129.1 518.1,129.2 518.4,129.2 518.8,129.2 519.2,129.2 519.6,129.3 519.9,129.3 520.3,129.3 520.7,129.3 521.1,129.4 521.4,129.4 521.8,129.4 522.2,129.4 522.6,129.4 522.9,129.4 523.3,129.5 523.7,129.5 524,129.5 524.4,129.5 524.8,129.5 525.2,129.5 525.5,129.5 525.9,129.5 526.3,129.5 526.7,129.5 527,129.5 527.4,129.5 527.8,129.5 528.2,129.5 528.5,129.4 528.9,129.4 529.3,129.4 529.7,129.4 530,129.4 530.4,129.4 530.8,129.4 531.2,129.3 531.5,129.3 531.9,129.3 532.3,129.3 532.7,129.3 533,129.2 533.4,129.2 533.8,129.2 534.2,129.2 534.5,129.2 534.9,129.1 535.3,129.1 535.7,129.1 536,129.1 536.4,129.1 536.8,129.1 537.1,129 537.5,129 537.9,129 538.3,129 538.6,129 539,129 539.4,129 539.8,129 540.1,129 540.5,129 540.9,129 541.3,128.9 541.6,128.9 542,128.9 542.4,128.8 542.8,128.8 543.1,128.8 543.5,128.7 543.9,128.7 544.3,128.6 544.6,128.6 545,128.6 545.4,128.6 545.8,128.5 546.1,128.5 546.5,128.5 546.9,128.5 547.3,128.5 547.6,128.5 548,128.5 548.4,128.5 548.8,128.4 549.1,128.4 549.5,128.4 549.9,128.4 550.3,128.4 550.6,128.3 551,128.3 551.4,128.3 551.7,128.3 552.1,128.2 552.5,128.2 552.9,128.2 553.2,128.2 553.6,128.2 554,128.2 554.4,128.3 554.7,128.5 555.1,128.7 555.5,129 555.9,129.4 556.2,129.7 556.6,130.1 557,130.5 557.4,130.8 557.7,131.2 558.1,131.5 558.5,131.7 558.9,131.9 559.2,132 559.6,132 560,132.1 560.4,132.2 560.7,132.5 561.1,132.7 561.5,133 561.9,133.3 562.2,133.6 562.6,134 563,134.3 563.4,134.6 563.7,134.8 564.1,135.1 564.5,135.2 564.8,135.3 565.2,135.3 565.6,135.3 566,135.3 566.3,135.3 566.7,135.3 567.1,135.3 567.5,135.4 567.8,135.4 568.2,135.4 568.6,135.4 569,135.4 569.3,135.5 569.7,135.5 570.1,135.5 570.5,135.6 570.8,135.6 571.2,135.6 571.6,135.6 572,135.7 572.3,135.7 572.7,135.7 573.1,135.7 573.5,135.8 573.8,135.8 574.2,135.8 574.6,135.8 575,135.8 575.3,135.9 575.7,135.9 576.1,135.9 576.5,135.9 576.8,135.9 577.2,135.9" stroke="#ff1aff" stroke-width="0.9" fill="none"/>
<path d="M505.3,126.6 505.7,126.3 506.1,125.9 506.5,125.6 506.8,125.1 507.2,124.6 507.6,124.1 508,123.5 508.3,122.9 508.7,122.2 509.1,121.5 509.5,120.8 509.8,120 510.2,119.2 510.6,118.4 510.9,117.5 511.3,116.7 511.7,115.8 512.1,115 512.4,114.2 512.8,113.4 513.2,112.7 513.6,112 513.9,111.4 514.3,110.9 514.7,110.4 515.1,110.1 515.4,109.8 515.8,109.6 516.2,109.5 516.6,109.6 516.9,109.7 517.3,109.9 517.7,110.3 518.1,110.7 518.4,111.2 518.8,111.8 519.2,112.4 519.6,113.2 519.9,113.9 520.3,114.7 520.7,115.6 521.1,116.5 521.4,117.3 521.8,118.2 522.2,119.1 522.6,119.9 522.9,120.8 523.3,121.6 523.7,122.3 524,123.1 524.4,123.7 524.8,124.4 525.2,125 525.5,125.5 525.9,126 526.3,126.5 526.7,126.9 527,127.2 527.4,127.5 527.8,127.8 528.2,128 528.5,128.3 528.9,128.4 529.3,128.6 529.7,128.7 530,128.8 530.4,128.9 530.8,129 531.2,129 531.5,129.1 531.9,129.1 532.3,129.1 532.7,129.1 533,129.1 533.4,129.1 533.8,129.1 534.2,129.1 534.5,129.1 534.9,129.1" stroke="#ff1aff" stroke-width="0.9" fill="none"/>
<path d="M515.1,128.4 515.4,128.3 515.8,128.2 516.2,128 516.6,127.9 516.9,127.7 517.3,127.4 517.7,127.2 518.1,126.9 518.4,126.5 518.8,126.1 519.2,125.6 519.6,125.2 519.9,124.6 520.3,124 520.7,123.4 521.1,122.7 521.4,122 521.8,121.2 522.2,120.4 522.6,119.6 522.9,118.8 523.3,117.9 523.7,117.1 524,116.3 524.4,115.4 524.8,114.7 525.2,114 525.5,113.3 525.9,112.7 526.3,112.2 526.7,111.7 527,111.4 527.4,111.1 527.8,111 528.2,111 528.5,111 528.9,111.2 529.3,111.5 529.7,111.8 530,112.3 530.4,112.9 530.8,113.5 531.2,114.1 531.5,114.9 531.9,115.7 532.3,116.5 532.7,117.3 533,118.1 533.4,119 533.8,119.8 534.2,120.6 534.5,121.4 534.9,122.1 535.3,122.8 535.7,123.5 536,124.1 536.4,124.7 536.8,125.2 537.1,125.7 537.5,126.1 537.9,126.5 538.3,126.9 538.6,127.2 539,127.5 539.4,127.7 539.8,127.9 540.1,128.1 540.5,128.2 540.9,128.4 541.3,128.4 541.6,128.5" stroke="#ff1aff" stroke-width="0.9" fill="none"/>
<path d="M399.4,118.4 399.8,118.6 400.1,118.5 400.5,118.5 400.9,118.4 401.3,118.4 401.6,118.5 402,118.3 402.4,118.2 402.8,118.1 403.1,118 403.5,118 403.9,118.3 404.3,118.5 404.6,118.6 405,118.7 405.4,118.5 405.8,118.5 406.1,118.2 406.5,118.1 406.9,118.2 407.3,118.1 407.6,118 408,118.1 408.4,117.9 408.8,117.8 409.1,117.8 409.5,117.6 409.9,117.4 410.3,117.5 410.6,117.3 411,117.4 411.4,117.4 411.8,117.6 412.1,117.5 412.5,117.6 412.9,117.5 413.2,117 413.6,116.9 414,116.5 414.4,116.4 414.7,115.9 415.1,115.6 415.5,115.3 415.9,114.9 416.2,114.8 416.6,114.3 417,113.7 417.4,113.2 417.7,112.7 418.1,112.1 418.5,111.9 418.9,111.3 419.2,111 419.6,110.7 420,110.1 420.4,109.7 420.7,109.5 421.1,109.6 421.5,109.5 421.9,109.1 422.2,108.5 422.6,107.9 423,107.1 423.4,106.8 423.7,106.1 424.1,106 424.5,105.9 424.9,106.1 425.2,105.9 425.6,106 426,105.7 426.4,105.5 426.7,105.1 427.1,104.8 427.5,104.7 427.8,104.9 428.2,104.8 428.6,104.9 429,105.1 429.3,105.5 429.7,105.7 430.1,106 430.5,106.4 430.8,107 431.2,107.3 431.6,107.9 432,108.5 432.3,109 432.7,109.5 433.1,110.3 433.5,110.6 433.8,110.8 434.2,111.2 434.6,111.4 435,111.9 435.3,112.5 435.7,113.1 436.1,113.7 436.5,114.5 436.8,114.9 437.2,115.3 437.6,115.3 438,115.5 438.3,115.8 438.7,115.9 439.1,116.3 439.5,116.5 439.8,116.9 440.2,117.2 440.6,117.3 440.9,117.6 441.3,117.6 441.7,117.9 442.1,117.9 442.4,118.1 442.8,118.3 443.2,118.4 443.6,118.7 443.9,118.9 444.3,118.9 444.7,119.1 445.1,119.3 445.4,119.4 445.8,119.7 446.2,119.8 446.6,119.6 446.9,119.7 447.3,119.5 447.7,119.5 448.1,119.6 448.4,119.7 448.8,119.7 449.2,120 449.6,120.1 449.9,120.3 450.3,120.2 450.7,120.3 451.1,120.2 451.4,120.1 451.8,120 452.2,120 452.6,120 452.9,120.2 453.3,120.2 453.7,120.2 454.1,120.3 454.4,119.8 454.8,119.9 455.2,119.6 455.5,119.5 455.9,119.2 456.3,119.1 456.7,119 457,118.8 457.4,118.8 457.8,118.4 458.2,117.9 458.5,117.5 458.9,116.7 459.3,116 459.7,115.2 460,114.3 460.4,113.4 460.8,112.1 461.2,110.3 461.5,108.6 461.9,106.5 462.3,104.2 462.7,102.1 463,99.5 463.4,97.1 463.8,94.6 464.2,92 464.5,90 464.9,88.4 465.3,87.7 465.7,87.9 466,88.4 466.4,89.7 466.8,91.3 467.2,93.1 467.5,95.2 467.9,97.7 468.3,100 468.6,102.3 469,104.8 469.4,107.4 469.8,109.6 470.1,111.7 470.5,113.5 470.9,115.1 471.3,116.7 471.6,117.8 472,118.7 472.4,119.8 472.8,120.3 473.1,120.8 473.5,121.3 473.9,121.6 474.3,121.9 474.6,122.2 475,122.5 475.4,123 475.8,123.1 476.1,123.3 476.5,123.6 476.9,123.7 477.3,124.1 477.6,124.1 478,124.3 478.4,124.3 478.8,124.2 479.1,124.1 479.5,124.1 479.9,124.1 480.3,124 480.6,124.4 481,124.6 481.4,125 481.8,125.1 482.1,125.1 482.5,125.3 482.9,125.3 483.2,125.5 483.6,125.7 484,125.8 484.4,126.2 484.7,126.5 485.1,127 485.5,127.2 485.9,127.2 486.2,127.2 486.6,126.9 487,126.9 487.4,126.8 487.7,127.1 488.1,127 488.5,127.2 488.9,127.1 489.2,127.1 489.6,127.1 490,127 490.4,127 490.7,127.2 491.1,127.2 491.5,127.3 491.9,127.5 492.2,127.5 492.6,127.8 493,127.9 493.4,128.1 493.7,128.1 494.1,128.3 494.5,128.5 494.9,128.7 495.2,128.9 495.6,129.3 496,129.3 496.3,129.5 496.7,129.6 497.1,129.6 497.5,129.5 497.8,129.5 498.2,129.4 498.6,129.5 499,129.3 499.3,129.6 499.7,129.8 500.1,129.7 500.5,129.9 500.8,129.9 501.2,129.9 501.6,129.6 502,129.6 502.3,129.5 502.7,129.3 503.1,128.9 503.5,128.7 503.8,128.4 504.2,128.1 504.6,127.9 505,127.9 505.3,127.8 505.7,127.5 506.1,127.2 506.5,126.8 506.8,126.5 507.2,126.1 507.6,125.5 508,125.1 508.3,124.4 508.7,123.7 509.1,122.8 509.5,122.1 509.8,121.2 510.2,120.4 510.6,119.4 510.9,118.6 511.3,117.7 511.7,116.7 512.1,115.8 512.4,114.9 512.8,114.2 513.2,113.5 513.6,112.6 513.9,112 514.3,111.3 514.7,110.8 515.1,110.3 515.4,109.8 515.8,109.6 516.2,109.5 516.6,109.4 516.9,109.3 517.3,109.2 517.7,109.1 518.1,109 518.4,109.1 518.8,109.1 519.2,109.2 519.6,109.1 519.9,109.2 520.3,109.4 520.7,109.4 521.1,109.7 521.4,109.5 521.8,109.5 522.2,109.6 522.6,109.7 522.9,109.4 523.3,109.4 523.7,109.2 524,109 524.4,108.8 524.8,108.7 525.2,108.6 525.5,108.5 525.9,108.6 526.3,108.7 526.7,108.5 527,108.6 527.4,108.4 527.8,108.5 528.2,108.6 528.5,108.9 528.9,109.2 529.3,109.5 529.7,110.3 530,110.9 530.4,111.6 530.8,112.2 531.2,113.1 531.5,113.7 531.9,114.4 532.3,115.2 532.7,116 533,116.9 533.4,117.5 533.8,118.2 534.2,119 534.5,119.9 534.9,120.4 535.3,121.1 535.7,121.8 536,122.2 536.4,123.1 536.8,123.7 537.1,124.1 537.5,124.6 537.9,125.2 538.3,125.4 538.6,125.8 539,125.9 539.4,126.3 539.8,126.4 540.1,126.6 540.5,126.7 540.9,126.7 541.3,126.6 541.6,126.7 542,126.7 542.4,126.9 542.8,126.9 543.1,126.7 543.5,126.9 543.9,126.7 544.3,126.6 544.6,126.5 545,126.6 545.4,126.6 545.8,126.4 546.1,126.6 546.5,126.6 546.9,126.7 547.3,126.7 547.6,126.4 548,125.7 548.4,125.4 548.8,124.7 549.1,124.2 549.5,123.8 549.9,123 550.3,121.8 550.6,120.7 551,119.5 551.4,117.9 551.7,116.1 552.1,113.9 552.5,111.5 552.9,108.5 553.2,105.3 553.6,101.8 554,98 554.4,93.7 554.7,88.8 555.1,83.5 555.5,78 555.9,72.1 556.2,66.5 556.6,61.2 557,55.9 557.4,51.3 557.7,47.2 558.1,44.2 558.5,42.2 558.9,41.3 559.2,41.9 559.6,43.5 560,46.2 560.4,50 560.7,54.6 561.1,59.8 561.5,65.5 561.9,71.7 562.2,77.3 562.6,83 563,88.6 563.4,94 563.7,98.6 564.1,103.2 564.5,107.3 564.8,111.2 565.2,114.5 565.6,117.4 566,120.1 566.3,122.1 566.7,123.6 567.1,125.1 567.5,126.2 567.8,127 568.2,128 568.6,128.8 569,129.3 569.3,129.9 569.7,130.4 570.1,130.7 570.5,130.9 570.8,131.1 571.2,131 571.6,131.1 572,131.5 572.3,132 572.7,132.1 573.1,132.6 573.5,133 573.8,133.2 574.2,133.4 574.6,133.8 575,134.1 575.3,134.3 575.7,134.2 576.1,134.5 576.5,134.5 576.8,134.6 577.2,134.7" stroke="#1e1e1e" stroke-width="1.05" fill="none"/>
<path d="M452.2,120.1 452.6,120.1 452.9,120.1 453.3,120 453.7,120 454.1,119.9 454.4,119.9 454.8,119.8 455.2,119.7 455.5,119.6 455.9,119.5 456.3,119.4 456.7,119.2 457,119 457.4,118.8 457.8,118.5 458.2,118.2 458.5,117.7 458.9,117.1 459.3,116.4 459.7,115.6 460,114.5 460.4,113.3 460.8,111.9 461.2,110.2 461.5,108.3 461.9,106.3 462.3,104.1 462.7,101.7 463,99.3 463.4,96.9 463.8,94.5 464.2,92.4 464.5,90.6 464.9,89.2 465.3,88.4 465.7,88.2 466,88.6 466.4,89.6 466.8,91.1 467.2,93.1 467.5,95.3 467.9,97.7 468.3,100.3 468.6,102.8 469,105.2 469.4,107.5 469.8,109.7 470.1,111.6 470.5,113.4 470.9,114.9 471.3,116.3 471.6,117.5 472,118.5 472.4,119.3 472.8,120 473.1,120.7 473.5,121.2 473.9,121.6 474.3,122 474.6,122.4 475,122.7 475.4,122.9 475.8,123.2 476.1,123.4 476.5,123.6 476.9,123.7 477.3,123.9 477.6,124 478,124.1 478.4,124.2 478.8,124.3 479.1,124.3 479.5,124.4 479.9,124.4" stroke="#d23a3a" stroke-width="1.1" fill="none"/>
<path d="M549.1,124.4 549.5,123.9 549.9,123.2 550.3,122.3 550.6,121.3 551,120 551.4,118.5 551.7,116.7 552.1,114.6 552.5,112 552.9,109.1 553.2,105.8 553.6,102.1 554,97.9 554.4,93.3 554.7,88.4 555.1,83.2 555.5,77.8 555.9,72.2 556.2,66.7 556.6,61.3 557,56.2 557.4,51.6 557.7,47.7 558.1,44.7 558.5,42.7 558.9,42 559.2,42.4 559.6,44.1 560,46.9 560.4,50.7 560.7,55.2 561.1,60.3 561.5,65.9 561.9,71.6 562.2,77.5 562.6,83.2 563,88.7 563.4,94 563.7,98.9 564.1,103.4 564.5,107.5 564.8,111.1 565.2,114.4 565.6,117.2 566,119.6 566.3,121.7 566.7,123.4 567.1,124.8 567.5,126 567.8,127 568.2,127.8 568.6,128.5 569,129 569.3,129.5 569.7,130 570.1,130.4 570.5,130.7 570.8,131 571.2,131.4 571.6,131.6 572,131.9 572.3,132.2 572.7,132.4 573.1,132.6 573.5,132.9 573.8,133.1" stroke="#3030a8" stroke-width="1.2" fill="none"/>
<text transform="translate(402.8,26.6) scale(0.9,1)" font-size="10" fill="#222" text-anchor="start" >1:2 CuCl<tspan font-size="9.2" dy="2.8">2</tspan><tspan dy="-2.8"> / ICA</tspan></text>
<text transform="translate(574.6,25.6) scale(0.9,1)" font-size="10" fill="#222" text-anchor="end" >Cu2p</text>
<text transform="translate(539.5,36.2) scale(0.88,1)" font-size="9.7" fill="#ff1aff" text-anchor="start" stroke="#ff1aff" stroke-width="0.18">Cu 2p<tspan font-size="9" dy="2.0" dx="-0.5">3/2</tspan></text>
<text transform="translate(447,80.7) scale(0.88,1)" font-size="9.7" fill="#ff1aff" text-anchor="start" stroke="#ff1aff" stroke-width="0.18">Cu 2p<tspan font-size="9" dy="2.0" dx="-0.5">1/2</tspan></text>
<text transform="translate(426,100.1) scale(0.93,1)" font-size="8.4" fill="#ff1aff" text-anchor="middle" stroke="#ff1aff" stroke-width="0.18">Satellite</text>
<text transform="translate(522.5,105.1) scale(0.93,1)" font-size="8.4" fill="#ff1aff" text-anchor="middle" stroke="#ff1aff" stroke-width="0.18">Satellite</text>
<path d="M601.7,13.2 L779.6,13.2 L779.6,150.5 L601.7,150.5 Z" fill="none" stroke="#444" stroke-width="1.2"/>
<line x1="601.7" y1="17.6" x2="604.5" y2="17.6" stroke="#444" stroke-width="1"/>
<line x1="601.7" y1="35.3" x2="604.5" y2="35.3" stroke="#444" stroke-width="1"/>
<line x1="601.7" y1="53" x2="604.5" y2="53" stroke="#444" stroke-width="1"/>
<line x1="601.7" y1="70.8" x2="604.5" y2="70.8" stroke="#444" stroke-width="1"/>
<line x1="601.7" y1="88.5" x2="604.5" y2="88.5" stroke="#444" stroke-width="1"/>
<line x1="601.7" y1="106.2" x2="604.5" y2="106.2" stroke="#444" stroke-width="1"/>
<line x1="601.7" y1="124" x2="604.5" y2="124" stroke="#444" stroke-width="1"/>
<line x1="601.7" y1="141.7" x2="604.5" y2="141.7" stroke="#444" stroke-width="1"/>
<line x1="601.7" y1="150.5" x2="601.7" y2="147.7" stroke="#444" stroke-width="1"/>
<text transform="translate(601.7,164.6) scale(0.9,1)" font-size="10" fill="#222" text-anchor="middle" >540</text>
<line x1="637.3" y1="150.5" x2="637.3" y2="147.7" stroke="#444" stroke-width="1"/>
<text transform="translate(637.3,164.6) scale(0.9,1)" font-size="10" fill="#222" text-anchor="middle" >537</text>
<line x1="672.9" y1="150.5" x2="672.9" y2="147.7" stroke="#444" stroke-width="1"/>
<text transform="translate(672.9,164.6) scale(0.9,1)" font-size="10" fill="#222" text-anchor="middle" >534</text>
<line x1="708.4" y1="150.5" x2="708.4" y2="147.7" stroke="#444" stroke-width="1"/>
<text transform="translate(708.4,164.6) scale(0.9,1)" font-size="10" fill="#222" text-anchor="middle" >531</text>
<line x1="744" y1="150.5" x2="744" y2="147.7" stroke="#444" stroke-width="1"/>
<text transform="translate(744,164.6) scale(0.9,1)" font-size="10" fill="#222" text-anchor="middle" >528</text>
<line x1="779.6" y1="150.5" x2="779.6" y2="147.7" stroke="#444" stroke-width="1"/>
<text transform="translate(779.6,164.6) scale(0.9,1)" font-size="10" fill="#222" text-anchor="middle" >525</text>
<text transform="translate(690.7,176.8) scale(0.88,1)" font-size="10.4" fill="#222" text-anchor="middle" >Binding energy (eV)</text>
<text transform="translate(587.5,81.2) rotate(-90) scale(0.97,1)" font-size="10.2" fill="#222" text-anchor="middle" dominant-baseline="central" >Relative Intensity (a.u.)</text>
<path d="M601.7,134 602.2,134 602.6,134 603.1,134 603.6,134 604.1,134 604.5,134 605,134 605.5,134 606,134 606.4,134 606.9,134 607.4,134 607.9,134 608.3,134 608.8,134 609.3,134 609.8,134 610.2,134 610.7,134 611.2,134 611.7,134 612.1,134 612.6,134 613.1,134 613.6,134 614,134 614.5,134 615,134 615.5,134 615.9,134 616.4,134 616.9,134 617.4,134 617.8,134 618.3,134 618.8,134 619.3,134 619.7,134 620.2,134 620.7,134 621.2,134 621.6,134 622.1,134 622.6,134 623,134 623.5,134 624,134 624.5,134.1 624.9,134.1 625.4,134.1 625.9,134.1 626.4,134.1 626.8,134.1 627.3,134.1 627.8,134.1 628.3,134.1 628.7,134.1 629.2,134.1 629.7,134.1 630.2,134.1 630.6,134.1 631.1,134.1 631.6,134.1 632.1,134.1 632.5,134.1 633,134.1 633.5,134.1 634,134.1 634.4,134.1 634.9,134.1 635.4,134.1 635.9,134.1 636.3,134.1 636.8,134.1 637.3,134.1 637.8,134.1 638.2,134.1 638.7,134.1 639.2,134.1 639.7,134.1 640.1,134.1 640.6,134.1 641.1,134.1 641.5,134.1 642,134.1 642.5,134.1 643,134.1 643.4,134.1 643.9,134.1 644.4,134.1 644.9,134.1 645.3,134.1 645.8,134.2 646.3,134.2 646.8,134.2 647.2,134.2 647.7,134.2 648.2,134.2 648.7,134.2 649.1,134.2 649.6,134.2 650.1,134.2 650.6,134.2 651,134.2 651.5,134.2 652,134.2 652.5,134.2 652.9,134.2 653.4,134.2 653.9,134.2 654.4,134.2 654.8,134.2 655.3,134.2 655.8,134.3 656.3,134.3 656.7,134.3 657.2,134.3 657.7,134.3 658.2,134.3 658.6,134.3 659.1,134.3 659.6,134.3 660.1,134.3 660.5,134.3 661,134.3 661.5,134.3 661.9,134.3 662.4,134.4 662.9,134.4 663.4,134.4 663.8,134.4 664.3,134.4 664.8,134.4 665.3,134.4 665.7,134.4 666.2,134.4 666.7,134.4 667.2,134.4 667.6,134.5 668.1,134.5 668.6,134.5 669.1,134.5 669.5,134.5 670,134.5 670.5,134.5 671,134.5 671.4,134.5 671.9,134.6 672.4,134.6 672.9,134.6 673.3,134.6 673.8,134.6 674.3,134.6 674.8,134.6 675.2,134.7 675.7,134.7 676.2,134.7 676.7,134.7 677.1,134.7 677.6,134.7 678.1,134.7 678.6,134.8 679,134.8 679.5,134.8 680,134.8 680.5,134.8 680.9,134.8 681.4,134.9 681.9,134.9 682.3,134.9 682.8,134.9 683.3,134.9 683.8,135 684.2,135 684.7,135 685.2,135 685.7,135 686.1,135.1 686.6,135.1 687.1,135.1 687.6,135.1 688,135.2 688.5,135.2 689,135.2 689.5,135.2 689.9,135.3 690.4,135.3 690.9,135.3 691.4,135.3 691.8,135.4 692.3,135.4 692.8,135.4 693.3,135.4 693.7,135.5 694.2,135.5 694.7,135.5 695.2,135.5 695.6,135.6 696.1,135.6 696.6,135.6 697.1,135.7 697.5,135.7 698,135.7 698.5,135.8 699,135.8 699.4,135.8 699.9,135.8" stroke="#6a6ac0" stroke-width="0.9" fill="none"/>
<path d="M690.4,135.3 690.9,135.3 691.4,135.3 691.8,135.4 692.3,135.4 692.8,135.4 693.3,135.4 693.7,135.5 694.2,135.5 694.7,135.5 695.2,135.5 695.6,135.6 696.1,135.6 696.6,135.6 697.1,135.7 697.5,135.7 698,135.7 698.5,135.8 699,135.8 699.4,135.8 699.9,135.8 700.4,135.9 700.8,135.9 701.3,135.9 701.8,136 702.3,136 702.7,136 703.2,136.1 703.7,136.1 704.2,136.1 704.6,136.2 705.1,136.2 705.6,136.2 706.1,136.3 706.5,136.3 707,136.3 707.5,136.4 708,136.4 708.4,136.5 708.9,136.5 709.4,136.5 709.9,136.6 710.3,136.6 710.8,136.6 711.3,136.7 711.8,136.7 712.2,136.7 712.7,136.8 713.2,136.8 713.7,136.8 714.1,136.9 714.6,136.9 715.1,137 715.6,137 716,137 716.5,137.1 717,137.1 717.5,137.1 717.9,137.2 718.4,137.2 718.9,137.2 719.4,137.3 719.8,137.3 720.3,137.3 720.8,137.4 721.2,137.4 721.7,137.5 722.2,137.5 722.7,137.5 723.1,137.6 723.6,137.6 724.1,137.6 724.6,137.7 725,137.7 725.5,137.7 726,137.8 726.5,137.8 726.9,137.8 727.4,137.9 727.9,137.9 728.4,137.9 728.8,138 729.3,138 729.8,138 730.3,138 730.7,138.1 731.2,138.1 731.7,138.1 732.2,138.2 732.6,138.2 733.1,138.2 733.6,138.3 734.1,138.3 734.5,138.3 735,138.3 735.5,138.4 736,138.4 736.4,138.4 736.9,138.4 737.4,138.5 737.9,138.5 738.3,138.5 738.8,138.5 739.3,138.6 739.8,138.6 740.2,138.6 740.7,138.6 741.2,138.7 741.6,138.7 742.1,138.7 742.6,138.7 743.1,138.8 743.5,138.8 744,138.8 744.5,138.8 745,138.8 745.4,138.9 745.9,138.9 746.4,138.9 746.9,138.9 747.3,138.9 747.8,139 748.3,139 748.8,139 749.2,139 749.7,139 750.2,139 750.7,139.1 751.1,139.1 751.6,139.1 752.1,139.1 752.6,139.1 753,139.1 753.5,139.1 754,139.2 754.5,139.2 754.9,139.2 755.4,139.2 755.9,139.2 756.4,139.2 756.8,139.2 757.3,139.3 757.8,139.3 758.3,139.3 758.7,139.3 759.2,139.3 759.7,139.3 760.1,139.3 760.6,139.3 761.1,139.3 761.6,139.4 762,139.4 762.5,139.4 763,139.4 763.5,139.4 763.9,139.4 764.4,139.4 764.9,139.4 765.4,139.4 765.8,139.4 766.3,139.4 766.8,139.5 767.3,139.5 767.7,139.5 768.2,139.5 768.7,139.5 769.2,139.5 769.6,139.5 770.1,139.5 770.6,139.5 771.1,139.5 771.5,139.5 772,139.5 772.5,139.5 773,139.5 773.4,139.6 773.9,139.6 774.4,139.6 774.9,139.6 775.3,139.6 775.8,139.6 776.3,139.6 776.8,139.6 777.2,139.6 777.7,139.6 778.2,139.6 778.7,139.6 779.1,139.6 779.6,139.6" stroke="#f06060" stroke-width="0.9" fill="none"/>
<path d="M650.1,128.7 650.6,128.7 651,128.3 651.5,127.3 652,126.9 652.5,125.8 652.9,125.4 653.4,124.6 653.9,123.7 654.4,123.1 654.8,122 655.3,121.3 655.8,120.3 656.3,119.5 656.7,118.5 657.2,117.6 657.7,116.5 658.2,115.4 658.6,114.6 659.1,113.7 659.6,113.1 660.1,112.8 660.5,111.9 661,111 661.5,110.5 661.9,109.6 662.4,108.7 662.9,108 663.4,107.6 663.8,107 664.3,106.6 664.8,106.3 665.3,105.7 665.7,105.4 666.2,105.3 666.7,104.9 667.2,104.8 667.6,104.6 668.1,104.6 668.6,105 669.1,105 669.5,105.6 670,105.8 670.5,106.4 671,106.7 671.4,107.5 671.9,108 672.4,108.5 672.9,109.2 673.3,109.9 673.8,110.9 674.3,111.4 674.8,112.3 675.2,113.1 675.7,113.8 676.2,114.5 676.7,115.6 677.1,116.1 677.6,117 678.1,118.1 678.6,119.1 679,120 679.5,120.7 680,121.9 680.5,122.5 680.9,123.5 681.4,124.4 681.9,125 682.3,125.5 682.8,126.2 683.3,126.5 683.8,127.4 684.2,128.3 684.7,129.1 685.2,129.7 685.7,130.1 686.1,130.1 686.6,130.3 687.1,130.5 687.6,130.6 688,131.3 688.5,131.6 689,132 689.5,131.6 689.9,131.5 690.4,131.2 690.9,130.9 691.4,131 691.8,130.3 692.3,130 692.8,129.5 693.3,128.9 693.7,127.7 694.2,126.7 694.7,125.9 695.2,125.1 695.6,124.2 696.1,123.5 696.6,122.4 697.1,120.7 697.5,119.3 698,117.5 698.5,116 699,114 699.4,111.6 699.9,109.5 700.4,107.2 700.8,104.4 701.3,101.7 701.8,98.5 702.3,95.4 702.7,92.5 703.2,89.1 703.7,85.9 704.2,82.6 704.6,79.4 705.1,75.8 705.6,72.4 706.1,68.9 706.5,65.5 707,61.9 707.5,58.3 708,54.9 708.4,52.4 708.9,49.7 709.4,47.8 709.9,45.3 710.3,43 710.8,40.9 711.3,39 711.8,37 712.2,35.9 712.7,35.2 713.2,34.5 713.7,34.1 714.1,34.4 714.6,34.9 715.1,35.8 715.6,37.4 716,38.5 716.5,40.1 717,41.5 717.5,43.6 717.9,46.2 718.4,48.8 718.9,52.1 719.4,55 719.8,58.2 720.3,61.6 720.8,64.9 721.2,68.2 721.7,71.9 722.2,75.3 722.7,78.9 723.1,82.4 723.6,86 724.1,89.5 724.6,92.9 725,96.1 725.5,99.1 726,101.6 726.5,104.6 726.9,107 727.4,109.5 727.9,111.7 728.4,113.8 728.8,115.9 729.3,117.9 729.8,119.9 730.3,121.5 730.7,123.2 731.2,124.7 731.7,126.6 732.2,128.5 732.6,129.6 733.1,130.6 733.6,130.8 734.1,131.3 734.5,131.7 735,132.6 735.5,133.4 736,134.1 736.4,134.8 736.9,135.3 737.4,135.5 737.9,135.9 738.3,136.3 738.8,136.7 739.3,136.6 739.8,136.9 740.2,136.8 740.7,137.1 741.2,137.1 741.6,137.7 742.1,137.6 742.6,137.8 743.1,138.3 743.5,138.7 744,138.6 744.5,138.9 745,138.5 745.4,138.7 745.9,138.8" stroke="#1e1e1e" stroke-width="1" fill="none"/>
<path d="M652.5,125.8 652.9,125.1 653.4,124.4 653.9,123.7 654.4,122.9 654.8,122.1 655.3,121.3 655.8,120.5 656.3,119.6 656.7,118.8 657.2,117.9 657.7,117 658.2,116.1 658.6,115.2 659.1,114.3 659.6,113.5 660.1,112.6 660.5,111.8 661,111 661.5,110.2 661.9,109.4 662.4,108.7 662.9,108.1 663.4,107.5 663.8,106.9 664.3,106.4 664.8,106 665.3,105.6 665.7,105.3 666.2,105.1 666.7,104.9 667.2,104.9 667.6,104.9 668.1,104.9 668.6,105.1 669.1,105.3 669.5,105.6 670,105.9 670.5,106.3 671,106.8 671.4,107.4 671.9,108 672.4,108.6 672.9,109.3 673.3,110.1 673.8,110.8 674.3,111.7 674.8,112.5 675.2,113.4 675.7,114.3 676.2,115.2 676.7,116.1 677.1,117 677.6,117.9 678.1,118.8 678.6,119.7 679,120.6 679.5,121.5 680,122.3 680.5,123.1 680.9,123.9 681.4,124.7 681.9,125.5 682.3,126.2 682.8,126.9 683.3,127.5 683.8,128.1 684.2,128.7 684.7,129.3 685.2,129.8 685.7,130.3 686.1,130.8 686.6,131.2 687.1,131.6 687.6,132 688,132.3 688.5,132.6 689,132.9 689.5,133.2 689.9,133.4" stroke="#d23a3a" stroke-width="1.1" fill="none"/>
<path d="M601.7,133 602.2,133.2 602.6,133.6 603.1,134 603.6,134.1 604.1,134.2 604.5,134.3 605,134.4 605.5,134.5 606,134.4 606.4,134.6 606.9,134.8 607.4,134.8 607.9,134.5 608.3,134.2 608.8,133.5 609.3,133.3 609.8,133.4 610.2,133.3 610.7,133.1 611.2,133.2 611.7,133.3 612.1,133.6 612.6,134.1 613.1,134.1 613.6,133.8 614,133.8 614.5,133.4 615,133.4 615.5,133.9 615.9,134 616.4,134.6 616.9,134.7 617.4,134.7 617.8,134.7 618.3,134.6 618.8,134.2 619.3,134.2 619.7,134.2 620.2,133.6 620.7,133.6 621.2,133.8 621.6,133.8 622.1,134.2 622.6,134.4 623,134.4 623.5,134.5 624,134.6 624.5,134.8 624.9,134.5 625.4,134 625.9,133.6 626.4,133.2 626.8,133.3 627.3,133.6 627.8,133.8 628.3,133.7 628.7,133.9 629.2,133.9 629.7,134 630.2,134.2 630.6,133.9 631.1,134.1 631.6,134.3 632.1,134.1 632.5,134.3 633,134.5 633.5,134.3 634,134.2 634.4,134.6 634.9,134.5 635.4,134.4 635.9,134.6 636.3,134.7 636.8,134.6 637.3,134.6 637.8,134.6 638.2,134.1 638.7,134.2 639.2,133.9 639.7,133.8 640.1,133.5 640.6,133.3 641.1,133.2 641.5,132.8 642,132.8 642.5,132.4 643,132.5 643.4,132.3 643.9,132.2 644.4,132.6 644.9,132.8 645.3,132.7 645.8,132.6 646.3,132.2 646.8,131.7 647.2,131.4 647.7,130.9 648.2,130.4 648.7,130 649.1,129.1 649.6,128.8 650.1,128.7 650.6,128.7 651,128.3 651.5,127.3 652,126.9" stroke="#d43c3c" stroke-width="1" fill="none"/>
<path d="M744,138.6 744.5,138.9 745,138.5 745.4,138.7 745.9,138.8 746.4,138.7 746.9,138.4 747.3,138.8 747.8,138.6 748.3,138.5 748.8,139 749.2,139 749.7,139.3 750.2,139.3 750.7,138.9 751.1,139.2 751.6,139.2 752.1,139 752.6,138.9 753,138.8 753.5,138.7 754,138.8 754.5,138.3 754.9,138.2 755.4,138.3 755.9,138.5 756.4,138.8 756.8,139.2 757.3,139.8 757.8,139.5 758.3,139.3 758.7,138.7 759.2,138.7 759.7,138.9 760.1,138.7 760.6,139.1 761.1,138.8 761.6,139 762,139 762.5,139.2 763,139.1 763.5,139.4 763.9,139.5 764.4,140 764.9,140.1 765.4,139.7 765.8,139.3 766.3,138.7 766.8,138.4 767.3,138.6 767.7,138.8 768.2,139 768.7,139.1 769.2,139.2 769.6,139 770.1,139.2 770.6,139.4 771.1,139.1 771.5,139.3 772,139.2 772.5,139.5 773,139.3 773.4,139.1 773.9,138.9 774.4,139 774.9,139.3 775.3,139.5 775.8,139.9 776.3,140.2 776.8,140.1 777.2,139.8 777.7,139.7 778.2,139.7 778.7,139.3 779.1,139.2 779.6,139.3" stroke="#d23a3a" stroke-width="1" fill="none"/>
<path d="M692.3,130.7 692.8,130.1 693.3,129.5 693.7,128.7 694.2,127.9 694.7,127 695.2,126 695.6,124.8 696.1,123.6 696.6,122.3 697.1,120.8 697.5,119.2 698,117.4 698.5,115.5 699,113.5 699.4,111.4 699.9,109.1 700.4,106.6 700.8,104 701.3,101.3 701.8,98.5 702.3,95.5 702.7,92.5 703.2,89.3 703.7,86 704.2,82.7 704.6,79.3 705.1,75.9 705.6,72.5 706.1,69 706.5,65.6 707,62.3 707.5,59 708,55.9 708.4,52.8 708.9,49.9 709.4,47.2 709.9,44.7 710.3,42.4 710.8,40.4 711.3,38.6 711.8,37.2 712.2,36 712.7,35.1 713.2,34.6 713.7,34.4 714.1,34.5 714.6,34.9 715.1,35.7 715.6,36.8 716,38.2 716.5,39.9 717,41.9 717.5,44.1 717.9,46.6 718.4,49.3 718.9,52.1 719.4,55.2 719.8,58.3 720.3,61.6 720.8,65 721.2,68.5 721.7,71.9 722.2,75.5 722.7,78.9 723.1,82.4 723.6,85.8 724.1,89.2 724.6,92.5 725,95.7 725.5,98.8 726,101.7 726.5,104.6 726.9,107.3 727.4,109.9 727.9,112.3 728.4,114.6 728.8,116.7 729.3,118.8 729.8,120.6 730.3,122.4 730.7,124 731.2,125.4 731.7,126.8 732.2,128 732.6,129.2 733.1,130.2 733.6,131.1 734.1,131.9 734.5,132.7 735,133.4 735.5,134 736,134.5 736.4,135 736.9,135.4 737.4,135.8 737.9,136.1 738.3,136.4 738.8,136.7 739.3,136.9 739.8,137.1 740.2,137.3 740.7,137.4 741.2,137.6 741.6,137.7 742.1,137.8 742.6,137.9 743.1,138 743.5,138.1" stroke="#3030a8" stroke-width="1.2" fill="none"/>
<text transform="translate(606.3,26.6) scale(0.9,1)" font-size="10" fill="#222" text-anchor="start" >1:2 CuCl<tspan font-size="9.2" dy="2.8">2</tspan><tspan dy="-2.8"> / ICA</tspan></text>
<text transform="translate(774.8,24.9) scale(0.9,1)" font-size="10" fill="#222" text-anchor="end" >O1s</text>
<text x="714.4" y="30.2" font-size="8.6" fill="#ff1aff" text-anchor="middle" stroke="#ff1aff" stroke-width="0.15">C=O</text>
<text x="668.3" y="101.5" font-size="8.6" fill="#ff1aff" text-anchor="middle" stroke="#ff1aff" stroke-width="0.15">C-O</text>
<path d="M399.4,180.6 L577,180.6 L577,318.6 L399.4,318.6 Z" fill="none" stroke="#444" stroke-width="1.2"/>
<line x1="399.4" y1="204.3" x2="402.2" y2="204.3" stroke="#444" stroke-width="1"/>
<line x1="399.4" y1="226.9" x2="402.2" y2="226.9" stroke="#444" stroke-width="1"/>
<line x1="399.4" y1="249.6" x2="402.2" y2="249.6" stroke="#444" stroke-width="1"/>
<line x1="399.4" y1="272.3" x2="402.2" y2="272.3" stroke="#444" stroke-width="1"/>
<line x1="399.4" y1="294.9" x2="402.2" y2="294.9" stroke="#444" stroke-width="1"/>
<line x1="411.2" y1="318.6" x2="411.2" y2="315.8" stroke="#444" stroke-width="1"/>
<text transform="translate(411.2,332.8) scale(0.9,1)" font-size="10" fill="#222" text-anchor="middle" >404</text>
<line x1="434.9" y1="318.6" x2="434.9" y2="315.8" stroke="#444" stroke-width="1"/>
<text transform="translate(434.9,332.8) scale(0.9,1)" font-size="10" fill="#222" text-anchor="middle" >402</text>
<line x1="458.6" y1="318.6" x2="458.6" y2="315.8" stroke="#444" stroke-width="1"/>
<text transform="translate(458.6,332.8) scale(0.9,1)" font-size="10" fill="#222" text-anchor="middle" >400</text>
<line x1="482.3" y1="318.6" x2="482.3" y2="315.8" stroke="#444" stroke-width="1"/>
<text transform="translate(482.3,332.8) scale(0.9,1)" font-size="10" fill="#222" text-anchor="middle" >398</text>
<line x1="506" y1="318.6" x2="506" y2="315.8" stroke="#444" stroke-width="1"/>
<text transform="translate(506,332.8) scale(0.9,1)" font-size="10" fill="#222" text-anchor="middle" >396</text>
<line x1="529.6" y1="318.6" x2="529.6" y2="315.8" stroke="#444" stroke-width="1"/>
<text transform="translate(529.6,332.8) scale(0.9,1)" font-size="10" fill="#222" text-anchor="middle" >394</text>
<line x1="553.3" y1="318.6" x2="553.3" y2="315.8" stroke="#444" stroke-width="1"/>
<text transform="translate(553.3,332.8) scale(0.9,1)" font-size="10" fill="#222" text-anchor="middle" >392</text>
<line x1="577" y1="318.6" x2="577" y2="315.8" stroke="#444" stroke-width="1"/>
<text transform="translate(577,332.8) scale(0.9,1)" font-size="10" fill="#222" text-anchor="middle" >390</text>
<text transform="translate(488.2,345) scale(0.88,1)" font-size="10.4" fill="#222" text-anchor="middle" >Binding energy (eV)</text>
<text transform="translate(389.5,249) rotate(-90) scale(0.97,1)" font-size="10.2" fill="#222" text-anchor="middle" dominant-baseline="central" >Relative Intensity (a.u.)</text>
<path d="M399.4,299.1 399.9,299.1 400.3,299.3 400.8,299.4 401.3,299.9 401.8,299.9 402.2,299.7 402.7,299.9 403.2,299.7 403.7,299.7 404.1,299.8 404.6,299.6 405.1,299.7 405.6,299.6 406,299.6 406.5,299.4 407,299.4 407.5,299.6 407.9,299.7 408.4,299.6 408.9,299.8 409.3,299.6 409.8,299.5 410.3,299.4 410.8,299.5 411.2,299.4 411.7,299.3 412.2,299 412.7,298.9 413.1,298.6 413.6,298.5 414.1,298.6 414.6,298.6 415,298.4 415.5,298.6 416,298.5 416.4,298.5 416.9,298.7 417.4,298.8 417.9,299 418.3,299.1 418.8,298.9 419.3,298.8 419.8,299.1 420.2,298.9 420.7,298.9 421.2,298.9 421.7,298.8 422.1,298.9 422.6,298.9 423.1,298.8 423.6,298.7 424,298.6 424.5,298.7 425,298.3 425.4,298.5 425.9,298.4 426.4,298.7 426.9,298.7 427.3,299 427.8,299.2 428.3,298.9 428.8,298.8 429.2,298.3 429.7,298.3 430.2,298 430.7,298.2 431.1,298.4 431.6,298.3 432.1,298.4 432.6,298.3 433,298.3 433.5,298.7 434,298.9 434.4,299.3 434.9,299.4 435.4,299.3 435.9,299.4 436.3,299.2 436.8,299.2 437.3,299.2 437.8,299.2 438.2,299.3 438.7,299.1 439.2,299 439.7,299.1 440.1,299.3 440.6,299.5 441.1,299.6 441.6,299.7 442,299.8 442.5,300 443,299.9 443.4,300.4 443.9,300.6 444.4,300.8 444.9,300.8 445.3,300.9 445.8,300.6 446.3,300.7 446.8,300.6 447.2,300.7 447.7,301 448.2,301.2 448.7,301.1 449.1,301.4 449.6,301.3 450.1,301 450.5,300.7 451,300.5 451.5,300.2 452,300.4 452.4,300.8 452.9,301.2 453.4,301.4 453.9,301.4 454.3,301.3 454.8,301.1 455.3,301.2 455.8,301 456.2,301 456.7,300.9 457.2,301 457.7,301 458.1,300.9 458.6,300.9 459.1,300.8 459.5,300.8 460,300.9 460.5,300.9 461,300.6 461.4,300.4 461.9,299.9 462.4,299.5 462.9,298.8 463.3,298.3 463.8,297.9 464.3,297.5 464.8,297 465.2,296.5 465.7,295.7 466.2,294.6 466.7,293.2 467.1,292 467.6,290.3 468.1,288.7 468.5,287 469,284.7 469.5,282.3 470,279.9 470.4,277.1 470.9,274.3 471.4,271.7 471.9,268.8 472.3,265.5 472.8,262.1 473.3,258.3 473.8,254.5 474.2,250.6 474.7,246.5 475.2,242.3 475.6,238.4 476.1,234.4 476.6,230.5 477.1,227 477.5,223.3 478,220.1 478.5,216.9 479,214.1 479.4,211.4 479.9,209.5 480.4,208.5 480.9,208 481.3,207.8 481.8,208.3 482.3,209.4 482.8,210.7 483.2,212.5 483.7,214.5 484.2,217 484.6,220 485.1,223.4 485.6,226.5 486.1,230.1 486.5,233.9 487,237.8 487.5,241.8 488,245.8 488.4,249.9 488.9,253.8 489.4,257.7 489.9,261.4 490.3,265.3 490.8,268.6 491.3,272 491.8,275.2 492.2,278.1 492.7,280.6 493.2,282.8 493.6,284.7 494.1,286.8 494.6,288.6 495.1,290.5 495.5,292.2 496,293.5 496.5,294.8 497,295.8 497.4,296.7 497.9,297.9 498.4,298.7 498.9,299.3 499.3,299.7 499.8,299.9 500.3,300.1 500.8,300.3 501.2,300.6 501.7,300.9 502.2,301.4 502.6,302 503.1,302.3 503.6,302.6 504.1,302.6 504.5,302.6 505,302.8 505.5,302.8 506,303.1 506.4,303 506.9,303 507.4,303 507.9,302.8 508.3,303 508.8,303 509.3,303 509.7,303.1 510.2,303.2 510.7,303.4 511.2,303.2 511.6,303.4 512.1,303.4 512.6,303.5 513.1,303.4 513.5,303.5 514,303.3 514.5,303.2 515,303.4 515.4,303.4 515.9,303.3 516.4,303.5 516.9,303.4 517.3,303.4 517.8,303.5 518.3,303.6 518.7,303.8 519.2,304.1 519.7,304.1 520.2,304 520.6,304.1 521.1,304 521.6,304 522.1,303.9 522.5,303.8 523,303.9 523.5,303.9 524,304 524.4,304.2 524.9,304 525.4,303.9 525.9,304.1 526.3,303.9 526.8,304 527.3,303.8 527.7,304.1 528.2,304.1 528.7,304.3 529.2,304.5 529.6,304.6 530.1,304.6 530.6,304.6 531.1,304.8 531.5,304.8 532,304.7 532.5,304.6 533,304.6 533.4,304.4 533.9,304.3 534.4,304.2 534.8,304.3 535.3,304.4 535.8,304.7 536.3,304.8 536.7,304.9 537.2,304.7 537.7,304.4 538.2,304.4 538.6,303.9 539.1,303.9 539.6,304.1 540.1,304.1 540.5,304.4 541,304.5 541.5,304.3 542,304.5 542.4,304.3 542.9,304.7 543.4,304.7 543.8,304.5 544.3,304.6 544.8,304.5 545.3,304.5 545.7,304.3 546.2,304.3 546.7,304 547.2,304.2 547.6,304.1 548.1,304.1 548.6,304 549.1,304.2 549.5,304.4 550,304.6 550.5,304.8 551,304.8 551.4,304.7 551.9,304.8 552.4,304.4 552.8,304.4 553.3,304.4 553.8,304.4 554.3,304.4 554.7,304.6 555.2,304.7 555.7,304.9 556.2,304.9 556.6,304.7 557.1,304.9 557.6,304.8 558.1,304.8 558.5,304.7 559,304.7 559.5,304.5 560,304.3 560.4,304.3 560.9,304.3 561.4,304.1 561.8,304.4 562.3,304.3 562.8,304.3 563.3,304.2 563.7,304.3 564.2,304.4 564.7,304.4 565.2,304.4 565.6,304.4 566.1,304.4 566.6,304.4 567.1,304.5 567.5,304.3 568,304.3 568.5,304.4 568.9,304.6 569.4,304.8 569.9,304.7 570.4,304.7 570.8,304.6 571.3,304.3 571.8,304.2 572.3,304.2 572.7,304.1 573.2,304.5 573.7,304.9 574.2,305 574.6,305.2 575.1,304.9 575.6,304.7 576.1,304.5 576.5,304.2 577,304.3" stroke="#c43434" stroke-width="1.1" fill="none"/>
<text transform="translate(404.1,193.1) scale(0.9,1)" font-size="10" fill="#222" text-anchor="start" >1:2 CuCl<tspan font-size="9.2" dy="2.8">2</tspan><tspan dy="-2.8"> / ICA</tspan></text>
<text transform="translate(574.6,191.7) scale(0.9,1)" font-size="10" fill="#222" text-anchor="end" >N1s</text>
<text transform="translate(483.7,202.4) scale(0.93,1)" font-size="8.6" fill="#ff1aff" text-anchor="middle" stroke="#ff1aff" stroke-width="0.18">N-imidazole</text>
<text transform="translate(427.4,292.9) scale(0.93,1)" font-size="8.4" fill="#ff1aff" text-anchor="middle" stroke="#ff1aff" stroke-width="0.18">Satellite</text>
<path d="M601.7,181.2 L779.6,181.2 L779.6,319.2 L601.7,319.2 Z" fill="none" stroke="#444" stroke-width="1.2"/>
<line x1="601.7" y1="194.3" x2="604.5" y2="194.3" stroke="#444" stroke-width="1"/>
<line x1="601.7" y1="215.4" x2="604.5" y2="215.4" stroke="#444" stroke-width="1"/>
<line x1="601.7" y1="236.4" x2="604.5" y2="236.4" stroke="#444" stroke-width="1"/>
<line x1="601.7" y1="257.2" x2="604.5" y2="257.2" stroke="#444" stroke-width="1"/>
<line x1="601.7" y1="278" x2="604.5" y2="278" stroke="#444" stroke-width="1"/>
<line x1="601.7" y1="298.7" x2="604.5" y2="298.7" stroke="#444" stroke-width="1"/>
<line x1="614.4" y1="319.2" x2="614.4" y2="316.4" stroke="#444" stroke-width="1"/>
<text transform="translate(614.4,332.8) scale(0.9,1)" font-size="10" fill="#222" text-anchor="middle" >294</text>
<line x1="639.7" y1="319.2" x2="639.7" y2="316.4" stroke="#444" stroke-width="1"/>
<text transform="translate(639.7,332.8) scale(0.9,1)" font-size="10" fill="#222" text-anchor="middle" >292</text>
<line x1="665.1" y1="319.2" x2="665.1" y2="316.4" stroke="#444" stroke-width="1"/>
<text transform="translate(665.1,332.8) scale(0.9,1)" font-size="10" fill="#222" text-anchor="middle" >290</text>
<line x1="690.5" y1="319.2" x2="690.5" y2="316.4" stroke="#444" stroke-width="1"/>
<text transform="translate(690.5,332.8) scale(0.9,1)" font-size="10" fill="#222" text-anchor="middle" >288</text>
<line x1="715.8" y1="319.2" x2="715.8" y2="316.4" stroke="#444" stroke-width="1"/>
<text transform="translate(715.8,332.8) scale(0.9,1)" font-size="10" fill="#222" text-anchor="middle" >286</text>
<line x1="741.2" y1="319.2" x2="741.2" y2="316.4" stroke="#444" stroke-width="1"/>
<text transform="translate(741.2,332.8) scale(0.9,1)" font-size="10" fill="#222" text-anchor="middle" >284</text>
<line x1="766.5" y1="319.2" x2="766.5" y2="316.4" stroke="#444" stroke-width="1"/>
<text transform="translate(766.5,332.8) scale(0.9,1)" font-size="10" fill="#222" text-anchor="middle" >282</text>
<text transform="translate(690.7,345) scale(0.88,1)" font-size="10.4" fill="#222" text-anchor="middle" >Binding energy (eV)</text>
<text transform="translate(587.7,249.6) rotate(-90) scale(0.97,1)" font-size="10.2" fill="#222" text-anchor="middle" dominant-baseline="central" >Relative Intensity (a.u.)</text>
<path d="M601.7,302.6 602.1,302.6 602.6,302.6 603,302.6 603.5,302.6 603.9,302.6 604.4,302.6 604.8,302.6 605.3,302.6 605.7,302.6 606.1,302.6 606.6,302.6 607,302.6 607.5,302.6 607.9,302.6 608.4,302.6 608.8,302.6 609.2,302.6 609.7,302.6 610.1,302.6 610.6,302.6 611,302.6 611.5,302.6 611.9,302.6 612.4,302.6 612.8,302.6 613.2,302.6 613.7,302.6 614.1,302.6 614.6,302.6 615,302.6 615.5,302.6 615.9,302.6 616.3,302.6 616.8,302.6 617.2,302.6 617.7,302.6 618.1,302.6 618.6,302.6 619,302.6 619.5,302.6 619.9,302.6 620.3,302.6 620.8,302.6 621.2,302.6 621.7,302.6 622.1,302.6 622.6,302.6 623,302.6 623.4,302.6 623.9,302.6 624.3,302.6 624.8,302.6 625.2,302.6 625.7,302.6 626.1,302.6 626.6,302.6 627,302.6 627.4,302.6 627.9,302.6 628.3,302.6 628.8,302.6 629.2,302.6 629.7,302.6 630.1,302.6 630.5,302.6 631,302.6 631.4,302.6 631.9,302.6 632.3,302.6 632.8,302.6 633.2,302.6 633.7,302.6 634.1,302.6 634.5,302.6 635,302.6 635.4,302.6 635.9,302.6 636.3,302.6 636.8,302.6 637.2,302.6 637.6,302.6 638.1,302.6 638.5,302.6 639,302.6 639.4,302.6 639.9,302.6 640.3,302.6 640.8,302.6 641.2,302.6 641.6,302.6 642.1,302.6 642.5,302.6 643,302.6 643.4,302.6 643.9,302.6 644.3,302.6 644.7,302.6 645.2,302.6 645.6,302.6 646.1,302.6 646.5,302.6 647,302.6 647.4,302.6 647.9,302.6 648.3,302.6 648.7,302.6 649.2,302.6 649.6,302.6 650.1,302.6 650.5,302.6 651,302.6 651.4,302.6 651.8,302.7 652.3,302.7 652.7,302.7 653.2,302.7 653.6,302.7 654.1,302.7 654.5,302.7 655,302.7 655.4,302.7 655.8,302.7 656.3,302.7 656.7,302.7 657.2,302.7 657.6,302.7 658.1,302.7 658.5,302.7 659,302.7 659.4,302.7 659.8,302.7 660.3,302.7 660.7,302.7 661.2,302.7 661.6,302.7 662.1,302.7 662.5,302.7 662.9,302.7 663.4,302.7 663.8,302.7 664.3,302.7 664.7,302.7 665.2,302.7 665.6,302.7 666.1,302.7 666.5,302.7 666.9,302.7 667.4,302.7 667.8,302.7 668.3,302.7 668.7,302.8 669.2,302.8 669.6,302.8 670,302.8 670.5,302.8 670.9,302.8 671.4,302.8 671.8,302.8 672.3,302.8 672.7,302.8 673.2,302.8 673.6,302.8 674,302.8 674.5,302.8 674.9,302.8 675.4,302.8 675.8,302.8 676.3,302.8 676.7,302.9 677.1,302.9 677.6,302.9 678,302.9 678.5,302.9 678.9,302.9 679.4,302.9 679.8,302.9 680.3,302.9 680.7,302.9 681.1,302.9 681.6,302.9 682,303 682.5,303 682.9,303 683.4,303 683.8,303 684.2,303 684.7,303 685.1,303 685.6,303 686,303.1 686.5,303.1 686.9,303.1 687.4,303.1 687.8,303.1 688.2,303.1 688.7,303.1 689.1,303.2 689.6,303.2 690,303.2 690.5,303.2 690.9,303.2 691.3,303.2 691.8,303.3 692.2,303.3 692.7,303.3 693.1,303.3 693.6,303.3 694,303.3 694.5,303.4 694.9,303.4 695.3,303.4 695.8,303.4 696.2,303.5 696.7,303.5 697.1,303.5 697.6,303.5 698,303.5 698.4,303.6 698.9,303.6 699.3,303.6 699.8,303.7 700.2,303.7 700.7,303.7 701.1,303.7 701.6,303.8 702,303.8 702.4,303.8 702.9,303.9 703.3,303.9 703.8,303.9 704.2,304 704.7,304 705.1,304 705.5,304.1 706,304.1 706.4,304.1 706.9,304.2 707.3,304.2 707.8,304.2 708.2,304.3 708.7,304.3 709.1,304.4 709.5,304.4 710,304.4 710.4,304.5 710.9,304.5 711.3,304.6 711.8,304.6 712.2,304.7 712.7,304.7 713.1,304.8 713.5,304.8 714,304.9 714.4,304.9 714.9,304.9 715.3,305 715.8,305 716.2,305.1 716.6,305.2 717.1,305.2 717.5,305.3 718,305.3 718.4,305.4 718.9,305.4 719.3,305.5 719.8,305.5 720.2,305.6 720.6,305.6 721.1,305.7 721.5,305.8 722,305.8 722.4,305.9 722.9,305.9 723.3,306 723.7,306.1 724.2,306.1 724.6,306.2 725.1,306.2 725.5,306.3 726,306.4 726.4,306.4 726.9,306.5 727.3,306.6 727.7,306.6 728.2,306.7 728.6,306.7 729.1,306.8 729.5,306.9 730,306.9 730.4,307 730.8,307.1 731.3,307.1 731.7,307.2 732.2,307.2 732.6,307.3 733.1,307.4 733.5,307.4 734,307.5 734.4,307.5 734.8,307.6 735.3,307.7 735.7,307.7 736.2,307.8 736.6,307.9 737.1,307.9 737.5,308 737.9,308 738.4,308.1 738.8,308.1 739.3,308.2 739.7,308.3 740.2,308.3 740.6,308.4 741.1,308.4 741.5,308.5 741.9,308.5 742.4,308.6 742.8,308.6 743.3,308.7 743.7,308.7 744.2,308.8 744.6,308.8 745,308.9 745.5,308.9 745.9,309 746.4,309 746.8,309.1 747.3,309.1 747.7,309.2 748.2,309.2 748.6,309.3 749,309.3 749.5,309.4 749.9,309.4 750.4,309.4 750.8,309.5 751.3,309.5 751.7,309.6 752.1,309.6 752.6,309.6 753,309.7 753.5,309.7 753.9,309.7 754.4,309.8 754.8,309.8 755.3,309.8 755.7,309.9 756.1,309.9 756.6,309.9 757,310 757.5,310 757.9,310 758.4,310.1 758.8,310.1 759.2,310.1 759.7,310.1 760.1,310.2 760.6,310.2 761,310.2 761.5,310.2 761.9,310.3 762.4,310.3 762.8,310.3 763.2,310.3 763.7,310.4 764.1,310.4 764.6,310.4 765,310.4 765.5,310.4 765.9,310.5 766.3,310.5 766.8,310.5 767.2,310.5 767.7,310.5 768.1,310.6 768.6,310.6 769,310.6 769.5,310.6 769.9,310.6 770.3,310.6 770.8,310.7 771.2,310.7 771.7,310.7 772.1,310.7 772.6,310.7 773,310.7 773.5,310.7 773.9,310.8 774.3,310.8 774.8,310.8 775.2,310.8 775.7,310.8 776.1,310.8 776.6,310.8 777,310.8 777.4,310.8 777.9,310.9 778.3,310.9 778.8,310.9 779.2,310.9" stroke="#ff1aff" stroke-width="0.9" fill="none"/>
<path d="M690,302.9 690.5,302.8 690.9,302.8 691.3,302.8 691.8,302.7 692.2,302.6 692.7,302.6 693.1,302.5 693.6,302.4 694,302.3 694.5,302.2 694.9,302 695.3,301.9 695.8,301.7 696.2,301.5 696.7,301.3 697.1,301.1 697.6,300.8 698,300.5 698.4,300.2 698.9,299.9 699.3,299.5 699.8,299.2 700.2,298.7 700.7,298.3 701.1,297.8 701.6,297.3 702,296.8 702.4,296.2 702.9,295.6 703.3,294.9 703.8,294.3 704.2,293.6 704.7,292.8 705.1,292.1 705.5,291.3 706,290.5 706.4,289.7 706.9,288.8 707.3,288 707.8,287.1 708.2,286.3 708.7,285.4 709.1,284.5 709.5,283.6 710,282.8 710.4,281.9 710.9,281.1 711.3,280.3 711.8,279.6 712.2,278.8 712.7,278.1 713.1,277.5 713.5,276.9 714,276.3 714.4,275.9 714.9,275.4 715.3,275.1 715.8,274.8 716.2,274.5 716.6,274.4 717.1,274.3 717.5,274.3 718,274.3 718.4,274.5 718.9,274.7 719.3,274.9 719.8,275.3 720.2,275.7 720.6,276.2 721.1,276.7 721.5,277.3 722,278 722.4,278.7 722.9,279.5 723.3,280.3 723.7,281.1 724.2,282 724.6,282.9 725.1,283.8 725.5,284.8 726,285.7 726.4,286.7 726.9,287.7 727.3,288.7 727.7,289.6 728.2,290.6 728.6,291.5 729.1,292.5 729.5,293.4 730,294.3 730.4,295.2 730.8,296 731.3,296.8 731.7,297.6 732.2,298.4 732.6,299.1 733.1,299.8 733.5,300.5 734,301.1 734.4,301.7 734.8,302.3 735.3,302.8 735.7,303.3 736.2,303.8 736.6,304.2 737.1,304.6 737.5,305 737.9,305.4 738.4,305.7 738.8,306 739.3,306.3 739.7,306.6 740.2,306.8 740.6,307 741.1,307.2 741.5,307.4 741.9,307.6 742.4,307.8 742.8,307.9 743.3,308.1 743.7,308.2 744.2,308.3 744.6,308.4 745,308.5 745.5,308.6 745.9,308.7 746.4,308.8 746.8,308.9 747.3,309 747.7,309 748.2,309.1 748.6,309.2 749,309.2 749.5,309.3 749.9,309.3 750.4,309.4 750.8,309.4 751.3,309.5 751.7,309.5 752.1,309.6 752.6,309.6 753,309.7 753.5,309.7 753.9,309.7 754.4,309.8 754.8,309.8 755.3,309.8 755.7,309.9 756.1,309.9 756.6,309.9 757,310 757.5,310 757.9,310 758.4,310.1 758.8,310.1 759.2,310.1 759.7,310.1 760.1,310.2 760.6,310.2 761,310.2 761.5,310.2 761.9,310.3 762.4,310.3 762.8,310.3 763.2,310.3 763.7,310.4 764.1,310.4 764.6,310.4" stroke="#f05a5a" stroke-width="0.9" fill="none"/>
<path d="M700.2,303.1 700.7,303.1 701.1,303.1 701.6,303.1 702,303.1 702.4,303.1 702.9,303.1 703.3,303.2 703.8,303.2 704.2,303.2 704.7,303.2 705.1,303.2 705.5,303.2 706,303.2 706.4,303.2 706.9,303.2 707.3,303.2 707.8,303.3 708.2,303.3 708.7,303.3 709.1,303.2 709.5,303.2 710,303.2 710.4,303.2 710.9,303.2 711.3,303.1 711.8,303.1 712.2,303 712.7,303 713.1,302.9 713.5,302.8 714,302.7 714.4,302.6 714.9,302.4 715.3,302.2 715.8,302 716.2,301.8 716.6,301.5 717.1,301.2 717.5,300.9 718,300.5 718.4,300 718.9,299.5 719.3,299 719.8,298.4 720.2,297.7 720.6,296.9 721.1,296.1 721.5,295.1 722,294.1 722.4,293 722.9,291.8 723.3,290.5 723.7,289.1 724.2,287.6 724.6,285.9 725.1,284.2 725.5,282.3 726,280.3 726.4,278.2 726.9,276 727.3,273.7 727.7,271.2 728.2,268.6 728.6,266 729.1,263.2 729.5,260.4 730,257.4 730.4,254.4 730.8,251.4 731.3,248.3 731.7,245.1 732.2,242 732.6,238.8 733.1,235.7 733.5,232.6 734,229.6 734.4,226.6 734.8,223.7 735.3,221 735.7,218.3 736.2,215.8 736.6,213.5 737.1,211.4 737.5,209.5 737.9,207.9 738.4,206.4 738.8,205.3 739.3,204.4 739.7,203.8 740.2,203.4 740.6,203.4 741.1,203.6 741.5,204.1 741.9,205 742.4,206 742.8,207.4 743.3,209 743.7,210.9 744.2,212.9 744.6,215.2 745,217.7 745.5,220.3 745.9,223.1 746.4,226 746.8,229 747.3,232.1 747.7,235.3 748.2,238.5 748.6,241.7 749,245 749.5,248.2 749.9,251.5 750.4,254.7 750.8,257.8 751.3,260.9 751.7,263.9 752.1,266.8 752.6,269.7 753,272.4 753.5,275 753.9,277.5 754.4,279.9 754.8,282.2 755.3,284.4 755.7,286.4 756.1,288.4 756.6,290.2 757,291.9 757.5,293.5 757.9,294.9 758.4,296.3 758.8,297.6 759.2,298.7 759.7,299.8 760.1,300.8 760.6,301.7 761,302.5 761.5,303.3 761.9,304 762.4,304.6 762.8,305.1 763.2,305.6 763.7,306.1 764.1,306.5 764.6,306.9 765,307.2 765.5,307.5 765.9,307.8 766.3,308 766.8,308.2 767.2,308.4 767.7,308.6 768.1,308.7 768.6,308.9 769,309 769.5,309.1 769.9,309.2 770.3,309.3 770.8,309.4 771.2,309.5 771.7,309.5 772.1,309.6 772.6,309.7 773,309.7 773.5,309.8 773.9,309.8 774.3,309.9 774.8,309.9" stroke="#7070c0" stroke-width="0.8" fill="none"/>
<path d="M601.7,302.4 602.1,302.4 602.6,302.5 603,302.7 603.5,302.7 603.9,303 604.4,302.9 604.8,302.6 605.3,302.5 605.7,302.5 606.1,302.5 606.6,302.4 607,302.6 607.5,302.7 607.9,302.8 608.4,302.8 608.8,302.8 609.2,302.7 609.7,302.4 610.1,302.5 610.6,302.3 611,302.4 611.5,302.2 611.9,302.1 612.4,302.1 612.8,302 613.2,302.3 613.7,302.3 614.1,302.4 614.6,302.5 615,302.6 615.5,302.4 615.9,302.4 616.3,302.3 616.8,302.4 617.2,302.3 617.7,302.3 618.1,302.5 618.6,302.4 619,302.6 619.5,302.5 619.9,302.5 620.3,302.6 620.8,302.7 621.2,302.7 621.7,302.8 622.1,302.7 622.6,302.8 623,302.7 623.4,302.7 623.9,302.7 624.3,302.7 624.8,302.9 625.2,303 625.7,303 626.1,303 626.6,303 627,302.7 627.4,302.7 627.9,302.6 628.3,302.5 628.8,302.4 629.2,302.6 629.7,302.5 630.1,302.8 630.5,302.9 631,302.6 631.4,302.7 631.9,302.5 632.3,302.6 632.8,302.5 633.2,302.6 633.7,302.6 634.1,302.7 634.5,302.9 635,302.9 635.4,302.6 635.9,302.6 636.3,302.5 636.8,302.3 637.2,302.2 637.6,302.2 638.1,302.3 638.5,302.3 639,302.3 639.4,302.4 639.9,302.3 640.3,302.3 640.8,302.3 641.2,302 641.6,302 642.1,302.2 642.5,302.4 643,302.4 643.4,302.6 643.9,302.6 644.3,302.5 644.7,302.5 645.2,302.5 645.6,302.3 646.1,302.2 646.5,302 647,301.8 647.4,301.8 647.9,301.7 648.3,301.7 648.7,301.6 649.2,301.7 649.6,301.5 650.1,301.6 650.5,301.4 651,301.4 651.4,301.1 651.8,300.9 652.3,300.5 652.7,300.3 653.2,300.2 653.6,300 654.1,300 654.5,300 655,299.7 655.4,299.7 655.8,299.5 656.3,299.1 656.7,298.8 657.2,298.6 657.6,298.5 658.1,298.3 658.5,297.9 659,297.8 659.4,297.4 659.8,297.4 660.3,297.4 660.7,297.2 661.2,297.2 661.6,297 662.1,296.9 662.5,296.4 662.9,296.3 663.4,296 663.8,295.9 664.3,295.6 664.7,295.3 665.2,295.1 665.6,294.6 666.1,294.5 666.5,294.2 666.9,294.2 667.4,293.8 667.8,293.6 668.3,293.5 668.7,293.5 669.2,293.4 669.6,293.2 670,293.3 670.5,293.2 670.9,293.4 671.4,293.5 671.8,293.4 672.3,293.6 672.7,293.8 673.2,293.6 673.6,293.7 674,293.4 674.5,293.6 674.9,293.6 675.4,293.6 675.8,293.9 676.3,294.2 676.7,294.7 677.1,294.9 677.6,294.9 678,295.1 678.5,295.3 678.9,295.8 679.4,295.9 679.8,296.2 680.3,296.3 680.7,296.3 681.1,296.5 681.6,296.7 682,296.9 682.5,297.2 682.9,297.4 683.4,297.7 683.8,297.9 684.2,298.2 684.7,298.5 685.1,298.6 685.6,298.8 686,299.1 686.5,299.3 686.9,299.6 687.4,300.2 687.8,300.5 688.2,300.7 688.7,300.8 689.1,300.8 689.6,300.9 690,300.9 690.5,301 690.9,301.1 691.3,301.1 691.8,301.2 692.2,301.2 692.7,301 693.1,301 693.6,300.8 694,300.9 694.5,300.7 694.9,300.5 695.3,300.6 695.8,300.5 696.2,300.3 696.7,300.1 697.1,299.9 697.6,299.7 698,299.6 698.4,299.6 698.9,299.5 699.3,299.1 699.8,298.5 700.2,298.2 700.7,298.1 701.1,297.5 701.6,297 702,296.5 702.4,295.7 702.9,295.1 703.3,294.1 703.8,293.3 704.2,292.7 704.7,292.2 705.1,291.7 705.5,290.9 706,290.3 706.4,289.3 706.9,288.4 707.3,287.3 707.8,286.3 708.2,285.3 708.7,284.5 709.1,283.4 709.5,282.2 710,281.2 710.4,280.2 710.9,279.4 711.3,278.7 711.8,277.8 712.2,277.1 712.7,276.4 713.1,275.6 713.5,275.1 714,274.3 714.4,273.8 714.9,273 715.3,272.5 715.8,271.8 716.2,271.4 716.6,270.9 717.1,270.2 717.5,269.8 718,269.7 718.4,269.2 718.9,269 719.3,268.6 719.8,268.3 720.2,267.9 720.6,267.1 721.1,266.5 721.5,266.1 722,265.9 722.4,265.7 722.9,265.5 723.3,264.9 723.7,264.5 724.2,263.9 724.6,262.9 725.1,262 725.5,260.8 726,259.9 726.4,258.5 726.9,257.2 727.3,255.9 727.7,254.3 728.2,252.5 728.6,250.6 729.1,248.6 729.5,246.7 730,244.4 730.4,242.1 730.8,240 731.3,237.8 731.7,235.8 732.2,233.6 732.6,231.2 733.1,228.6 733.5,225.8 734,222.9 734.4,220.2 734.8,217.8 735.3,215.6 735.7,213.6 736.2,212 736.6,210.5 737.1,208.7 737.5,207.1 737.9,205.5 738.4,204 738.8,202.8 739.3,202.2 739.7,201.5 740.2,201.6 740.6,201.5 741.1,202 741.5,202.8 741.9,203.7 742.4,205.1 742.8,206.6 743.3,208.4 743.7,210.4 744.2,212.3 744.6,214.5 745,216.8 745.5,219.4 745.9,222.2 746.4,225.2 746.8,228.5 747.3,232.1 747.7,235.5 748.2,238.7 748.6,242 749,245.3 749.5,248.5 749.9,251.8 750.4,255.1 750.8,258.1 751.3,260.9 751.7,263.8 752.1,266.5 752.6,269.3 753,272 753.5,274.6 753.9,277.1 754.4,279.4 754.8,281.7 755.3,284 755.7,286.1 756.1,288.4 756.6,290.3 757,292 757.5,293.7 757.9,294.9 758.4,296.2 758.8,297.5 759.2,298.7 759.7,299.8 760.1,300.5 760.6,301.5 761,302.3 761.5,303.2 761.9,303.9 762.4,304.7 762.8,305.2 763.2,305.9 763.7,306.5 764.1,306.7 764.6,307.4 765,307.7 765.5,308 765.9,308.2 766.3,308.5 766.8,308.6 767.2,308.5 767.7,308.6 768.1,308.7 768.6,308.8 769,309.2 769.5,309.3 769.9,309.7 770.3,309.8 770.8,310 771.2,309.8 771.7,309.8 772.1,309.7 772.6,309.8 773,309.7 773.5,309.7 773.9,309.8 774.3,309.8 774.8,309.6 775.2,309.8 775.7,309.6 776.1,309.8 776.6,309.7 777,309.7 777.4,309.7 777.9,309.8 778.3,309.9 778.8,310.2 779.2,310.4" stroke="#1e1e1e" stroke-width="1.05" fill="none"/>
<path d="M601.7,302.4 602.1,302.4 602.6,302.5 603,302.7 603.5,302.7 603.9,303 604.4,302.9 604.8,302.6 605.3,302.5 605.7,302.5 606.1,302.5 606.6,302.4 607,302.6 607.5,302.7 607.9,302.8 608.4,302.8 608.8,302.8 609.2,302.7 609.7,302.4 610.1,302.5 610.6,302.3 611,302.4 611.5,302.2 611.9,302.1 612.4,302.1 612.8,302 613.2,302.3 613.7,302.3 614.1,302.4 614.6,302.5 615,302.6 615.5,302.4 615.9,302.4 616.3,302.3 616.8,302.4 617.2,302.3 617.7,302.3 618.1,302.5 618.6,302.4 619,302.6 619.5,302.5 619.9,302.5 620.3,302.6 620.8,302.7 621.2,302.7 621.7,302.8 622.1,302.7 622.6,302.8 623,302.7 623.4,302.7 623.9,302.7 624.3,302.7 624.8,302.9 625.2,303 625.7,303 626.1,303 626.6,303 627,302.7 627.4,302.7 627.9,302.6 628.3,302.5 628.8,302.4 629.2,302.6 629.7,302.5 630.1,302.8 630.5,302.9 631,302.6 631.4,302.7 631.9,302.5 632.3,302.6 632.8,302.5 633.2,302.6 633.7,302.6 634.1,302.7 634.5,302.9 635,302.9 635.4,302.6 635.9,302.6 636.3,302.5 636.8,302.3 637.2,302.2 637.6,302.2 638.1,302.3 638.5,302.3 639,302.3 639.4,302.4 639.9,302.3 640.3,302.3 640.8,302.3 641.2,302 641.6,302 642.1,302.2 642.5,302.4 643,302.4 643.4,302.6 643.9,302.6 644.3,302.5 644.7,302.5" stroke="#ff1aff" stroke-width="0.9" fill="none"/>
<path d="M729.1,263.2 729.5,260.4 730,257.4 730.4,254.4 730.8,251.4 731.3,248.3 731.7,245.1 732.2,242 732.6,238.8 733.1,235.7 733.5,232.6 734,229.6 734.4,226.6 734.8,223.7 735.3,221 735.7,218.3 736.2,215.8 736.6,213.5 737.1,211.4 737.5,209.5 737.9,207.9 738.4,206.4 738.8,205.3 739.3,204.4 739.7,203.8 740.2,203.4 740.6,203.4 741.1,203.6 741.5,204.1 741.9,205 742.4,206 742.8,207.4 743.3,209 743.7,210.9 744.2,212.9 744.6,215.2 745,217.7 745.5,220.3 745.9,223.1 746.4,226 746.8,229 747.3,232.1 747.7,235.3 748.2,238.5 748.6,241.7 749,245 749.5,248.2 749.9,251.5 750.4,254.7 750.8,257.8 751.3,260.9 751.7,263.9 752.1,266.8 752.6,269.7 753,272.4 753.5,275 753.9,277.5 754.4,279.9 754.8,282.2 755.3,284.4 755.7,286.4 756.1,288.4 756.6,290.2 757,291.9 757.5,293.5 757.9,294.9 758.4,296.3 758.8,297.6 759.2,298.7 759.7,299.8 760.1,300.8 760.6,301.7 761,302.5 761.5,303.3 761.9,304 762.4,304.6 762.8,305.1 763.2,305.6 763.7,306.1 764.1,306.5 764.6,306.9 765,307.2 765.5,307.5 765.9,307.8 766.3,308 766.8,308.2 767.2,308.4 767.7,308.6 768.1,308.7 768.6,308.9 769,309 769.5,309.1 769.9,309.2 770.3,309.3 770.8,309.4 771.2,309.5 771.7,309.5" stroke="#3030a8" stroke-width="1.2" fill="none"/>
<text transform="translate(606.1,194.3) scale(0.9,1)" font-size="10" fill="#222" text-anchor="start" >1:2 CuCl<tspan font-size="9.2" dy="2.8">2</tspan><tspan dy="-2.8"> / ICA</tspan></text>
<text transform="translate(776.6,191.5) scale(0.9,1)" font-size="10" fill="#222" text-anchor="end" >C1s</text>
<text x="740.4" y="198.4" font-size="8.6" fill="#ff1aff" text-anchor="middle" stroke="#ff1aff" stroke-width="0.15">C-C</text>
<text transform="translate(704,266.2) scale(0.93,1)" font-size="8.6" fill="#ff1aff" text-anchor="middle" stroke="#ff1aff" stroke-width="0.18">C-N/C-O</text>
<text transform="translate(671.8,290.6) scale(0.93,1)" font-size="8.6" fill="#ff1aff" text-anchor="middle" stroke="#ff1aff" stroke-width="0.18">C=N/C=O</text>
</svg></body></html>
